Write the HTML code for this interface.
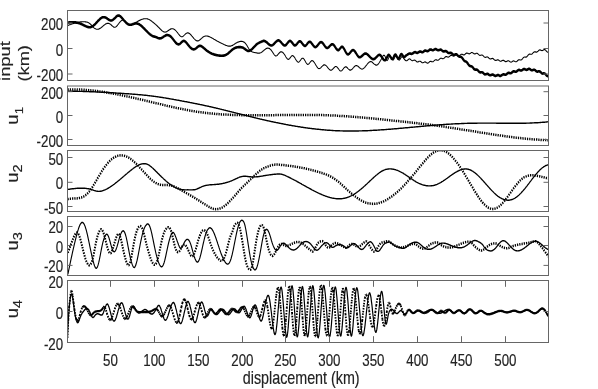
<!DOCTYPE html>
<html><head><meta charset="utf-8"><title>plot</title><style>html,body{margin:0;padding:0;background:#fff}</style></head><body>
<svg width="598" height="389" viewBox="0 0 598 389" style="display:block;font-family:'Liberation Sans',sans-serif">
<rect width="598" height="389" fill="#fff"/>
<clipPath id="cp0"><rect x="67.5" y="10.5" width="481.0" height="70.0"/></clipPath>
<g clip-path="url(#cp0)"><g transform="scale(0.8,1)"><path d="M84.4 22.7L85.0 22.6L85.7 22.5L86.3 22.5L86.9 22.4L87.5 22.3L88.2 22.3L88.8 22.3L89.4 22.2L90.0 22.2L90.7 22.2L91.3 22.2L91.9 22.2L92.5 22.3L93.2 22.3L93.8 22.3L94.4 22.4L95.0 22.5L95.7 22.6L96.3 22.7L96.9 22.8L97.5 22.9L98.2 23.0L98.8 23.2L99.4 23.3L100.0 23.5L100.7 23.7L101.3 23.9L101.9 24.1L102.5 24.4L103.2 24.6L103.8 24.9L104.4 25.1L105.0 25.4L105.7 25.6L106.3 25.9L106.9 26.1L107.5 26.3L108.2 26.5L108.8 26.7L109.4 26.9L110.0 27.0L110.7 27.1L111.3 27.2L111.9 27.2L112.5 27.2L113.2 27.1L113.8 27.0L114.4 26.8L115.0 26.6L115.7 26.3L116.3 26.0L116.9 25.6L117.5 25.1L118.2 24.7L118.8 24.2L119.4 23.7L120.0 23.1L120.7 22.6L121.3 22.0L121.9 21.5L122.5 20.9L123.2 20.4L123.8 19.9L124.4 19.4L125.0 18.9L125.7 18.5L126.3 18.1L126.9 17.8L127.5 17.6L128.2 17.3L128.8 17.2L129.4 17.2L130.0 17.2L130.7 17.3L131.3 17.4L131.9 17.6L132.5 17.8L133.2 18.1L133.8 18.4L134.4 18.8L135.0 19.1L135.7 19.5L136.3 19.8L136.9 20.1L137.5 20.3L138.2 20.5L138.8 20.5L139.4 20.5L140.0 20.3L140.7 20.0L141.3 19.7L141.9 19.3L142.5 18.8L143.2 18.4L143.8 17.9L144.4 17.4L145.0 16.9L145.7 16.4L146.3 16.0L146.9 15.7L147.5 15.6L148.2 15.5L148.8 15.6L149.4 15.8L150.0 16.1L150.7 16.5L151.3 17.0L151.9 17.5L152.5 18.1L153.2 18.7L153.8 19.2L154.4 19.8L155.0 20.4L155.7 21.0L156.3 21.6L156.9 22.1L157.5 22.6L158.2 23.1L158.8 23.5L159.4 23.8L160.0 24.2L160.7 24.4L161.3 24.6L161.9 24.7L162.5 24.8L163.2 24.8L163.8 24.7L164.4 24.6L165.0 24.5L165.7 24.3L166.3 24.1L166.9 24.0L167.5 23.8L168.2 23.6L168.8 23.5L169.4 23.4L170.0 23.4L170.7 23.4L171.3 23.5L171.9 23.6L172.5 23.8L173.2 24.0L173.8 24.2L174.4 24.5L175.0 24.9L175.7 25.2L176.3 25.6L176.9 26.0L177.5 26.5L178.2 26.9L178.8 27.4L179.4 27.9L180.0 28.4L180.7 28.9L181.3 29.4L181.9 29.9L182.5 30.4L183.2 31.0L183.8 31.5L184.4 32.0L185.0 32.5L185.7 33.0L186.3 33.4L186.9 33.9L187.5 34.3L188.2 34.7L188.8 35.1L189.4 35.4L190.0 35.7L190.7 36.0L191.3 36.2L191.9 36.4L192.5 36.5L193.2 36.6L193.8 36.7L194.4 36.9L195.0 37.1L195.7 37.3L196.3 37.6L196.9 37.8L197.5 38.0L198.2 38.2L198.8 38.3L199.4 38.4L200.0 38.4L200.7 38.3L201.3 38.2L201.9 38.0L202.5 37.7L203.2 37.4L203.8 37.1L204.4 36.7L205.0 36.4L205.7 36.1L206.3 35.8L206.9 35.5L207.5 35.3L208.2 35.1L208.8 35.0L209.4 35.0L210.0 35.1L210.7 35.2L211.3 35.4L211.9 35.7L212.5 36.0L213.2 36.4L213.8 36.8L214.4 37.3L215.0 37.9L215.7 38.5L216.3 39.2L216.9 39.8L217.5 40.5L218.2 41.2L218.8 41.8L219.4 42.4L220.0 43.0L220.7 43.4L221.3 43.8L221.9 44.1L222.5 44.3L223.2 44.4L223.8 44.3L224.4 44.1L225.0 43.8L225.7 43.3L226.3 42.8L226.9 42.3L227.5 41.8L228.2 41.4L228.8 41.1L229.4 40.9L230.0 40.9L230.7 41.1L231.3 41.4L231.9 41.8L232.5 42.3L233.2 42.9L233.8 43.5L234.4 44.1L235.0 44.8L235.7 45.4L236.3 46.0L236.9 46.6L237.5 47.2L238.2 47.7L238.8 48.1L239.4 48.5L240.0 48.9L240.7 49.1L241.3 49.3L241.9 49.4L242.5 49.3L243.2 49.2L243.8 49.0L244.4 48.6L245.0 48.3L245.7 47.9L246.3 47.4L246.9 47.0L247.5 46.6L248.2 46.3L248.8 46.0L249.4 45.9L250.0 45.9L250.7 45.9L251.3 46.1L251.9 46.3L252.5 46.6L253.2 47.0L253.8 47.4L254.4 47.8L255.0 48.2L255.7 48.7L256.3 49.1L256.9 49.6L257.5 50.0L258.2 50.4L258.8 50.8L259.4 51.1L260.0 51.5L260.7 51.8L261.3 52.1L261.9 52.4L262.5 52.7L263.2 53.0L263.8 53.2L264.4 53.5L265.0 53.7L265.7 53.9L266.3 54.1L266.9 54.3L267.5 54.5L268.2 54.6L268.8 54.8L269.4 54.9L270.0 55.0L270.7 55.1L271.3 55.2L271.9 55.3L272.5 55.4L273.2 55.5L273.8 55.5L274.4 55.6L275.0 55.6L275.7 55.7L276.3 55.7L276.9 55.7L277.5 55.7L278.2 55.7L278.8 55.6L279.4 55.6L280.0 55.5L280.7 55.4L281.3 55.2L281.9 55.0L282.5 54.8L283.2 54.5L283.8 54.2L284.4 53.9L285.0 53.5L285.7 53.1L286.3 52.6L286.9 52.2L287.5 51.7L288.2 51.2L288.8 50.8L289.4 50.3L290.0 49.9L290.7 49.5L291.3 49.1L291.9 48.8L292.5 48.5L293.2 48.2L293.8 48.0L294.4 47.8L295.0 47.6L295.7 47.5L296.3 47.3L296.9 47.2L297.5 47.2L298.2 47.1L298.8 47.1L299.4 47.1L300.0 47.1L300.7 47.1L301.3 47.2L301.9 47.2L302.5 47.4L303.2 47.6L303.8 47.8L304.4 48.0L305.0 48.4L305.7 48.7L306.3 49.1L306.9 49.5L307.5 49.8L308.2 50.2L308.8 50.5L309.4 50.7L310.0 50.9L310.7 51.0L311.3 50.9L311.9 50.8L312.5 50.6L313.2 50.3L313.8 49.9L314.4 49.5L315.0 49.1L315.7 48.6L316.3 48.1L316.9 47.5L317.5 47.0L318.2 46.4L318.8 45.9L319.4 45.4L320.0 44.9L320.7 44.4L321.3 44.0L321.9 43.7L322.5 43.4L323.2 43.1L323.8 42.8L324.4 42.6L325.0 42.3L325.7 42.1L326.3 41.9L326.9 41.6L327.5 41.4L328.2 41.2L328.8 41.0L329.4 40.9L330.0 40.9L330.7 41.0L331.3 41.2L331.9 41.5L332.5 41.8L333.2 42.2L333.8 42.6L334.4 43.1L335.0 43.6L335.7 44.0L336.3 44.4L336.9 44.8L337.5 45.1L338.2 45.3L338.8 45.5L339.4 45.5L340.0 45.4L340.7 45.1L341.3 44.8L341.9 44.3L342.5 43.9L343.2 43.3L343.8 42.8L344.4 42.2L345.0 41.7L345.7 41.3L346.3 40.9L346.9 40.6L347.5 40.4L348.2 40.4L348.8 40.5L349.4 40.8L350.0 41.2L350.7 41.7L351.3 42.2L351.9 42.8L352.5 43.5L353.2 44.0L353.8 44.6L354.4 45.0L355.0 45.3L355.7 45.5L356.3 45.5L356.9 45.3L357.5 44.9L358.2 44.3L358.8 43.7L359.4 43.0L360.0 42.4L360.7 41.8L361.3 41.3L361.9 41.0L362.5 40.9L363.2 41.0L363.8 41.4L364.4 41.9L365.0 42.6L365.7 43.2L366.3 43.9L366.9 44.5L367.5 45.0L368.2 45.4L368.8 45.4L369.4 45.3L370.0 44.9L370.7 44.4L371.3 43.8L371.9 43.1L372.5 42.5L373.2 42.0L373.8 41.5L374.4 41.3L375.0 41.3L375.7 41.5L376.3 41.9L376.9 42.5L377.5 43.2L378.2 43.9L378.8 44.5L379.4 45.1L380.0 45.6L380.7 45.9L381.3 45.9L381.9 45.7L382.5 45.3L383.2 44.7L383.8 44.1L384.4 43.4L385.0 42.8L385.7 42.3L386.3 41.9L386.9 41.7L387.5 41.8L388.2 42.1L388.8 42.6L389.4 43.2L390.0 43.8L390.7 44.5L391.3 45.2L391.9 45.8L392.5 46.4L393.2 46.8L393.8 47.1L394.4 47.1L395.0 46.9L395.7 46.6L396.3 46.1L396.9 45.5L397.5 44.8L398.2 44.2L398.8 43.5L399.4 43.0L400.0 42.5L400.7 42.2L401.3 42.1L401.9 42.2L402.5 42.5L403.2 42.9L403.8 43.5L404.4 44.2L405.0 44.9L405.7 45.6L406.3 46.3L406.9 46.9L407.5 47.4L408.2 47.8L408.8 48.0L409.4 47.9L410.0 47.7L410.7 47.3L411.3 46.9L411.9 46.3L412.5 45.8L413.2 45.3L413.8 44.8L414.4 44.5L415.0 44.2L415.7 44.2L416.3 44.4L416.9 44.8L417.5 45.3L418.2 46.0L418.8 46.8L419.4 47.5L420.0 48.3L420.7 49.0L421.3 49.6L421.9 50.0L422.5 50.1L423.2 50.1L423.8 49.7L424.4 49.2L425.0 48.6L425.7 47.9L426.3 47.3L426.9 46.9L427.5 46.8L428.2 46.9L428.8 47.3L429.4 48.0L430.0 48.8L430.7 49.7L431.3 50.7L431.9 51.6L432.5 52.5L433.2 53.3L433.8 53.9L434.4 54.3L435.0 54.4L435.7 54.2L436.3 53.9L436.9 53.4L437.5 52.8L438.2 52.2L438.8 51.5L439.4 51.0L440.0 50.5L440.7 50.2L441.3 50.0L441.9 50.2L442.5 50.5L443.2 51.0L443.8 51.6L444.4 52.4L445.0 53.2L445.7 54.0L446.3 54.8L446.9 55.5L447.5 56.2L448.2 56.7L448.8 57.1L449.4 57.2L450.0 57.2L450.7 57.0L451.3 56.7L451.9 56.3L452.5 55.9L453.2 55.4L453.8 54.9L454.4 54.5L455.0 54.1L455.7 53.8L456.3 53.6L456.9 53.5L457.5 53.6L458.2 53.8L458.8 54.1L459.4 54.4L460.0 54.9L460.7 55.4L461.3 55.9L461.9 56.4L462.5 57.0L463.2 57.5L463.8 57.9L464.4 58.4L465.0 58.7L465.7 59.0L466.3 59.1L466.9 59.2L467.5 59.1L468.2 58.8L468.8 58.5L469.4 58.0L470.0 57.5L470.7 56.9L471.3 56.4L471.9 55.9L472.5 55.4L473.2 55.1L473.8 54.9L474.4 54.9L475.0 55.0L475.7 55.4L476.3 56.0L476.9 56.7L477.5 57.4L478.2 58.2L478.8 58.9L479.4 59.6L480.0 60.1L480.7 60.3L481.3 60.3L481.9 60.0L482.5 59.3L483.2 58.3L483.8 57.2L484.4 56.2L485.0 55.4L485.7 54.9L486.3 54.9L486.9 55.4L487.5 56.1L488.2 57.0L488.8 57.8L489.4 58.6L490.0 59.0L490.7 58.9L491.3 58.4L491.9 57.4L492.5 56.3L493.2 55.2L493.8 54.6L494.4 54.6L495.0 55.1L495.7 56.0L496.3 57.0L496.9 57.9L497.5 58.6L498.2 58.7L498.8 58.2L499.4 57.3L500.0 56.0L500.7 54.9L501.3 54.2L501.9 54.0L502.5 54.5L503.2 55.2L503.8 56.1L504.4 56.9L505.0 57.3L505.7 57.1L506.3 56.6L506.9 56.0L507.5 55.5L508.2 55.2L508.8 54.9L509.4 54.6L510.0 54.2L510.7 53.9L511.3 53.6L511.9 53.5L512.5 53.5L513.2 53.6L513.8 53.7L514.4 53.9L515.0 53.8L515.7 53.6L516.3 53.2L516.9 52.8L517.5 52.4L518.2 52.2L518.8 52.1L519.4 52.3L520.0 52.5L520.7 52.8L521.3 52.9L521.9 52.9L522.5 52.6L523.2 52.3L523.8 51.9L524.4 51.6L525.0 51.5L525.7 51.6L526.3 51.8L526.9 52.0L527.5 52.2L528.2 52.2L528.8 52.0L529.4 51.7L530.0 51.2L530.7 50.8L531.3 50.6L531.9 50.6L532.5 50.7L533.2 50.9L533.8 51.1L534.4 51.1L535.0 51.0L535.7 50.7L536.3 50.3L536.9 49.8L537.5 49.6L538.2 49.5L538.8 49.5L539.4 49.8L540.0 50.0L540.7 50.2L541.3 50.2L541.9 50.0L542.5 49.7L543.2 49.4L543.8 49.1L544.4 49.0L545.0 49.1L545.7 49.4L546.3 49.8L546.9 50.1L547.5 50.3L548.2 50.3L548.8 50.1L549.4 49.9L550.0 49.7L550.7 49.6L551.3 49.7L551.9 50.1L552.5 50.5L553.2 51.0L553.8 51.3L554.4 51.4L555.0 51.4L555.7 51.2L556.3 51.1L556.9 51.0L557.5 51.1L558.2 51.4L558.8 51.8L559.4 52.3L560.0 52.7L560.7 53.0L561.3 53.0L561.9 53.0L562.5 52.9L563.2 52.8L563.8 52.9L564.4 53.2L565.0 53.6L565.7 54.1L566.3 54.5L566.9 54.8L567.5 54.9L568.2 54.7L568.8 54.5L569.4 54.3L570.0 54.3L570.7 54.4L571.3 54.7L571.9 55.2L572.5 55.8L573.2 56.2L573.8 56.5L574.4 56.7L575.0 56.7L575.7 56.7L576.3 56.9L576.9 57.2L577.5 57.7L578.2 58.4L578.8 59.2L579.4 59.9L580.0 60.5L580.7 61.0L581.3 61.2L581.9 61.4L582.5 61.6L583.2 61.9L583.8 62.4L584.4 63.1L585.0 63.9L585.7 64.7L586.3 65.3L586.9 65.8L587.5 66.0L588.2 66.1L588.8 66.2L589.4 66.3L590.0 66.6L590.7 67.1L591.3 67.7L591.9 68.4L592.5 69.0L593.2 69.4L593.8 69.6L594.4 69.6L595.0 69.6L595.7 69.6L596.3 69.7L596.9 70.1L597.5 70.6L598.2 71.2L598.8 71.7L599.4 72.1L600.0 72.4L600.7 72.4L601.3 72.3L601.9 72.2L602.5 72.2L603.2 72.4L603.8 72.8L604.4 73.3L605.0 73.8L605.7 74.2L606.3 74.4L606.9 74.3L607.5 74.2L608.2 74.0L608.8 73.8L609.4 73.8L610.0 74.0L610.7 74.4L611.3 74.8L611.9 75.1L612.5 75.3L613.2 75.3L613.8 75.1L614.4 74.9L615.0 74.6L615.7 74.5L616.3 74.6L616.9 74.9L617.5 75.3L618.2 75.6L618.8 75.9L619.4 76.0L620.0 75.8L620.7 75.6L621.3 75.3L621.9 75.1L622.5 75.0L623.2 75.1L623.8 75.4L624.4 75.7L625.0 75.9L625.7 75.9L626.3 75.7L626.9 75.4L627.5 74.9L628.2 74.6L628.8 74.3L629.4 74.3L630.0 74.4L630.7 74.6L631.3 74.8L631.9 74.8L632.5 74.6L633.2 74.3L633.8 73.8L634.4 73.3L635.0 73.0L635.7 72.8L636.3 72.9L636.9 73.0L637.5 73.2L638.2 73.2L638.8 73.1L639.4 72.8L640.0 72.4L640.7 71.9L641.3 71.5L641.9 71.3L642.5 71.2L643.2 71.4L643.8 71.6L644.4 71.7L645.0 71.7L645.7 71.5L646.3 71.1L646.9 70.7L647.5 70.2L648.2 70.0L648.8 69.9L649.4 70.0L650.0 70.2L650.7 70.4L651.3 70.5L651.9 70.4L652.5 70.2L653.2 69.8L653.8 69.4L654.4 69.1L655.0 69.0L655.7 69.1L656.3 69.3L656.9 69.6L657.5 69.8L658.2 69.9L658.8 69.8L659.4 69.5L660.0 69.2L660.7 68.9L661.3 68.8L661.9 68.9L662.5 69.2L663.2 69.6L663.8 70.0L664.4 70.2L665.0 70.3L665.7 70.2L666.3 70.0L666.9 69.8L667.5 69.7L668.2 69.8L668.8 70.1L669.4 70.6L670.0 71.0L670.7 71.4L671.3 71.6L671.9 71.6L672.5 71.5L673.2 71.3L673.8 71.3L674.4 71.4L675.0 71.6L675.7 72.1L676.3 72.6L676.9 73.1L677.5 73.4L678.2 73.6L678.8 73.5L679.4 73.4L680.0 73.4L680.7 73.5L681.3 73.7L681.9 74.2L682.5 74.8L683.2 75.4L683.8 75.8L684.4 76.1L685.0 76.3L685.3 76.3" fill="none" stroke="#000" stroke-width="2.6" stroke-linejoin="round" stroke-linecap="butt"/><path d="M84.4 25.6L85.0 25.4L85.7 25.2L86.3 25.0L86.9 24.8L87.5 24.7L88.2 24.5L88.8 24.3L89.4 24.1L90.0 24.0L90.7 23.8L91.3 23.6L91.9 23.5L92.5 23.3L93.2 23.2L93.8 23.1L94.4 22.9L95.0 22.8L95.7 22.7L96.3 22.5L96.9 22.4L97.5 22.3L98.2 22.2L98.8 22.1L99.4 22.1L100.0 22.0L100.7 21.9L101.3 21.9L101.9 21.8L102.5 21.8L103.2 21.7L103.8 21.7L104.4 21.7L105.0 21.7L105.7 21.7L106.3 21.8L106.9 21.8L107.5 21.9L108.2 22.0L108.8 22.1L109.4 22.3L110.0 22.5L110.7 22.8L111.3 23.1L111.9 23.4L112.5 23.8L113.2 24.3L113.8 24.8L114.4 25.3L115.0 25.8L115.7 26.4L116.3 26.9L116.9 27.4L117.5 27.9L118.2 28.3L118.8 28.6L119.4 28.8L120.0 29.0L120.7 29.2L121.3 29.2L121.9 29.2L122.5 29.2L123.2 29.1L123.8 28.9L124.4 28.6L125.0 28.4L125.7 28.0L126.3 27.7L126.9 27.3L127.5 26.9L128.2 26.5L128.8 26.1L129.4 25.6L130.0 25.2L130.7 24.8L131.3 24.5L131.9 24.1L132.5 23.8L133.2 23.6L133.8 23.4L134.4 23.4L135.0 23.3L135.7 23.4L136.3 23.5L136.9 23.7L137.5 24.0L138.2 24.3L138.8 24.7L139.4 25.2L140.0 25.7L140.7 26.1L141.3 26.6L141.9 26.9L142.5 27.2L143.2 27.2L143.8 27.2L144.4 27.0L145.0 26.7L145.7 26.2L146.3 25.7L146.9 25.2L147.5 24.5L148.2 23.9L148.8 23.2L149.4 22.6L150.0 22.0L150.7 21.4L151.3 20.9L151.9 20.5L152.5 20.2L153.2 20.1L153.8 20.1L154.4 20.2L155.0 20.5L155.7 20.8L156.3 21.2L156.9 21.7L157.5 22.2L158.2 22.7L158.8 23.1L159.4 23.6L160.0 24.0L160.7 24.3L161.3 24.6L161.9 24.8L162.5 24.9L163.2 24.9L163.8 24.8L164.4 24.7L165.0 24.5L165.7 24.3L166.3 24.0L166.9 23.7L167.5 23.5L168.2 23.2L168.8 22.9L169.4 22.6L170.0 22.3L170.7 22.0L171.3 21.7L171.9 21.4L172.5 21.2L173.2 20.9L173.8 20.6L174.4 20.4L175.0 20.2L175.7 19.9L176.3 19.7L176.9 19.5L177.5 19.3L178.2 19.2L178.8 19.0L179.4 18.9L180.0 18.8L180.7 18.7L181.3 18.7L181.9 18.7L182.5 18.7L183.2 18.7L183.8 18.8L184.4 18.9L185.0 19.1L185.7 19.3L186.3 19.5L186.9 19.7L187.5 20.0L188.2 20.4L188.8 20.7L189.4 21.1L190.0 21.5L190.7 21.9L191.3 22.3L191.9 22.7L192.5 23.1L193.2 23.5L193.8 23.9L194.4 24.4L195.0 24.8L195.7 25.3L196.3 25.7L196.9 26.2L197.5 26.7L198.2 27.2L198.8 27.7L199.4 28.3L200.0 28.8L200.7 29.3L201.3 29.8L201.9 30.3L202.5 30.7L203.2 31.1L203.8 31.4L204.4 31.7L205.0 31.9L205.7 32.0L206.3 32.1L206.9 32.0L207.5 31.9L208.2 31.7L208.8 31.4L209.4 31.1L210.0 30.7L210.7 30.4L211.3 30.0L211.9 29.7L212.5 29.4L213.2 29.1L213.8 28.9L214.4 28.8L215.0 28.7L215.7 28.7L216.3 28.8L216.9 29.0L217.5 29.2L218.2 29.5L218.8 29.9L219.4 30.4L220.0 30.9L220.7 31.4L221.3 32.1L221.9 32.7L222.5 33.4L223.2 34.1L223.8 34.7L224.4 35.3L225.0 35.8L225.7 36.3L226.3 36.6L226.9 36.7L227.5 36.7L228.2 36.6L228.8 36.3L229.4 35.9L230.0 35.4L230.7 34.9L231.3 34.4L231.9 33.9L232.5 33.5L233.2 33.2L233.8 33.0L234.4 32.9L235.0 32.9L235.7 33.1L236.3 33.3L236.9 33.6L237.5 34.0L238.2 34.5L238.8 35.0L239.4 35.6L240.0 36.2L240.7 36.8L241.3 37.4L241.9 38.0L242.5 38.6L243.2 39.1L243.8 39.6L244.4 40.1L245.0 40.4L245.7 40.7L246.3 40.9L246.9 40.9L247.5 40.9L248.2 40.7L248.8 40.4L249.4 40.1L250.0 39.7L250.7 39.3L251.3 38.8L251.9 38.4L252.5 37.9L253.2 37.5L253.8 37.1L254.4 36.7L255.0 36.5L255.7 36.3L256.3 36.1L256.9 36.0L257.5 36.0L258.2 36.0L258.8 36.0L259.4 36.1L260.0 36.3L260.7 36.4L261.3 36.6L261.9 36.8L262.5 37.0L263.2 37.3L263.8 37.5L264.4 37.8L265.0 38.1L265.7 38.3L266.3 38.6L266.9 38.9L267.5 39.2L268.2 39.5L268.8 39.8L269.4 40.1L270.0 40.4L270.7 40.7L271.3 41.0L271.9 41.3L272.5 41.5L273.2 41.8L273.8 42.1L274.4 42.3L275.0 42.6L275.7 42.8L276.3 43.1L276.9 43.3L277.5 43.5L278.2 43.8L278.8 44.0L279.4 44.2L280.0 44.5L280.7 44.7L281.3 44.9L281.9 45.2L282.5 45.4L283.2 45.5L283.8 45.7L284.4 45.9L285.0 46.0L285.7 46.1L286.3 46.1L286.9 46.1L287.5 46.1L288.2 46.1L288.8 46.0L289.4 45.8L290.0 45.6L290.7 45.4L291.3 45.1L291.9 44.8L292.5 44.5L293.2 44.1L293.8 43.8L294.4 43.5L295.0 43.1L295.7 42.8L296.3 42.6L296.9 42.3L297.5 42.1L298.2 41.9L298.8 41.7L299.4 41.6L300.0 41.5L300.7 41.4L301.3 41.4L301.9 41.4L302.5 41.4L303.2 41.5L303.8 41.7L304.4 41.9L305.0 42.1L305.7 42.5L306.3 42.9L306.9 43.5L307.5 44.1L308.2 44.8L308.8 45.6L309.4 46.5L310.0 47.4L310.7 48.2L311.3 49.0L311.9 49.7L312.5 50.3L313.2 50.8L313.8 51.2L314.4 51.5L315.0 51.8L315.7 52.0L316.3 52.2L316.9 52.3L317.5 52.4L318.2 52.5L318.8 52.6L319.4 52.7L320.0 52.8L320.7 52.9L321.3 53.0L321.9 53.1L322.5 53.1L323.2 53.2L323.8 53.1L324.4 53.1L325.0 53.0L325.7 52.8L326.3 52.6L326.9 52.3L327.5 51.9L328.2 51.5L328.8 51.1L329.4 50.7L330.0 50.2L330.7 49.8L331.3 49.4L331.9 49.0L332.5 48.7L333.2 48.4L333.8 48.2L334.4 48.1L335.0 48.1L335.7 48.2L336.3 48.4L336.9 48.6L337.5 49.0L338.2 49.4L338.8 50.0L339.4 50.6L340.0 51.3L340.7 52.1L341.3 52.9L341.9 53.7L342.5 54.4L343.2 55.1L343.8 55.6L344.4 55.9L345.0 56.0L345.7 55.8L346.3 55.5L346.9 55.0L347.5 54.4L348.2 53.8L348.8 53.2L349.4 52.7L350.0 52.2L350.7 51.9L351.3 51.8L351.9 51.8L352.5 52.0L353.2 52.3L353.8 52.7L354.4 53.2L355.0 53.9L355.7 54.6L356.3 55.4L356.9 56.3L357.5 57.1L358.2 57.9L358.8 58.5L359.4 59.0L360.0 59.3L360.7 59.3L361.3 59.1L361.9 58.6L362.5 58.0L363.2 57.3L363.8 56.7L364.4 56.1L365.0 55.7L365.7 55.6L366.3 55.8L366.9 56.2L367.5 56.7L368.2 57.4L368.8 58.2L369.4 59.1L370.0 59.9L370.7 60.7L371.3 61.3L371.9 61.8L372.5 62.1L373.2 62.2L373.8 61.9L374.4 61.4L375.0 60.8L375.7 60.1L376.3 59.4L376.9 58.8L377.5 58.4L378.2 58.2L378.8 58.2L379.4 58.6L380.0 59.2L380.7 60.0L381.3 60.8L381.9 61.7L382.5 62.6L383.2 63.3L383.8 63.9L384.4 64.3L385.0 64.3L385.7 64.1L386.3 63.7L386.9 63.1L387.5 62.4L388.2 61.8L388.8 61.2L389.4 60.8L390.0 60.6L390.7 60.7L391.3 61.0L391.9 61.5L392.5 62.1L393.2 62.8L393.8 63.7L394.4 64.5L395.0 65.4L395.7 66.2L396.3 67.0L396.9 67.6L397.5 68.2L398.2 68.5L398.8 68.6L399.4 68.5L400.0 68.3L400.7 67.9L401.3 67.5L401.9 66.9L402.5 66.4L403.2 65.9L403.8 65.5L404.4 65.1L405.0 64.9L405.7 64.8L406.3 65.0L406.9 65.2L407.5 65.6L408.2 66.1L408.8 66.7L409.4 67.3L410.0 68.0L410.7 68.6L411.3 69.1L411.9 69.6L412.5 69.9L413.2 70.2L413.8 70.2L414.4 70.1L415.0 69.7L415.7 69.3L416.3 68.8L416.9 68.2L417.5 67.7L418.2 67.2L418.8 66.8L419.4 66.5L420.0 66.5L420.7 66.7L421.3 67.1L421.9 67.6L422.5 68.3L423.2 68.9L423.8 69.6L424.4 70.2L425.0 70.7L425.7 71.0L426.3 71.0L426.9 70.8L427.5 70.4L428.2 69.8L428.8 69.2L429.4 68.5L430.0 67.9L430.7 67.4L431.3 67.0L431.9 66.8L432.5 66.9L433.2 67.1L433.8 67.5L434.4 68.0L435.0 68.6L435.7 69.1L436.3 69.6L436.9 69.9L437.5 70.1L438.2 70.1L438.8 69.9L439.4 69.6L440.0 69.2L440.7 68.7L441.3 68.1L441.9 67.6L442.5 67.0L443.2 66.5L443.8 66.1L444.4 65.8L445.0 65.6L445.7 65.6L446.3 65.7L446.9 66.0L447.5 66.3L448.2 66.7L448.8 67.2L449.4 67.7L450.0 68.1L450.7 68.5L451.3 68.8L451.9 69.0L452.5 69.1L453.2 69.0L453.8 68.8L454.4 68.5L455.0 68.1L455.7 67.6L456.3 67.0L456.9 66.4L457.5 65.7L458.2 65.1L458.8 64.4L459.4 63.8L460.0 63.2L460.7 62.7L461.3 62.2L461.9 61.9L462.5 61.7L463.2 61.6L463.8 61.6L464.4 61.8L465.0 62.1L465.7 62.5L466.3 63.0L466.9 63.4L467.5 63.9L468.2 64.3L468.8 64.6L469.4 64.9L470.0 65.1L470.7 65.1L471.3 65.0L471.9 64.7L472.5 64.2L473.2 63.7L473.8 63.0L474.4 62.3L475.0 61.4L475.7 60.5L476.3 59.6L476.9 58.7L477.5 57.7L478.2 56.8L478.8 55.9L479.4 55.4L480.0 55.2L480.7 55.5L481.3 56.3L481.9 57.6L482.5 58.9L483.2 60.0L483.8 60.6L484.4 60.3L485.0 59.4L485.7 58.2L486.3 57.0L486.9 56.2L487.5 56.0L488.2 56.4L488.8 57.2L489.4 58.2L490.0 59.1L490.7 59.8L491.3 60.1L491.9 59.7L492.5 58.9L493.2 57.8L493.8 56.8L494.4 56.1L495.0 56.0L495.7 56.4L496.3 57.2L496.9 58.1L497.5 59.0L498.2 59.7L498.8 60.1L499.4 59.9L500.0 59.3L500.7 58.5L501.3 57.6L501.9 56.9L502.5 56.5L503.2 56.7L503.8 57.2L504.4 57.9L505.0 58.8L505.7 59.5L506.3 60.1L506.9 60.4L507.5 60.6L508.2 60.7L508.8 60.6L509.4 60.3L510.0 59.8L510.7 59.3L511.3 59.0L511.9 58.9L512.5 59.0L513.2 59.4L513.8 59.9L514.4 60.3L515.0 60.6L515.7 60.7L516.3 60.5L516.9 60.3L517.5 60.2L518.2 60.1L518.8 60.3L519.4 60.6L520.0 61.1L520.7 61.5L521.3 61.9L521.9 62.0L522.5 61.9L523.2 61.6L523.8 61.3L524.4 61.2L525.0 61.2L525.7 61.4L526.3 61.8L526.9 62.2L527.5 62.6L528.2 62.8L528.8 62.7L529.4 62.5L530.0 62.3L530.7 62.0L531.3 61.9L531.9 62.1L532.5 62.3L533.2 62.7L533.8 63.0L534.4 63.1L535.0 63.1L535.7 62.7L536.3 62.3L536.9 61.8L537.5 61.5L538.2 61.3L538.8 61.4L539.4 61.6L540.0 61.7L540.7 61.8L541.3 61.7L541.9 61.4L542.5 60.9L543.2 60.4L543.8 60.0L544.4 59.7L545.0 59.7L545.7 59.9L546.3 60.1L546.9 60.2L547.5 60.2L548.2 60.0L548.8 59.6L549.4 59.1L550.0 58.6L550.7 58.3L551.3 58.2L551.9 58.2L552.5 58.4L553.2 58.6L553.8 58.7L554.4 58.5L555.0 58.2L555.7 57.7L556.3 57.2L556.9 56.8L557.5 56.6L558.2 56.6L558.8 56.8L559.4 57.0L560.0 57.1L560.7 57.1L561.3 56.8L561.9 56.4L562.5 56.0L563.2 55.5L563.8 55.3L564.4 55.3L565.0 55.5L565.7 55.7L566.3 56.0L566.9 56.1L567.5 56.0L568.2 55.8L568.8 55.4L569.4 55.0L570.0 54.8L570.7 54.8L571.3 54.9L571.9 55.2L572.5 55.6L573.2 55.8L573.8 55.8L574.4 55.6L575.0 55.2L575.7 54.8L576.3 54.4L576.9 54.2L577.5 54.2L578.2 54.4L578.8 54.7L579.4 54.9L580.0 54.9L580.7 54.7L581.3 54.3L581.9 53.8L582.5 53.4L583.2 53.1L583.8 53.0L584.4 53.2L585.0 53.4L585.7 53.7L586.3 53.8L586.9 53.8L587.5 53.5L588.2 53.2L588.8 52.8L589.4 52.5L590.0 52.5L590.7 52.7L591.3 53.0L591.9 53.4L592.5 53.7L593.2 53.9L593.8 53.9L594.4 53.7L595.0 53.4L595.7 53.2L596.3 53.2L596.9 53.5L597.5 53.9L598.2 54.4L598.8 54.9L599.4 55.2L600.0 55.4L600.7 55.3L601.3 55.2L601.9 55.0L602.5 55.0L603.2 55.2L603.8 55.6L604.4 56.1L605.0 56.7L605.7 57.1L606.3 57.3L606.9 57.4L607.5 57.2L608.2 57.0L608.8 56.9L609.4 57.0L610.0 57.2L610.7 57.7L611.3 58.2L611.9 58.6L612.5 58.9L613.2 59.0L613.8 58.9L614.4 58.6L615.0 58.5L615.7 58.4L616.3 58.6L616.9 59.0L617.5 59.5L618.2 59.9L618.8 60.3L619.4 60.4L620.0 60.4L620.7 60.2L621.3 59.9L621.9 59.8L622.5 59.8L623.2 60.0L623.8 60.4L624.4 60.8L625.0 61.1L625.7 61.3L626.3 61.2L626.9 60.9L627.5 60.6L628.2 60.4L628.8 60.2L629.4 60.4L630.0 60.6L630.7 61.0L631.3 61.4L631.9 61.6L632.5 61.6L633.2 61.4L633.8 61.2L634.4 60.9L635.0 60.7L635.7 60.7L636.3 61.0L636.9 61.4L637.5 61.7L638.2 62.0L638.8 62.1L639.4 62.0L640.0 61.7L640.7 61.3L641.3 61.0L641.9 60.9L642.5 61.0L643.2 61.2L643.8 61.5L644.4 61.7L645.0 61.7L645.7 61.6L646.3 61.2L646.9 60.7L647.5 60.2L648.2 59.9L648.8 59.7L649.4 59.7L650.0 59.9L650.7 60.0L651.3 60.0L651.9 59.7L652.5 59.3L653.2 58.7L653.8 58.0L654.4 57.5L655.0 57.2L655.7 57.0L656.3 57.0L656.9 57.1L657.5 57.1L658.2 56.9L658.8 56.5L659.4 55.9L660.0 55.2L660.7 54.7L661.3 54.3L661.9 54.1L662.5 54.1L663.2 54.2L663.8 54.3L664.4 54.2L665.0 54.0L665.7 53.5L666.3 52.9L666.9 52.4L667.5 52.0L668.2 51.8L668.8 51.8L669.4 51.9L670.0 52.1L670.7 52.1L671.3 52.0L671.9 51.6L672.5 51.2L673.2 50.6L673.8 50.2L674.4 49.9L675.0 49.9L675.7 50.1L676.3 50.3L676.9 50.5L677.5 50.6L678.2 50.5L678.8 50.2L679.4 49.9L680.0 49.6L680.7 49.6L681.3 49.7L681.9 50.1L682.5 50.7L683.2 51.3L683.8 51.8L684.4 52.1L685.0 52.3L685.3 52.4" fill="none" stroke="#000" stroke-width="1.15" stroke-linejoin="round" stroke-linecap="butt"/></g></g>
<rect x="67.5" y="10.5" width="481.0" height="70.0" fill="none" stroke="#666" stroke-width="1"/>
<path d="M67.5 23.0h5M548.5 23.0h-5" stroke="#666" stroke-width="1" fill="none"/>
<text transform="translate(63.20,29.80) scale(0.775,1)" font-size="17.2" text-anchor="end" fill="#222" stroke="#222" stroke-width="0.18">200</text>
<path d="M67.5 48.5h5M548.5 48.5h-5" stroke="#666" stroke-width="1" fill="none"/>
<text transform="translate(63.20,55.70) scale(0.775,1)" font-size="17.2" text-anchor="end" fill="#222" stroke="#222" stroke-width="0.18">0</text>
<path d="M67.5 74.0h5M548.5 74.0h-5" stroke="#666" stroke-width="1" fill="none"/>
<text transform="translate(63.20,80.80) scale(0.775,1)" font-size="17.2" text-anchor="end" fill="#222" stroke="#222" stroke-width="0.18">-200</text>
<clipPath id="cp1"><rect x="67.5" y="86.0" width="481.0" height="59.5"/></clipPath>
<g clip-path="url(#cp1)"><g transform="scale(0.8,1)"><path d="M84.4 91.3L85.0 91.3L85.7 91.3L86.3 91.3L86.9 91.3L87.5 91.3L88.2 91.3L88.8 91.3L89.4 91.3L90.0 91.3L90.7 91.3L91.3 91.3L91.9 91.3L92.5 91.3L93.2 91.3L93.8 91.3L94.4 91.3L95.0 91.3L95.7 91.3L96.3 91.3L96.9 91.3L97.5 91.4L98.2 91.4L98.8 91.4L99.4 91.4L100.0 91.4L100.7 91.4L101.3 91.4L101.9 91.4L102.5 91.4L103.2 91.4L103.8 91.5L104.4 91.5L105.0 91.5L105.7 91.5L106.3 91.5L106.9 91.5L107.5 91.5L108.2 91.6L108.8 91.6L109.4 91.6L110.0 91.6L110.7 91.6L111.3 91.6L111.9 91.7L112.5 91.7L113.2 91.7L113.8 91.7L114.4 91.7L115.0 91.8L115.7 91.8L116.3 91.8L116.9 91.8L117.5 91.8L118.2 91.9L118.8 91.9L119.4 91.9L120.0 91.9L120.7 92.0L121.3 92.0L121.9 92.0L122.5 92.0L123.2 92.0L123.8 92.1L124.4 92.1L125.0 92.1L125.7 92.1L126.3 92.2L126.9 92.2L127.5 92.2L128.2 92.2L128.8 92.3L129.4 92.3L130.0 92.3L130.7 92.4L131.3 92.4L131.9 92.4L132.5 92.4L133.2 92.5L133.8 92.5L134.4 92.5L135.0 92.5L135.7 92.6L136.3 92.6L136.9 92.6L137.5 92.7L138.2 92.7L138.8 92.7L139.4 92.8L140.0 92.8L140.7 92.8L141.3 92.8L141.9 92.9L142.5 92.9L143.2 92.9L143.8 93.0L144.4 93.0L145.0 93.0L145.7 93.1L146.3 93.1L146.9 93.1L147.5 93.1L148.2 93.2L148.8 93.2L149.4 93.2L150.0 93.3L150.7 93.3L151.3 93.3L151.9 93.4L152.5 93.4L153.2 93.4L153.8 93.5L154.4 93.5L155.0 93.5L155.7 93.6L156.3 93.6L156.9 93.6L157.5 93.7L158.2 93.7L158.8 93.7L159.4 93.8L160.0 93.8L160.7 93.8L161.3 93.9L161.9 93.9L162.5 93.9L163.2 94.0L163.8 94.0L164.4 94.0L165.0 94.1L165.7 94.1L166.3 94.2L166.9 94.2L167.5 94.2L168.2 94.3L168.8 94.3L169.4 94.4L170.0 94.4L170.7 94.4L171.3 94.5L171.9 94.5L172.5 94.6L173.2 94.6L173.8 94.7L174.4 94.7L175.0 94.7L175.7 94.8L176.3 94.8L176.9 94.9L177.5 94.9L178.2 95.0L178.8 95.0L179.4 95.1L180.0 95.1L180.7 95.2L181.3 95.2L181.9 95.3L182.5 95.3L183.2 95.4L183.8 95.4L184.4 95.5L185.0 95.6L185.7 95.6L186.3 95.7L186.9 95.7L187.5 95.8L188.2 95.9L188.8 95.9L189.4 96.0L190.0 96.0L190.7 96.1L191.3 96.2L191.9 96.2L192.5 96.3L193.2 96.4L193.8 96.4L194.4 96.5L195.0 96.6L195.7 96.6L196.3 96.7L196.9 96.8L197.5 96.9L198.2 96.9L198.8 97.0L199.4 97.1L200.0 97.2L200.7 97.2L201.3 97.3L201.9 97.4L202.5 97.5L203.2 97.5L203.8 97.6L204.4 97.7L205.0 97.8L205.7 97.9L206.3 97.9L206.9 98.0L207.5 98.1L208.2 98.2L208.8 98.3L209.4 98.4L210.0 98.5L210.7 98.5L211.3 98.6L211.9 98.7L212.5 98.8L213.2 98.9L213.8 99.0L214.4 99.1L215.0 99.1L215.7 99.2L216.3 99.3L216.9 99.4L217.5 99.5L218.2 99.6L218.8 99.7L219.4 99.8L220.0 99.9L220.7 100.0L221.3 100.1L221.9 100.1L222.5 100.2L223.2 100.3L223.8 100.4L224.4 100.5L225.0 100.6L225.7 100.7L226.3 100.8L226.9 100.9L227.5 101.0L228.2 101.1L228.8 101.2L229.4 101.3L230.0 101.4L230.7 101.5L231.3 101.6L231.9 101.6L232.5 101.7L233.2 101.8L233.8 101.9L234.4 102.0L235.0 102.1L235.7 102.2L236.3 102.3L236.9 102.4L237.5 102.5L238.2 102.6L238.8 102.7L239.4 102.8L240.0 102.9L240.7 103.0L241.3 103.1L241.9 103.2L242.5 103.3L243.2 103.4L243.8 103.5L244.4 103.6L245.0 103.7L245.7 103.8L246.3 103.9L246.9 104.0L247.5 104.1L248.2 104.2L248.8 104.3L249.4 104.4L250.0 104.5L250.7 104.6L251.3 104.7L251.9 104.8L252.5 104.9L253.2 105.0L253.8 105.1L254.4 105.2L255.0 105.4L255.7 105.5L256.3 105.6L256.9 105.7L257.5 105.8L258.2 105.9L258.8 106.0L259.4 106.1L260.0 106.2L260.7 106.3L261.3 106.4L261.9 106.6L262.5 106.7L263.2 106.8L263.8 106.9L264.4 107.0L265.0 107.1L265.7 107.2L266.3 107.4L266.9 107.5L267.5 107.6L268.2 107.7L268.8 107.8L269.4 107.9L270.0 108.1L270.7 108.2L271.3 108.3L271.9 108.4L272.5 108.5L273.2 108.6L273.8 108.8L274.4 108.9L275.0 109.0L275.7 109.1L276.3 109.3L276.9 109.4L277.5 109.5L278.2 109.6L278.8 109.7L279.4 109.9L280.0 110.0L280.7 110.1L281.3 110.2L281.9 110.4L282.5 110.5L283.2 110.6L283.8 110.7L284.4 110.9L285.0 111.0L285.7 111.1L286.3 111.2L286.9 111.4L287.5 111.5L288.2 111.6L288.8 111.7L289.4 111.9L290.0 112.0L290.7 112.1L291.3 112.2L291.9 112.4L292.5 112.5L293.2 112.6L293.8 112.8L294.4 112.9L295.0 113.0L295.7 113.1L296.3 113.3L296.9 113.4L297.5 113.5L298.2 113.6L298.8 113.8L299.4 113.9L300.0 114.0L300.7 114.2L301.3 114.3L301.9 114.4L302.5 114.5L303.2 114.7L303.8 114.8L304.4 114.9L305.0 115.0L305.7 115.2L306.3 115.3L306.9 115.4L307.5 115.5L308.2 115.7L308.8 115.8L309.4 115.9L310.0 116.0L310.7 116.2L311.3 116.3L311.9 116.4L312.5 116.5L313.2 116.7L313.8 116.8L314.4 116.9L315.0 117.0L315.7 117.2L316.3 117.3L316.9 117.4L317.5 117.5L318.2 117.7L318.8 117.8L319.4 117.9L320.0 118.0L320.7 118.1L321.3 118.3L321.9 118.4L322.5 118.5L323.2 118.6L323.8 118.7L324.4 118.9L325.0 119.0L325.7 119.1L326.3 119.2L326.9 119.3L327.5 119.4L328.2 119.6L328.8 119.7L329.4 119.8L330.0 119.9L330.7 120.0L331.3 120.1L331.9 120.2L332.5 120.4L333.2 120.5L333.8 120.6L334.4 120.7L335.0 120.8L335.7 120.9L336.3 121.0L336.9 121.1L337.5 121.2L338.2 121.4L338.8 121.5L339.4 121.6L340.0 121.7L340.7 121.8L341.3 121.9L341.9 122.0L342.5 122.1L343.2 122.2L343.8 122.3L344.4 122.4L345.0 122.5L345.7 122.6L346.3 122.7L346.9 122.8L347.5 122.9L348.2 123.0L348.8 123.1L349.4 123.2L350.0 123.3L350.7 123.4L351.3 123.5L351.9 123.6L352.5 123.7L353.2 123.8L353.8 123.9L354.4 124.0L355.0 124.1L355.7 124.2L356.3 124.3L356.9 124.4L357.5 124.5L358.2 124.6L358.8 124.7L359.4 124.8L360.0 124.9L360.7 125.0L361.3 125.1L361.9 125.2L362.5 125.2L363.2 125.3L363.8 125.4L364.4 125.5L365.0 125.6L365.7 125.7L366.3 125.8L366.9 125.9L367.5 125.9L368.2 126.0L368.8 126.1L369.4 126.2L370.0 126.3L370.7 126.4L371.3 126.4L371.9 126.5L372.5 126.6L373.2 126.7L373.8 126.8L374.4 126.8L375.0 126.9L375.7 127.0L376.3 127.1L376.9 127.2L377.5 127.2L378.2 127.3L378.8 127.4L379.4 127.5L380.0 127.5L380.7 127.6L381.3 127.7L381.9 127.7L382.5 127.8L383.2 127.9L383.8 128.0L384.4 128.0L385.0 128.1L385.7 128.2L386.3 128.2L386.9 128.3L387.5 128.4L388.2 128.4L388.8 128.5L389.4 128.5L390.0 128.6L390.7 128.7L391.3 128.7L391.9 128.8L392.5 128.8L393.2 128.9L393.8 129.0L394.4 129.0L395.0 129.1L395.7 129.1L396.3 129.2L396.9 129.2L397.5 129.3L398.2 129.3L398.8 129.4L399.4 129.4L400.0 129.5L400.7 129.5L401.3 129.6L401.9 129.6L402.5 129.7L403.2 129.7L403.8 129.8L404.4 129.8L405.0 129.9L405.7 129.9L406.3 130.0L406.9 130.0L407.5 130.0L408.2 130.1L408.8 130.1L409.4 130.2L410.0 130.2L410.7 130.2L411.3 130.3L411.9 130.3L412.5 130.3L413.2 130.4L413.8 130.4L414.4 130.4L415.0 130.5L415.7 130.5L416.3 130.5L416.9 130.6L417.5 130.6L418.2 130.6L418.8 130.6L419.4 130.7L420.0 130.7L420.7 130.7L421.3 130.7L421.9 130.8L422.5 130.8L423.2 130.8L423.8 130.8L424.4 130.8L425.0 130.9L425.7 130.9L426.3 130.9L426.9 130.9L427.5 130.9L428.2 130.9L428.8 131.0L429.4 131.0L430.0 131.0L430.7 131.0L431.3 131.0L431.9 131.0L432.5 131.0L433.2 131.0L433.8 131.0L434.4 131.0L435.0 131.0L435.7 131.0L436.3 131.0L436.9 131.0L437.5 131.0L438.2 131.0L438.8 131.0L439.4 131.0L440.0 131.0L440.7 131.0L441.3 131.0L441.9 131.0L442.5 131.0L443.2 131.0L443.8 131.0L444.4 131.0L445.0 131.0L445.7 131.0L446.3 131.0L446.9 131.0L447.5 131.0L448.2 131.0L448.8 130.9L449.4 130.9L450.0 130.9L450.7 130.9L451.3 130.9L451.9 130.9L452.5 130.9L453.2 130.8L453.8 130.8L454.4 130.8L455.0 130.8L455.7 130.8L456.3 130.8L456.9 130.7L457.5 130.7L458.2 130.7L458.8 130.7L459.4 130.7L460.0 130.6L460.7 130.6L461.3 130.6L461.9 130.6L462.5 130.5L463.2 130.5L463.8 130.5L464.4 130.5L465.0 130.4L465.7 130.4L466.3 130.4L466.9 130.3L467.5 130.3L468.2 130.3L468.8 130.3L469.4 130.2L470.0 130.2L470.7 130.2L471.3 130.1L471.9 130.1L472.5 130.1L473.2 130.0L473.8 130.0L474.4 130.0L475.0 129.9L475.7 129.9L476.3 129.9L476.9 129.8L477.5 129.8L478.2 129.8L478.8 129.7L479.4 129.7L480.0 129.7L480.7 129.6L481.3 129.6L481.9 129.6L482.5 129.5L483.2 129.5L483.8 129.4L484.4 129.4L485.0 129.4L485.7 129.3L486.3 129.3L486.9 129.2L487.5 129.2L488.2 129.2L488.8 129.1L489.4 129.1L490.0 129.0L490.7 129.0L491.3 129.0L491.9 128.9L492.5 128.9L493.2 128.8L493.8 128.8L494.4 128.7L495.0 128.7L495.7 128.7L496.3 128.6L496.9 128.6L497.5 128.5L498.2 128.5L498.8 128.4L499.4 128.4L500.0 128.3L500.7 128.3L501.3 128.3L501.9 128.2L502.5 128.2L503.2 128.1L503.8 128.1L504.4 128.0L505.0 128.0L505.7 127.9L506.3 127.9L506.9 127.8L507.5 127.8L508.2 127.8L508.8 127.7L509.4 127.7L510.0 127.6L510.7 127.6L511.3 127.5L511.9 127.5L512.5 127.4L513.2 127.4L513.8 127.3L514.4 127.3L515.0 127.2L515.7 127.2L516.3 127.1L516.9 127.1L517.5 127.1L518.2 127.0L518.8 127.0L519.4 126.9L520.0 126.9L520.7 126.8L521.3 126.8L521.9 126.7L522.5 126.7L523.2 126.6L523.8 126.6L524.4 126.5L525.0 126.5L525.7 126.5L526.3 126.4L526.9 126.4L527.5 126.3L528.2 126.3L528.8 126.2L529.4 126.2L530.0 126.1L530.7 126.1L531.3 126.0L531.9 126.0L532.5 126.0L533.2 125.9L533.8 125.9L534.4 125.8L535.0 125.8L535.7 125.7L536.3 125.7L536.9 125.7L537.5 125.6L538.2 125.6L538.8 125.5L539.4 125.5L540.0 125.4L540.7 125.4L541.3 125.4L541.9 125.3L542.5 125.3L543.2 125.2L543.8 125.2L544.4 125.1L545.0 125.1L545.7 125.1L546.3 125.0L546.9 125.0L547.5 125.0L548.2 124.9L548.8 124.9L549.4 124.8L550.0 124.8L550.7 124.8L551.3 124.7L551.9 124.7L552.5 124.6L553.2 124.6L553.8 124.6L554.4 124.5L555.0 124.5L555.7 124.5L556.3 124.4L556.9 124.4L557.5 124.4L558.2 124.3L558.8 124.3L559.4 124.3L560.0 124.2L560.7 124.2L561.3 124.2L561.9 124.1L562.5 124.1L563.2 124.1L563.8 124.1L564.4 124.0L565.0 124.0L565.7 124.0L566.3 123.9L566.9 123.9L567.5 123.9L568.2 123.9L568.8 123.8L569.4 123.8L570.0 123.8L570.7 123.8L571.3 123.7L571.9 123.7L572.5 123.7L573.2 123.7L573.8 123.7L574.4 123.6L575.0 123.6L575.7 123.6L576.3 123.6L576.9 123.5L577.5 123.5L578.2 123.5L578.8 123.5L579.4 123.5L580.0 123.5L580.7 123.4L581.3 123.4L581.9 123.4L582.5 123.4L583.2 123.4L583.8 123.4L584.4 123.3L585.0 123.3L585.7 123.3L586.3 123.3L586.9 123.3L587.5 123.3L588.2 123.3L588.8 123.3L589.4 123.2L590.0 123.2L590.7 123.2L591.3 123.2L591.9 123.2L592.5 123.2L593.2 123.2L593.8 123.2L594.4 123.2L595.0 123.2L595.7 123.2L596.3 123.2L596.9 123.1L597.5 123.1L598.2 123.1L598.8 123.1L599.4 123.1L600.0 123.1L600.7 123.1L601.3 123.1L601.9 123.1L602.5 123.1L603.2 123.1L603.8 123.1L604.4 123.1L605.0 123.1L605.7 123.1L606.3 123.1L606.9 123.1L607.5 123.1L608.2 123.1L608.8 123.1L609.4 123.1L610.0 123.1L610.7 123.1L611.3 123.1L611.9 123.1L612.5 123.1L613.2 123.1L613.8 123.1L614.4 123.1L615.0 123.1L615.7 123.1L616.3 123.1L616.9 123.1L617.5 123.1L618.2 123.1L618.8 123.1L619.4 123.1L620.0 123.1L620.7 123.2L621.3 123.2L621.9 123.2L622.5 123.2L623.2 123.2L623.8 123.2L624.4 123.2L625.0 123.2L625.7 123.2L626.3 123.2L626.9 123.2L627.5 123.2L628.2 123.2L628.8 123.2L629.4 123.2L630.0 123.2L630.7 123.2L631.3 123.2L631.9 123.2L632.5 123.2L633.2 123.2L633.8 123.3L634.4 123.3L635.0 123.3L635.7 123.3L636.3 123.3L636.9 123.3L637.5 123.3L638.2 123.3L638.8 123.3L639.4 123.3L640.0 123.3L640.7 123.3L641.3 123.3L641.9 123.3L642.5 123.3L643.2 123.3L643.8 123.3L644.4 123.3L645.0 123.3L645.7 123.3L646.3 123.3L646.9 123.3L647.5 123.3L648.2 123.3L648.8 123.3L649.4 123.3L650.0 123.3L650.7 123.3L651.3 123.2L651.9 123.2L652.5 123.2L653.2 123.2L653.8 123.2L654.4 123.2L655.0 123.2L655.7 123.2L656.3 123.2L656.9 123.2L657.5 123.2L658.2 123.1L658.8 123.1L659.4 123.1L660.0 123.1L660.7 123.1L661.3 123.1L661.9 123.1L662.5 123.0L663.2 123.0L663.8 123.0L664.4 123.0L665.0 123.0L665.7 122.9L666.3 122.9L666.9 122.9L667.5 122.9L668.2 122.8L668.8 122.8L669.4 122.8L670.0 122.8L670.7 122.7L671.3 122.7L671.9 122.7L672.5 122.7L673.2 122.6L673.8 122.6L674.4 122.6L675.0 122.5L675.7 122.5L676.3 122.4L676.9 122.4L677.5 122.4L678.2 122.3L678.8 122.3L679.4 122.2L680.0 122.2L680.7 122.2L681.3 122.1L681.9 122.1L682.5 122.0L683.2 122.0L683.8 121.9L684.4 121.9L685.0 121.8L685.3 121.8" fill="none" stroke="#000" stroke-width="1.4" stroke-linejoin="round" stroke-linecap="butt"/><path d="M84.4 89.4L85.0 89.4L85.7 89.4L86.3 89.4L86.9 89.4L87.5 89.4L88.2 89.4L88.8 89.4L89.4 89.4L90.0 89.4L90.7 89.4L91.3 89.4L91.9 89.4L92.5 89.4L93.2 89.4L93.8 89.4L94.4 89.4L95.0 89.4L95.7 89.4L96.3 89.5L96.9 89.5L97.5 89.5L98.2 89.5L98.8 89.5L99.4 89.5L100.0 89.6L100.7 89.6L101.3 89.6L101.9 89.6L102.5 89.7L103.2 89.7L103.8 89.7L104.4 89.8L105.0 89.8L105.7 89.8L106.3 89.9L106.9 89.9L107.5 89.9L108.2 90.0L108.8 90.0L109.4 90.1L110.0 90.1L110.7 90.2L111.3 90.2L111.9 90.2L112.5 90.3L113.2 90.3L113.8 90.4L114.4 90.4L115.0 90.5L115.7 90.5L116.3 90.6L116.9 90.7L117.5 90.7L118.2 90.8L118.8 90.8L119.4 90.9L120.0 91.0L120.7 91.0L121.3 91.1L121.9 91.1L122.5 91.2L123.2 91.3L123.8 91.3L124.4 91.4L125.0 91.5L125.7 91.5L126.3 91.6L126.9 91.7L127.5 91.8L128.2 91.8L128.8 91.9L129.4 92.0L130.0 92.1L130.7 92.1L131.3 92.2L131.9 92.3L132.5 92.4L133.2 92.5L133.8 92.5L134.4 92.6L135.0 92.7L135.7 92.8L136.3 92.9L136.9 93.0L137.5 93.0L138.2 93.1L138.8 93.2L139.4 93.3L140.0 93.4L140.7 93.5L141.3 93.6L141.9 93.7L142.5 93.8L143.2 93.9L143.8 94.0L144.4 94.0L145.0 94.1L145.7 94.2L146.3 94.3L146.9 94.4L147.5 94.5L148.2 94.6L148.8 94.7L149.4 94.8L150.0 94.9L150.7 95.0L151.3 95.1L151.9 95.2L152.5 95.3L153.2 95.4L153.8 95.5L154.4 95.6L155.0 95.8L155.7 95.9L156.3 96.0L156.9 96.1L157.5 96.2L158.2 96.3L158.8 96.4L159.4 96.5L160.0 96.6L160.7 96.7L161.3 96.8L161.9 96.9L162.5 97.1L163.2 97.2L163.8 97.3L164.4 97.4L165.0 97.5L165.7 97.6L166.3 97.7L166.9 97.8L167.5 97.9L168.2 98.1L168.8 98.2L169.4 98.3L170.0 98.4L170.7 98.5L171.3 98.6L171.9 98.8L172.5 98.9L173.2 99.0L173.8 99.1L174.4 99.2L175.0 99.3L175.7 99.5L176.3 99.6L176.9 99.7L177.5 99.8L178.2 99.9L178.8 100.0L179.4 100.2L180.0 100.3L180.7 100.4L181.3 100.5L181.9 100.6L182.5 100.8L183.2 100.9L183.8 101.0L184.4 101.1L185.0 101.2L185.7 101.4L186.3 101.5L186.9 101.6L187.5 101.7L188.2 101.8L188.8 102.0L189.4 102.1L190.0 102.2L190.7 102.3L191.3 102.4L191.9 102.6L192.5 102.7L193.2 102.8L193.8 102.9L194.4 103.0L195.0 103.2L195.7 103.3L196.3 103.4L196.9 103.5L197.5 103.6L198.2 103.7L198.8 103.9L199.4 104.0L200.0 104.1L200.7 104.2L201.3 104.3L201.9 104.5L202.5 104.6L203.2 104.7L203.8 104.8L204.4 104.9L205.0 105.1L205.7 105.2L206.3 105.3L206.9 105.4L207.5 105.5L208.2 105.6L208.8 105.8L209.4 105.9L210.0 106.0L210.7 106.1L211.3 106.2L211.9 106.3L212.5 106.4L213.2 106.6L213.8 106.7L214.4 106.8L215.0 106.9L215.7 107.0L216.3 107.1L216.9 107.2L217.5 107.3L218.2 107.4L218.8 107.6L219.4 107.7L220.0 107.8L220.7 107.9L221.3 108.0L221.9 108.1L222.5 108.2L223.2 108.3L223.8 108.4L224.4 108.5L225.0 108.6L225.7 108.7L226.3 108.8L226.9 108.9L227.5 109.0L228.2 109.1L228.8 109.2L229.4 109.3L230.0 109.4L230.7 109.5L231.3 109.6L231.9 109.7L232.5 109.8L233.2 109.9L233.8 110.0L234.4 110.1L235.0 110.2L235.7 110.3L236.3 110.4L236.9 110.5L237.5 110.6L238.2 110.7L238.8 110.7L239.4 110.8L240.0 110.9L240.7 111.0L241.3 111.1L241.9 111.2L242.5 111.3L243.2 111.3L243.8 111.4L244.4 111.5L245.0 111.6L245.7 111.7L246.3 111.7L246.9 111.8L247.5 111.9L248.2 112.0L248.8 112.0L249.4 112.1L250.0 112.2L250.7 112.2L251.3 112.3L251.9 112.4L252.5 112.5L253.2 112.5L253.8 112.6L254.4 112.6L255.0 112.7L255.7 112.8L256.3 112.8L256.9 112.9L257.5 113.0L258.2 113.0L258.8 113.1L259.4 113.1L260.0 113.2L260.7 113.2L261.3 113.3L261.9 113.3L262.5 113.4L263.2 113.4L263.8 113.5L264.4 113.5L265.0 113.6L265.7 113.6L266.3 113.7L266.9 113.7L267.5 113.8L268.2 113.8L268.8 113.9L269.4 113.9L270.0 113.9L270.7 114.0L271.3 114.0L271.9 114.1L272.5 114.1L273.2 114.1L273.8 114.2L274.4 114.2L275.0 114.3L275.7 114.3L276.3 114.3L276.9 114.4L277.5 114.4L278.2 114.4L278.8 114.4L279.4 114.5L280.0 114.5L280.7 114.5L281.3 114.6L281.9 114.6L282.5 114.6L283.2 114.6L283.8 114.7L284.4 114.7L285.0 114.7L285.7 114.7L286.3 114.8L286.9 114.8L287.5 114.8L288.2 114.8L288.8 114.9L289.4 114.9L290.0 114.9L290.7 114.9L291.3 114.9L291.9 114.9L292.5 115.0L293.2 115.0L293.8 115.0L294.4 115.0L295.0 115.0L295.7 115.0L296.3 115.1L296.9 115.1L297.5 115.1L298.2 115.1L298.8 115.1L299.4 115.1L300.0 115.1L300.7 115.1L301.3 115.2L301.9 115.2L302.5 115.2L303.2 115.2L303.8 115.2L304.4 115.2L305.0 115.2L305.7 115.2L306.3 115.2L306.9 115.2L307.5 115.2L308.2 115.2L308.8 115.2L309.4 115.2L310.0 115.3L310.7 115.3L311.3 115.3L311.9 115.3L312.5 115.3L313.2 115.3L313.8 115.3L314.4 115.3L315.0 115.3L315.7 115.3L316.3 115.3L316.9 115.3L317.5 115.3L318.2 115.3L318.8 115.3L319.4 115.3L320.0 115.3L320.7 115.3L321.3 115.3L321.9 115.3L322.5 115.3L323.2 115.3L323.8 115.3L324.4 115.3L325.0 115.3L325.7 115.3L326.3 115.3L326.9 115.3L327.5 115.3L328.2 115.3L328.8 115.3L329.4 115.3L330.0 115.3L330.7 115.3L331.3 115.2L331.9 115.2L332.5 115.2L333.2 115.2L333.8 115.2L334.4 115.2L335.0 115.2L335.7 115.2L336.3 115.2L336.9 115.2L337.5 115.2L338.2 115.2L338.8 115.2L339.4 115.2L340.0 115.2L340.7 115.2L341.3 115.2L341.9 115.2L342.5 115.2L343.2 115.2L343.8 115.1L344.4 115.1L345.0 115.1L345.7 115.1L346.3 115.1L346.9 115.1L347.5 115.1L348.2 115.1L348.8 115.1L349.4 115.1L350.0 115.1L350.7 115.1L351.3 115.1L351.9 115.1L352.5 115.1L353.2 115.0L353.8 115.0L354.4 115.0L355.0 115.0L355.7 115.0L356.3 115.0L356.9 115.0L357.5 115.0L358.2 115.0L358.8 115.0L359.4 115.0L360.0 115.0L360.7 115.0L361.3 115.0L361.9 115.0L362.5 115.0L363.2 115.0L363.8 115.0L364.4 114.9L365.0 114.9L365.7 114.9L366.3 114.9L366.9 114.9L367.5 114.9L368.2 114.9L368.8 114.9L369.4 114.9L370.0 114.9L370.7 114.9L371.3 114.9L371.9 114.9L372.5 114.9L373.2 114.9L373.8 114.9L374.4 114.9L375.0 114.9L375.7 114.9L376.3 114.9L376.9 114.9L377.5 114.9L378.2 114.9L378.8 114.9L379.4 114.9L380.0 114.9L380.7 114.9L381.3 114.9L381.9 114.9L382.5 114.9L383.2 114.9L383.8 114.9L384.4 114.9L385.0 114.9L385.7 114.9L386.3 114.9L386.9 114.9L387.5 114.9L388.2 114.9L388.8 114.9L389.4 114.9L390.0 114.9L390.7 114.9L391.3 114.9L391.9 114.9L392.5 114.9L393.2 115.0L393.8 115.0L394.4 115.0L395.0 115.0L395.7 115.0L396.3 115.0L396.9 115.0L397.5 115.0L398.2 115.0L398.8 115.0L399.4 115.0L400.0 115.1L400.7 115.1L401.3 115.1L401.9 115.1L402.5 115.1L403.2 115.1L403.8 115.1L404.4 115.1L405.0 115.2L405.7 115.2L406.3 115.2L406.9 115.2L407.5 115.2L408.2 115.2L408.8 115.3L409.4 115.3L410.0 115.3L410.7 115.3L411.3 115.3L411.9 115.4L412.5 115.4L413.2 115.4L413.8 115.4L414.4 115.4L415.0 115.5L415.7 115.5L416.3 115.5L416.9 115.5L417.5 115.6L418.2 115.6L418.8 115.6L419.4 115.6L420.0 115.7L420.7 115.7L421.3 115.7L421.9 115.7L422.5 115.8L423.2 115.8L423.8 115.8L424.4 115.9L425.0 115.9L425.7 115.9L426.3 115.9L426.9 116.0L427.5 116.0L428.2 116.0L428.8 116.1L429.4 116.1L430.0 116.1L430.7 116.2L431.3 116.2L431.9 116.2L432.5 116.3L433.2 116.3L433.8 116.3L434.4 116.4L435.0 116.4L435.7 116.4L436.3 116.5L436.9 116.5L437.5 116.5L438.2 116.6L438.8 116.6L439.4 116.7L440.0 116.7L440.7 116.7L441.3 116.8L441.9 116.8L442.5 116.8L443.2 116.9L443.8 116.9L444.4 117.0L445.0 117.0L445.7 117.0L446.3 117.1L446.9 117.1L447.5 117.2L448.2 117.2L448.8 117.3L449.4 117.3L450.0 117.3L450.7 117.4L451.3 117.4L451.9 117.5L452.5 117.5L453.2 117.6L453.8 117.6L454.4 117.6L455.0 117.7L455.7 117.7L456.3 117.8L456.9 117.8L457.5 117.9L458.2 117.9L458.8 118.0L459.4 118.0L460.0 118.0L460.7 118.1L461.3 118.1L461.9 118.2L462.5 118.2L463.2 118.3L463.8 118.3L464.4 118.4L465.0 118.4L465.7 118.5L466.3 118.5L466.9 118.6L467.5 118.6L468.2 118.7L468.8 118.7L469.4 118.8L470.0 118.8L470.7 118.9L471.3 118.9L471.9 119.0L472.5 119.0L473.2 119.1L473.8 119.1L474.4 119.2L475.0 119.2L475.7 119.3L476.3 119.3L476.9 119.4L477.5 119.4L478.2 119.5L478.8 119.5L479.4 119.6L480.0 119.6L480.7 119.7L481.3 119.7L481.9 119.8L482.5 119.8L483.2 119.9L483.8 119.9L484.4 120.0L485.0 120.0L485.7 120.1L486.3 120.1L486.9 120.2L487.5 120.2L488.2 120.3L488.8 120.3L489.4 120.4L490.0 120.5L490.7 120.5L491.3 120.6L491.9 120.6L492.5 120.7L493.2 120.7L493.8 120.8L494.4 120.8L495.0 120.9L495.7 120.9L496.3 121.0L496.9 121.0L497.5 121.1L498.2 121.1L498.8 121.2L499.4 121.3L500.0 121.3L500.7 121.4L501.3 121.4L501.9 121.5L502.5 121.5L503.2 121.6L503.8 121.6L504.4 121.7L505.0 121.7L505.7 121.8L506.3 121.8L506.9 121.9L507.5 122.0L508.2 122.0L508.8 122.1L509.4 122.1L510.0 122.2L510.7 122.2L511.3 122.3L511.9 122.3L512.5 122.4L513.2 122.5L513.8 122.5L514.4 122.6L515.0 122.6L515.7 122.7L516.3 122.7L516.9 122.8L517.5 122.9L518.2 122.9L518.8 123.0L519.4 123.0L520.0 123.1L520.7 123.1L521.3 123.2L521.9 123.3L522.5 123.3L523.2 123.4L523.8 123.4L524.4 123.5L525.0 123.5L525.7 123.6L526.3 123.7L526.9 123.7L527.5 123.8L528.2 123.8L528.8 123.9L529.4 124.0L530.0 124.0L530.7 124.1L531.3 124.2L531.9 124.2L532.5 124.3L533.2 124.3L533.8 124.4L534.4 124.5L535.0 124.5L535.7 124.6L536.3 124.7L536.9 124.7L537.5 124.8L538.2 124.8L538.8 124.9L539.4 125.0L540.0 125.0L540.7 125.1L541.3 125.2L541.9 125.2L542.5 125.3L543.2 125.4L543.8 125.4L544.4 125.5L545.0 125.6L545.7 125.6L546.3 125.7L546.9 125.8L547.5 125.8L548.2 125.9L548.8 126.0L549.4 126.1L550.0 126.1L550.7 126.2L551.3 126.3L551.9 126.3L552.5 126.4L553.2 126.5L553.8 126.6L554.4 126.6L555.0 126.7L555.7 126.8L556.3 126.9L556.9 126.9L557.5 127.0L558.2 127.1L558.8 127.1L559.4 127.2L560.0 127.3L560.7 127.4L561.3 127.4L561.9 127.5L562.5 127.6L563.2 127.7L563.8 127.8L564.4 127.8L565.0 127.9L565.7 128.0L566.3 128.1L566.9 128.1L567.5 128.2L568.2 128.3L568.8 128.4L569.4 128.4L570.0 128.5L570.7 128.6L571.3 128.7L571.9 128.8L572.5 128.8L573.2 128.9L573.8 129.0L574.4 129.1L575.0 129.2L575.7 129.2L576.3 129.3L576.9 129.4L577.5 129.5L578.2 129.6L578.8 129.6L579.4 129.7L580.0 129.8L580.7 129.9L581.3 130.0L581.9 130.0L582.5 130.1L583.2 130.2L583.8 130.3L584.4 130.4L585.0 130.4L585.7 130.5L586.3 130.6L586.9 130.7L587.5 130.8L588.2 130.8L588.8 130.9L589.4 131.0L590.0 131.1L590.7 131.2L591.3 131.2L591.9 131.3L592.5 131.4L593.2 131.5L593.8 131.6L594.4 131.6L595.0 131.7L595.7 131.8L596.3 131.9L596.9 132.0L597.5 132.1L598.2 132.1L598.8 132.2L599.4 132.3L600.0 132.4L600.7 132.5L601.3 132.5L601.9 132.6L602.5 132.7L603.2 132.8L603.8 132.9L604.4 132.9L605.0 133.0L605.7 133.1L606.3 133.2L606.9 133.3L607.5 133.3L608.2 133.4L608.8 133.5L609.4 133.6L610.0 133.6L610.7 133.7L611.3 133.8L611.9 133.9L612.5 134.0L613.2 134.0L613.8 134.1L614.4 134.2L615.0 134.3L615.7 134.3L616.3 134.4L616.9 134.5L617.5 134.6L618.2 134.7L618.8 134.7L619.4 134.8L620.0 134.9L620.7 135.0L621.3 135.0L621.9 135.1L622.5 135.2L623.2 135.2L623.8 135.3L624.4 135.4L625.0 135.5L625.7 135.5L626.3 135.6L626.9 135.7L627.5 135.8L628.2 135.8L628.8 135.9L629.4 136.0L630.0 136.0L630.7 136.1L631.3 136.2L631.9 136.2L632.5 136.3L633.2 136.4L633.8 136.5L634.4 136.5L635.0 136.6L635.7 136.7L636.3 136.7L636.9 136.8L637.5 136.9L638.2 136.9L638.8 137.0L639.4 137.0L640.0 137.1L640.7 137.2L641.3 137.2L641.9 137.3L642.5 137.4L643.2 137.4L643.8 137.5L644.4 137.5L645.0 137.6L645.7 137.7L646.3 137.7L646.9 137.8L647.5 137.8L648.2 137.9L648.8 138.0L649.4 138.0L650.0 138.1L650.7 138.1L651.3 138.2L651.9 138.2L652.5 138.3L653.2 138.3L653.8 138.4L654.4 138.5L655.0 138.5L655.7 138.6L656.3 138.6L656.9 138.7L657.5 138.7L658.2 138.8L658.8 138.8L659.4 138.9L660.0 138.9L660.7 138.9L661.3 139.0L661.9 139.0L662.5 139.1L663.2 139.1L663.8 139.2L664.4 139.2L665.0 139.3L665.7 139.3L666.3 139.3L666.9 139.4L667.5 139.4L668.2 139.5L668.8 139.5L669.4 139.5L670.0 139.6L670.7 139.6L671.3 139.6L671.9 139.7L672.5 139.7L673.2 139.7L673.8 139.8L674.4 139.8L675.0 139.8L675.7 139.9L676.3 139.9L676.9 139.9L677.5 140.0L678.2 140.0L678.8 140.0L679.4 140.0L680.0 140.1L680.7 140.1L681.3 140.1L681.9 140.1L682.5 140.1L683.2 140.2L683.8 140.2L684.4 140.2L685.0 140.2L685.3 140.2" fill="none" stroke="#000" stroke-width="2.5" stroke-linejoin="round" stroke-linecap="butt" stroke-dasharray="1.55 1.3"/></g></g>
<rect x="67.5" y="86.0" width="481.0" height="59.5" fill="none" stroke="#666" stroke-width="1"/>
<path d="M67.5 91.7h5M548.5 91.7h-5" stroke="#666" stroke-width="1" fill="none"/>
<text transform="translate(63.20,99.30) scale(0.775,1)" font-size="17.2" text-anchor="end" fill="#222" stroke="#222" stroke-width="0.18">200</text>
<path d="M67.5 115.5h5M548.5 115.5h-5" stroke="#666" stroke-width="1" fill="none"/>
<text transform="translate(63.20,122.60) scale(0.775,1)" font-size="17.2" text-anchor="end" fill="#222" stroke="#222" stroke-width="0.18">0</text>
<path d="M67.5 139.5h5M548.5 139.5h-5" stroke="#666" stroke-width="1" fill="none"/>
<text transform="translate(63.20,146.70) scale(0.775,1)" font-size="17.2" text-anchor="end" fill="#222" stroke="#222" stroke-width="0.18">-200</text>
<clipPath id="cp2"><rect x="67.5" y="150.5" width="481.0" height="61.0"/></clipPath>
<g clip-path="url(#cp2)"><g transform="scale(0.8,1)"><path d="M84.4 189.5L85.0 189.4L85.7 189.3L86.3 189.2L86.9 189.2L87.5 189.1L88.2 189.0L88.8 189.0L89.4 188.9L90.0 188.8L90.7 188.8L91.3 188.7L91.9 188.7L92.5 188.6L93.2 188.6L93.8 188.5L94.4 188.5L95.0 188.4L95.7 188.4L96.3 188.3L96.9 188.3L97.5 188.3L98.2 188.2L98.8 188.2L99.4 188.2L100.0 188.2L100.7 188.2L101.3 188.2L101.9 188.2L102.5 188.2L103.2 188.2L103.8 188.2L104.4 188.2L105.0 188.3L105.7 188.3L106.3 188.3L106.9 188.4L107.5 188.4L108.2 188.5L108.8 188.6L109.4 188.6L110.0 188.7L110.7 188.8L111.3 188.9L111.9 189.0L112.5 189.2L113.2 189.3L113.8 189.4L114.4 189.6L115.0 189.7L115.7 189.9L116.3 190.1L116.9 190.2L117.5 190.4L118.2 190.6L118.8 190.7L119.4 190.9L120.0 191.0L120.7 191.1L121.3 191.2L121.9 191.3L122.5 191.4L123.2 191.4L123.8 191.4L124.4 191.4L125.0 191.3L125.7 191.3L126.3 191.2L126.9 191.1L127.5 190.9L128.2 190.8L128.8 190.6L129.4 190.4L130.0 190.2L130.7 190.0L131.3 189.8L131.9 189.6L132.5 189.3L133.2 189.1L133.8 188.8L134.4 188.5L135.0 188.3L135.7 188.0L136.3 187.7L136.9 187.4L137.5 187.1L138.2 186.7L138.8 186.4L139.4 186.1L140.0 185.7L140.7 185.4L141.3 185.0L141.9 184.6L142.5 184.3L143.2 183.9L143.8 183.5L144.4 183.1L145.0 182.7L145.7 182.3L146.3 181.9L146.9 181.5L147.5 181.1L148.2 180.7L148.8 180.3L149.4 179.9L150.0 179.5L150.7 179.0L151.3 178.6L151.9 178.2L152.5 177.8L153.2 177.3L153.8 176.9L154.4 176.5L155.0 176.0L155.7 175.6L156.3 175.2L156.9 174.7L157.5 174.3L158.2 173.9L158.8 173.5L159.4 173.0L160.0 172.6L160.7 172.2L161.3 171.8L161.9 171.4L162.5 171.0L163.2 170.6L163.8 170.2L164.4 169.8L165.0 169.4L165.7 169.0L166.3 168.6L166.9 168.2L167.5 167.9L168.2 167.5L168.8 167.2L169.4 166.8L170.0 166.5L170.7 166.2L171.3 165.9L171.9 165.6L172.5 165.3L173.2 165.1L173.8 164.9L174.4 164.6L175.0 164.4L175.7 164.3L176.3 164.1L176.9 164.0L177.5 163.9L178.2 163.8L178.8 163.7L179.4 163.7L180.0 163.7L180.7 163.7L181.3 163.7L181.9 163.8L182.5 163.9L183.2 164.0L183.8 164.2L184.4 164.4L185.0 164.6L185.7 164.9L186.3 165.2L186.9 165.5L187.5 165.9L188.2 166.3L188.8 166.7L189.4 167.1L190.0 167.5L190.7 168.0L191.3 168.4L191.9 168.9L192.5 169.4L193.2 169.9L193.8 170.4L194.4 170.9L195.0 171.4L195.7 171.9L196.3 172.4L196.9 172.9L197.5 173.4L198.2 173.9L198.8 174.4L199.4 174.9L200.0 175.4L200.7 175.9L201.3 176.4L201.9 176.9L202.5 177.3L203.2 177.8L203.8 178.3L204.4 178.8L205.0 179.2L205.7 179.7L206.3 180.1L206.9 180.6L207.5 181.0L208.2 181.5L208.8 181.9L209.4 182.3L210.0 182.7L210.7 183.1L211.3 183.5L211.9 183.9L212.5 184.2L213.2 184.6L213.8 185.0L214.4 185.3L215.0 185.6L215.7 185.9L216.3 186.2L216.9 186.5L217.5 186.8L218.2 187.1L218.8 187.4L219.4 187.6L220.0 187.9L220.7 188.1L221.3 188.3L221.9 188.5L222.5 188.7L223.2 188.9L223.8 189.0L224.4 189.2L225.0 189.3L225.7 189.4L226.3 189.5L226.9 189.6L227.5 189.7L228.2 189.7L228.8 189.8L229.4 189.8L230.0 189.8L230.7 189.9L231.3 189.9L231.9 189.9L232.5 189.9L233.2 189.9L233.8 189.9L234.4 189.8L235.0 189.8L235.7 189.9L236.3 189.9L236.9 189.9L237.5 189.9L238.2 189.9L238.8 189.9L239.4 189.9L240.0 189.9L240.7 189.9L241.3 189.8L241.9 189.8L242.5 189.7L243.2 189.7L243.8 189.6L244.4 189.5L245.0 189.3L245.7 189.1L246.3 189.0L246.9 188.7L247.5 188.5L248.2 188.3L248.8 188.0L249.4 187.8L250.0 187.5L250.7 187.3L251.3 187.1L251.9 186.8L252.5 186.6L253.2 186.4L253.8 186.2L254.4 186.1L255.0 185.9L255.7 185.8L256.3 185.6L256.9 185.5L257.5 185.4L258.2 185.3L258.8 185.2L259.4 185.1L260.0 185.1L260.7 185.0L261.3 184.9L261.9 184.9L262.5 184.8L263.2 184.8L263.8 184.7L264.4 184.7L265.0 184.7L265.7 184.6L266.3 184.6L266.9 184.6L267.5 184.6L268.2 184.5L268.8 184.5L269.4 184.5L270.0 184.4L270.7 184.4L271.3 184.3L271.9 184.3L272.5 184.2L273.2 184.2L273.8 184.1L274.4 184.0L275.0 184.0L275.7 183.9L276.3 183.8L276.9 183.7L277.5 183.6L278.2 183.5L278.8 183.4L279.4 183.3L280.0 183.2L280.7 183.1L281.3 182.9L281.9 182.8L282.5 182.7L283.2 182.5L283.8 182.4L284.4 182.2L285.0 182.1L285.7 181.9L286.3 181.7L286.9 181.6L287.5 181.4L288.2 181.2L288.8 181.0L289.4 180.8L290.0 180.6L290.7 180.4L291.3 180.1L291.9 179.9L292.5 179.7L293.2 179.5L293.8 179.2L294.4 179.0L295.0 178.7L295.7 178.5L296.3 178.3L296.9 178.0L297.5 177.8L298.2 177.6L298.8 177.4L299.4 177.2L300.0 177.0L300.7 176.9L301.3 176.7L301.9 176.6L302.5 176.5L303.2 176.4L303.8 176.4L304.4 176.3L305.0 176.3L305.7 176.3L306.3 176.3L306.9 176.3L307.5 176.3L308.2 176.4L308.8 176.4L309.4 176.5L310.0 176.5L310.7 176.6L311.3 176.7L311.9 176.7L312.5 176.8L313.2 176.8L313.8 176.9L314.4 176.9L315.0 176.9L315.7 177.0L316.3 177.0L316.9 177.0L317.5 177.0L318.2 176.9L318.8 176.9L319.4 176.9L320.0 176.9L320.7 176.8L321.3 176.8L321.9 176.7L322.5 176.7L323.2 176.6L323.8 176.5L324.4 176.5L325.0 176.4L325.7 176.3L326.3 176.2L326.9 176.1L327.5 176.1L328.2 176.0L328.8 175.9L329.4 175.8L330.0 175.7L330.7 175.6L331.3 175.5L331.9 175.5L332.5 175.4L333.2 175.3L333.8 175.2L334.4 175.1L335.0 175.1L335.7 175.0L336.3 174.9L336.9 174.9L337.5 174.8L338.2 174.7L338.8 174.7L339.4 174.6L340.0 174.5L340.7 174.5L341.3 174.4L341.9 174.4L342.5 174.3L343.2 174.3L343.8 174.2L344.4 174.2L345.0 174.1L345.7 174.1L346.3 174.0L346.9 174.0L347.5 174.0L348.2 174.0L348.8 174.0L349.4 174.0L350.0 174.0L350.7 174.1L351.3 174.1L351.9 174.2L352.5 174.3L353.2 174.5L353.8 174.6L354.4 174.8L355.0 175.0L355.7 175.2L356.3 175.4L356.9 175.6L357.5 175.9L358.2 176.1L358.8 176.3L359.4 176.6L360.0 176.8L360.7 177.0L361.3 177.3L361.9 177.5L362.5 177.8L363.2 178.0L363.8 178.3L364.4 178.6L365.0 178.8L365.7 179.1L366.3 179.3L366.9 179.6L367.5 179.9L368.2 180.1L368.8 180.4L369.4 180.7L370.0 180.9L370.7 181.2L371.3 181.5L371.9 181.8L372.5 182.0L373.2 182.3L373.8 182.6L374.4 182.9L375.0 183.2L375.7 183.4L376.3 183.7L376.9 184.0L377.5 184.3L378.2 184.6L378.8 184.8L379.4 185.1L380.0 185.4L380.7 185.7L381.3 186.0L381.9 186.2L382.5 186.5L383.2 186.8L383.8 187.1L384.4 187.4L385.0 187.6L385.7 187.9L386.3 188.2L386.9 188.5L387.5 188.7L388.2 189.0L388.8 189.3L389.4 189.5L390.0 189.8L390.7 190.1L391.3 190.3L391.9 190.6L392.5 190.9L393.2 191.1L393.8 191.4L394.4 191.6L395.0 191.9L395.7 192.1L396.3 192.4L396.9 192.6L397.5 192.9L398.2 193.1L398.8 193.3L399.4 193.6L400.0 193.8L400.7 194.0L401.3 194.2L401.9 194.5L402.5 194.7L403.2 194.9L403.8 195.1L404.4 195.3L405.0 195.5L405.7 195.7L406.3 195.9L406.9 196.1L407.5 196.3L408.2 196.4L408.8 196.6L409.4 196.8L410.0 196.9L410.7 197.1L411.3 197.2L411.9 197.4L412.5 197.5L413.2 197.6L413.8 197.8L414.4 197.9L415.0 198.0L415.7 198.1L416.3 198.2L416.9 198.3L417.5 198.4L418.2 198.4L418.8 198.5L419.4 198.6L420.0 198.6L420.7 198.7L421.3 198.7L421.9 198.7L422.5 198.8L423.2 198.8L423.8 198.8L424.4 198.8L425.0 198.8L425.7 198.7L426.3 198.7L426.9 198.7L427.5 198.6L428.2 198.6L428.8 198.5L429.4 198.4L430.0 198.3L430.7 198.2L431.3 198.1L431.9 198.0L432.5 197.9L433.2 197.7L433.8 197.6L434.4 197.4L435.0 197.2L435.7 197.0L436.3 196.8L436.9 196.6L437.5 196.4L438.2 196.2L438.8 195.9L439.4 195.7L440.0 195.4L440.7 195.1L441.3 194.9L441.9 194.6L442.5 194.3L443.2 193.9L443.8 193.6L444.4 193.3L445.0 192.9L445.7 192.6L446.3 192.2L446.9 191.9L447.5 191.5L448.2 191.1L448.8 190.7L449.4 190.3L450.0 189.9L450.7 189.5L451.3 189.1L451.9 188.7L452.5 188.2L453.2 187.8L453.8 187.4L454.4 186.9L455.0 186.5L455.7 186.0L456.3 185.6L456.9 185.1L457.5 184.7L458.2 184.2L458.8 183.7L459.4 183.3L460.0 182.8L460.7 182.3L461.3 181.9L461.9 181.4L462.5 180.9L463.2 180.4L463.8 180.0L464.4 179.5L465.0 179.0L465.7 178.6L466.3 178.1L466.9 177.6L467.5 177.2L468.2 176.7L468.8 176.3L469.4 175.8L470.0 175.4L470.7 175.0L471.3 174.6L471.9 174.1L472.5 173.8L473.2 173.4L473.8 173.0L474.4 172.6L475.0 172.3L475.7 172.0L476.3 171.6L476.9 171.3L477.5 171.0L478.2 170.8L478.8 170.5L479.4 170.3L480.0 170.1L480.7 169.9L481.3 169.7L481.9 169.5L482.5 169.4L483.2 169.3L483.8 169.2L484.4 169.1L485.0 169.0L485.7 169.0L486.3 168.9L486.9 168.9L487.5 168.9L488.2 168.9L488.8 168.9L489.4 169.0L490.0 169.0L490.7 169.1L491.3 169.2L491.9 169.2L492.5 169.4L493.2 169.5L493.8 169.6L494.4 169.7L495.0 169.9L495.7 170.1L496.3 170.3L496.9 170.4L497.5 170.6L498.2 170.9L498.8 171.1L499.4 171.3L500.0 171.6L500.7 171.8L501.3 172.1L501.9 172.3L502.5 172.6L503.2 172.9L503.8 173.2L504.4 173.5L505.0 173.8L505.7 174.1L506.3 174.4L506.9 174.8L507.5 175.1L508.2 175.4L508.8 175.8L509.4 176.1L510.0 176.5L510.7 176.8L511.3 177.2L511.9 177.5L512.5 177.9L513.2 178.2L513.8 178.6L514.4 178.9L515.0 179.2L515.7 179.6L516.3 179.9L516.9 180.2L517.5 180.6L518.2 180.9L518.8 181.2L519.4 181.5L520.0 181.8L520.7 182.1L521.3 182.4L521.9 182.6L522.5 182.9L523.2 183.1L523.8 183.4L524.4 183.6L525.0 183.8L525.7 184.0L526.3 184.2L526.9 184.4L527.5 184.6L528.2 184.8L528.8 184.9L529.4 185.1L530.0 185.2L530.7 185.3L531.3 185.4L531.9 185.5L532.5 185.6L533.2 185.7L533.8 185.8L534.4 185.8L535.0 185.9L535.7 185.9L536.3 185.9L536.9 185.9L537.5 185.9L538.2 185.9L538.8 185.8L539.4 185.8L540.0 185.7L540.7 185.6L541.3 185.6L541.9 185.5L542.5 185.3L543.2 185.2L543.8 185.1L544.4 184.9L545.0 184.7L545.7 184.6L546.3 184.4L546.9 184.1L547.5 183.9L548.2 183.7L548.8 183.4L549.4 183.2L550.0 182.9L550.7 182.6L551.3 182.3L551.9 182.0L552.5 181.7L553.2 181.4L553.8 181.1L554.4 180.7L555.0 180.4L555.7 180.1L556.3 179.7L556.9 179.4L557.5 179.0L558.2 178.6L558.8 178.3L559.4 177.9L560.0 177.6L560.7 177.2L561.3 176.8L561.9 176.5L562.5 176.1L563.2 175.7L563.8 175.4L564.4 175.0L565.0 174.7L565.7 174.3L566.3 174.0L566.9 173.7L567.5 173.3L568.2 173.0L568.8 172.7L569.4 172.4L570.0 172.1L570.7 171.8L571.3 171.5L571.9 171.3L572.5 171.0L573.2 170.8L573.8 170.5L574.4 170.3L575.0 170.1L575.7 169.9L576.3 169.7L576.9 169.6L577.5 169.4L578.2 169.3L578.8 169.2L579.4 169.1L580.0 169.0L580.7 169.0L581.3 169.0L581.9 168.9L582.5 168.9L583.2 169.0L583.8 169.0L584.4 169.1L585.0 169.2L585.7 169.3L586.3 169.5L586.9 169.6L587.5 169.8L588.2 170.0L588.8 170.3L589.4 170.5L590.0 170.8L590.7 171.1L591.3 171.4L591.9 171.8L592.5 172.1L593.2 172.5L593.8 172.9L594.4 173.3L595.0 173.7L595.7 174.1L596.3 174.6L596.9 175.0L597.5 175.5L598.2 176.0L598.8 176.5L599.4 177.0L600.0 177.5L600.7 178.0L601.3 178.6L601.9 179.1L602.5 179.6L603.2 180.2L603.8 180.7L604.4 181.3L605.0 181.9L605.7 182.4L606.3 183.0L606.9 183.6L607.5 184.1L608.2 184.7L608.8 185.3L609.4 185.8L610.0 186.4L610.7 187.0L611.3 187.5L611.9 188.1L612.5 188.6L613.2 189.2L613.8 189.7L614.4 190.2L615.0 190.8L615.7 191.3L616.3 191.8L616.9 192.3L617.5 192.8L618.2 193.3L618.8 193.7L619.4 194.2L620.0 194.6L620.7 195.1L621.3 195.5L621.9 195.9L622.5 196.3L623.2 196.6L623.8 197.0L624.4 197.3L625.0 197.6L625.7 197.9L626.3 198.2L626.9 198.5L627.5 198.7L628.2 198.9L628.8 199.2L629.4 199.3L630.0 199.5L630.7 199.7L631.3 199.8L631.9 199.9L632.5 200.0L633.2 200.1L633.8 200.1L634.4 200.2L635.0 200.2L635.7 200.2L636.3 200.2L636.9 200.1L637.5 200.0L638.2 199.9L638.8 199.8L639.4 199.7L640.0 199.5L640.7 199.3L641.3 199.1L641.9 198.9L642.5 198.6L643.2 198.4L643.8 198.1L644.4 197.7L645.0 197.4L645.7 197.0L646.3 196.7L646.9 196.3L647.5 195.8L648.2 195.4L648.8 195.0L649.4 194.5L650.0 194.0L650.7 193.5L651.3 193.0L651.9 192.4L652.5 191.9L653.2 191.3L653.8 190.8L654.4 190.2L655.0 189.6L655.7 189.0L656.3 188.4L656.9 187.8L657.5 187.1L658.2 186.5L658.8 185.9L659.4 185.2L660.0 184.6L660.7 183.9L661.3 183.3L661.9 182.6L662.5 181.9L663.2 181.3L663.8 180.6L664.4 179.9L665.0 179.3L665.7 178.6L666.3 178.0L666.9 177.3L667.5 176.7L668.2 176.1L668.8 175.5L669.4 174.8L670.0 174.2L670.7 173.6L671.3 173.1L671.9 172.5L672.5 171.9L673.2 171.4L673.8 170.9L674.4 170.3L675.0 169.8L675.7 169.4L676.3 168.9L676.9 168.5L677.5 168.0L678.2 167.6L678.8 167.3L679.4 166.9L680.0 166.6L680.7 166.3L681.3 166.0L681.9 165.7L682.5 165.5L683.2 165.3L683.8 165.1L684.4 165.0L685.0 164.9L685.3 164.8" fill="none" stroke="#000" stroke-width="1.4" stroke-linejoin="round" stroke-linecap="butt"/><path d="M84.4 199.2L85.0 199.1L85.7 199.0L86.3 198.9L86.9 198.8L87.5 198.8L88.2 198.7L88.8 198.7L89.4 198.7L90.0 198.6L90.7 198.6L91.3 198.6L91.9 198.6L92.5 198.6L93.2 198.5L93.8 198.5L94.4 198.5L95.0 198.5L95.7 198.4L96.3 198.4L96.9 198.3L97.5 198.3L98.2 198.2L98.8 198.1L99.4 198.0L100.0 197.9L100.7 197.8L101.3 197.6L101.9 197.5L102.5 197.3L103.2 197.1L103.8 196.8L104.4 196.6L105.0 196.3L105.7 196.0L106.3 195.6L106.9 195.3L107.5 194.9L108.2 194.5L108.8 194.0L109.4 193.5L110.0 193.0L110.7 192.4L111.3 191.8L111.9 191.2L112.5 190.5L113.2 189.9L113.8 189.1L114.4 188.4L115.0 187.7L115.7 186.9L116.3 186.1L116.9 185.3L117.5 184.5L118.2 183.7L118.8 182.8L119.4 182.0L120.0 181.1L120.7 180.2L121.3 179.4L121.9 178.5L122.5 177.6L123.2 176.8L123.8 175.9L124.4 175.1L125.0 174.2L125.7 173.4L126.3 172.5L126.9 171.7L127.5 170.9L128.2 170.1L128.8 169.4L129.4 168.6L130.0 167.9L130.7 167.2L131.3 166.5L131.9 165.8L132.5 165.2L133.2 164.6L133.8 164.0L134.4 163.4L135.0 162.8L135.7 162.2L136.3 161.7L136.9 161.2L137.5 160.7L138.2 160.2L138.8 159.8L139.4 159.4L140.0 158.9L140.7 158.6L141.3 158.2L141.9 157.9L142.5 157.5L143.2 157.2L143.8 157.0L144.4 156.7L145.0 156.5L145.7 156.2L146.3 156.1L146.9 155.9L147.5 155.7L148.2 155.6L148.8 155.5L149.4 155.4L150.0 155.4L150.7 155.3L151.3 155.3L151.9 155.4L152.5 155.4L153.2 155.4L153.8 155.5L154.4 155.6L155.0 155.7L155.7 155.9L156.3 156.0L156.9 156.2L157.5 156.4L158.2 156.6L158.8 156.8L159.4 157.1L160.0 157.4L160.7 157.6L161.3 157.9L161.9 158.3L162.5 158.6L163.2 158.9L163.8 159.3L164.4 159.7L165.0 160.1L165.7 160.5L166.3 160.9L166.9 161.3L167.5 161.7L168.2 162.2L168.8 162.6L169.4 163.1L170.0 163.6L170.7 164.1L171.3 164.6L171.9 165.1L172.5 165.6L173.2 166.1L173.8 166.6L174.4 167.2L175.0 167.7L175.7 168.2L176.3 168.8L176.9 169.3L177.5 169.9L178.2 170.4L178.8 171.0L179.4 171.6L180.0 172.1L180.7 172.7L181.3 173.2L181.9 173.8L182.5 174.4L183.2 174.9L183.8 175.4L184.4 176.0L185.0 176.5L185.7 177.0L186.3 177.5L186.9 178.0L187.5 178.5L188.2 179.0L188.8 179.4L189.4 179.9L190.0 180.3L190.7 180.7L191.3 181.1L191.9 181.5L192.5 181.8L193.2 182.2L193.8 182.5L194.4 182.8L195.0 183.1L195.7 183.3L196.3 183.6L196.9 183.8L197.5 184.0L198.2 184.2L198.8 184.4L199.4 184.6L200.0 184.7L200.7 184.8L201.3 184.9L201.9 185.0L202.5 185.0L203.2 185.1L203.8 185.1L204.4 185.1L205.0 185.1L205.7 185.1L206.3 185.1L206.9 185.1L207.5 185.1L208.2 185.1L208.8 185.1L209.4 185.1L210.0 185.1L210.7 185.1L211.3 185.2L211.9 185.2L212.5 185.3L213.2 185.3L213.8 185.4L214.4 185.5L215.0 185.7L215.7 185.8L216.3 186.0L216.9 186.2L217.5 186.4L218.2 186.6L218.8 186.9L219.4 187.1L220.0 187.4L220.7 187.6L221.3 187.9L221.9 188.2L222.5 188.4L223.2 188.7L223.8 189.0L224.4 189.3L225.0 189.5L225.7 189.8L226.3 190.1L226.9 190.4L227.5 190.7L228.2 190.9L228.8 191.2L229.4 191.5L230.0 191.8L230.7 192.0L231.3 192.3L231.9 192.6L232.5 192.9L233.2 193.2L233.8 193.4L234.4 193.7L235.0 194.0L235.7 194.3L236.3 194.6L236.9 194.9L237.5 195.2L238.2 195.5L238.8 195.7L239.4 196.0L240.0 196.3L240.7 196.6L241.3 196.9L241.9 197.2L242.5 197.5L243.2 197.8L243.8 198.1L244.4 198.5L245.0 198.8L245.7 199.1L246.3 199.4L246.9 199.7L247.5 200.0L248.2 200.3L248.8 200.6L249.4 201.0L250.0 201.3L250.7 201.6L251.3 201.9L251.9 202.2L252.5 202.5L253.2 202.9L253.8 203.2L254.4 203.5L255.0 203.8L255.7 204.1L256.3 204.4L256.9 204.7L257.5 205.1L258.2 205.4L258.8 205.7L259.4 206.0L260.0 206.3L260.7 206.6L261.3 206.9L261.9 207.2L262.5 207.4L263.2 207.7L263.8 207.9L264.4 208.2L265.0 208.4L265.7 208.6L266.3 208.7L266.9 208.9L267.5 209.0L268.2 209.1L268.8 209.1L269.4 209.2L270.0 209.2L270.7 209.2L271.3 209.2L271.9 209.1L272.5 209.0L273.2 208.9L273.8 208.8L274.4 208.6L275.0 208.5L275.7 208.3L276.3 208.1L276.9 207.8L277.5 207.6L278.2 207.3L278.8 207.0L279.4 206.7L280.0 206.3L280.7 206.0L281.3 205.6L281.9 205.2L282.5 204.8L283.2 204.4L283.8 203.9L284.4 203.5L285.0 203.0L285.7 202.5L286.3 202.0L286.9 201.5L287.5 201.0L288.2 200.5L288.8 200.0L289.4 199.4L290.0 198.9L290.7 198.3L291.3 197.8L291.9 197.2L292.5 196.6L293.2 196.0L293.8 195.5L294.4 194.9L295.0 194.3L295.7 193.7L296.3 193.2L296.9 192.6L297.5 192.0L298.2 191.4L298.8 190.9L299.4 190.3L300.0 189.8L300.7 189.2L301.3 188.7L301.9 188.1L302.5 187.6L303.2 187.1L303.8 186.6L304.4 186.1L305.0 185.6L305.7 185.1L306.3 184.6L306.9 184.1L307.5 183.6L308.2 183.2L308.8 182.7L309.4 182.2L310.0 181.8L310.7 181.3L311.3 180.8L311.9 180.3L312.5 179.9L313.2 179.4L313.8 178.9L314.4 178.4L315.0 177.9L315.7 177.5L316.3 177.0L316.9 176.5L317.5 176.0L318.2 175.5L318.8 175.1L319.4 174.6L320.0 174.1L320.7 173.7L321.3 173.2L321.9 172.8L322.5 172.4L323.2 171.9L323.8 171.5L324.4 171.1L325.0 170.7L325.7 170.4L326.3 170.0L326.9 169.7L327.5 169.3L328.2 169.0L328.8 168.7L329.4 168.4L330.0 168.1L330.7 167.9L331.3 167.6L331.9 167.4L332.5 167.2L333.2 166.9L333.8 166.7L334.4 166.5L335.0 166.4L335.7 166.2L336.3 166.0L336.9 165.8L337.5 165.7L338.2 165.5L338.8 165.4L339.4 165.2L340.0 165.1L340.7 165.0L341.3 164.9L341.9 164.8L342.5 164.7L343.2 164.7L343.8 164.6L344.4 164.6L345.0 164.6L345.7 164.6L346.3 164.6L346.9 164.6L347.5 164.6L348.2 164.7L348.8 164.7L349.4 164.7L350.0 164.8L350.7 164.8L351.3 164.9L351.9 164.9L352.5 164.9L353.2 165.0L353.8 165.0L354.4 165.1L355.0 165.1L355.7 165.2L356.3 165.2L356.9 165.3L357.5 165.4L358.2 165.4L358.8 165.5L359.4 165.5L360.0 165.6L360.7 165.7L361.3 165.7L361.9 165.8L362.5 165.9L363.2 165.9L363.8 166.0L364.4 166.1L365.0 166.1L365.7 166.2L366.3 166.3L366.9 166.3L367.5 166.4L368.2 166.5L368.8 166.6L369.4 166.7L370.0 166.7L370.7 166.8L371.3 166.9L371.9 167.0L372.5 167.1L373.2 167.2L373.8 167.3L374.4 167.4L375.0 167.4L375.7 167.5L376.3 167.6L376.9 167.7L377.5 167.8L378.2 167.9L378.8 168.0L379.4 168.1L380.0 168.2L380.7 168.3L381.3 168.5L381.9 168.6L382.5 168.7L383.2 168.8L383.8 168.9L384.4 169.0L385.0 169.1L385.7 169.2L386.3 169.4L386.9 169.5L387.5 169.6L388.2 169.7L388.8 169.9L389.4 170.0L390.0 170.1L390.7 170.2L391.3 170.4L391.9 170.5L392.5 170.6L393.2 170.8L393.8 170.9L394.4 171.1L395.0 171.2L395.7 171.3L396.3 171.5L396.9 171.6L397.5 171.8L398.2 171.9L398.8 172.1L399.4 172.2L400.0 172.4L400.7 172.5L401.3 172.7L401.9 172.8L402.5 173.0L403.2 173.2L403.8 173.3L404.4 173.5L405.0 173.7L405.7 173.9L406.3 174.1L406.9 174.2L407.5 174.4L408.2 174.6L408.8 174.8L409.4 175.1L410.0 175.3L410.7 175.5L411.3 175.7L411.9 176.0L412.5 176.2L413.2 176.5L413.8 176.7L414.4 177.0L415.0 177.3L415.7 177.6L416.3 177.9L416.9 178.2L417.5 178.5L418.2 178.9L418.8 179.2L419.4 179.6L420.0 179.9L420.7 180.3L421.3 180.7L421.9 181.1L422.5 181.5L423.2 181.9L423.8 182.3L424.4 182.8L425.0 183.2L425.7 183.6L426.3 184.1L426.9 184.5L427.5 184.9L428.2 185.4L428.8 185.8L429.4 186.3L430.0 186.8L430.7 187.2L431.3 187.7L431.9 188.1L432.5 188.6L433.2 189.0L433.8 189.5L434.4 190.0L435.0 190.4L435.7 190.8L436.3 191.3L436.9 191.7L437.5 192.2L438.2 192.6L438.8 193.0L439.4 193.5L440.0 193.9L440.7 194.3L441.3 194.7L441.9 195.1L442.5 195.5L443.2 195.9L443.8 196.3L444.4 196.7L445.0 197.0L445.7 197.4L446.3 197.8L446.9 198.1L447.5 198.5L448.2 198.8L448.8 199.1L449.4 199.5L450.0 199.8L450.7 200.1L451.3 200.4L451.9 200.6L452.5 200.9L453.2 201.2L453.8 201.4L454.4 201.7L455.0 201.9L455.7 202.1L456.3 202.3L456.9 202.5L457.5 202.7L458.2 202.8L458.8 203.0L459.4 203.1L460.0 203.3L460.7 203.4L461.3 203.5L461.9 203.6L462.5 203.6L463.2 203.7L463.8 203.8L464.4 203.8L465.0 203.8L465.7 203.8L466.3 203.9L466.9 203.8L467.5 203.8L468.2 203.8L468.8 203.8L469.4 203.7L470.0 203.6L470.7 203.6L471.3 203.5L471.9 203.4L472.5 203.3L473.2 203.2L473.8 203.0L474.4 202.9L475.0 202.7L475.7 202.6L476.3 202.4L476.9 202.2L477.5 202.0L478.2 201.8L478.8 201.6L479.4 201.4L480.0 201.2L480.7 200.9L481.3 200.7L481.9 200.4L482.5 200.2L483.2 199.9L483.8 199.6L484.4 199.3L485.0 199.0L485.7 198.7L486.3 198.4L486.9 198.0L487.5 197.7L488.2 197.4L488.8 197.0L489.4 196.7L490.0 196.3L490.7 195.9L491.3 195.5L491.9 195.1L492.5 194.7L493.2 194.3L493.8 193.9L494.4 193.5L495.0 193.1L495.7 192.6L496.3 192.2L496.9 191.8L497.5 191.3L498.2 190.8L498.8 190.4L499.4 189.9L500.0 189.4L500.7 188.9L501.3 188.5L501.9 188.0L502.5 187.5L503.2 187.0L503.8 186.4L504.4 185.9L505.0 185.4L505.7 184.9L506.3 184.3L506.9 183.8L507.5 183.3L508.2 182.7L508.8 182.2L509.4 181.6L510.0 181.0L510.7 180.5L511.3 179.9L511.9 179.3L512.5 178.8L513.2 178.2L513.8 177.6L514.4 177.0L515.0 176.4L515.7 175.8L516.3 175.2L516.9 174.6L517.5 174.0L518.2 173.4L518.8 172.8L519.4 172.2L520.0 171.6L520.7 170.9L521.3 170.3L521.9 169.7L522.5 169.1L523.2 168.5L523.8 167.9L524.4 167.2L525.0 166.6L525.7 166.0L526.3 165.4L526.9 164.8L527.5 164.2L528.2 163.6L528.8 163.0L529.4 162.4L530.0 161.8L530.7 161.2L531.3 160.6L531.9 160.1L532.5 159.5L533.2 158.9L533.8 158.4L534.4 157.9L535.0 157.3L535.7 156.8L536.3 156.3L536.9 155.8L537.5 155.4L538.2 154.9L538.8 154.5L539.4 154.1L540.0 153.7L540.7 153.3L541.3 152.9L541.9 152.6L542.5 152.3L543.2 152.0L543.8 151.7L544.4 151.5L545.0 151.2L545.7 151.0L546.3 150.8L546.9 150.7L547.5 150.5L548.2 150.4L548.8 150.3L549.4 150.3L550.0 150.2L550.7 150.2L551.3 150.2L551.9 150.3L552.5 150.4L553.2 150.5L553.8 150.6L554.4 150.7L555.0 150.9L555.7 151.1L556.3 151.3L556.9 151.6L557.5 151.8L558.2 152.1L558.8 152.4L559.4 152.8L560.0 153.1L560.7 153.5L561.3 153.9L561.9 154.3L562.5 154.8L563.2 155.2L563.8 155.7L564.4 156.2L565.0 156.7L565.7 157.2L566.3 157.8L566.9 158.4L567.5 158.9L568.2 159.5L568.8 160.1L569.4 160.8L570.0 161.4L570.7 162.1L571.3 162.7L571.9 163.4L572.5 164.1L573.2 164.8L573.8 165.5L574.4 166.3L575.0 167.0L575.7 167.7L576.3 168.5L576.9 169.3L577.5 170.0L578.2 170.8L578.8 171.6L579.4 172.4L580.0 173.2L580.7 174.0L581.3 174.8L581.9 175.7L582.5 176.5L583.2 177.3L583.8 178.1L584.4 179.0L585.0 179.8L585.7 180.7L586.3 181.5L586.9 182.4L587.5 183.2L588.2 184.1L588.8 184.9L589.4 185.8L590.0 186.6L590.7 187.4L591.3 188.3L591.9 189.1L592.5 190.0L593.2 190.8L593.8 191.6L594.4 192.4L595.0 193.2L595.7 194.0L596.3 194.8L596.9 195.6L597.5 196.3L598.2 197.1L598.8 197.8L599.4 198.5L600.0 199.2L600.7 199.9L601.3 200.6L601.9 201.2L602.5 201.8L603.2 202.5L603.8 203.0L604.4 203.6L605.0 204.1L605.7 204.6L606.3 205.1L606.9 205.6L607.5 206.0L608.2 206.4L608.8 206.8L609.4 207.2L610.0 207.5L610.7 207.8L611.3 208.0L611.9 208.2L612.5 208.4L613.2 208.6L613.8 208.7L614.4 208.8L615.0 208.9L615.7 208.9L616.3 208.9L616.9 208.9L617.5 208.8L618.2 208.7L618.8 208.6L619.4 208.4L620.0 208.2L620.7 208.0L621.3 207.8L621.9 207.5L622.5 207.2L623.2 206.8L623.8 206.5L624.4 206.1L625.0 205.7L625.7 205.2L626.3 204.7L626.9 204.2L627.5 203.7L628.2 203.2L628.8 202.6L629.4 202.1L630.0 201.5L630.7 200.8L631.3 200.2L631.9 199.6L632.5 198.9L633.2 198.3L633.8 197.6L634.4 196.9L635.0 196.2L635.7 195.5L636.3 194.8L636.9 194.1L637.5 193.4L638.2 192.7L638.8 192.0L639.4 191.3L640.0 190.6L640.7 189.9L641.3 189.2L641.9 188.5L642.5 187.8L643.2 187.2L643.8 186.5L644.4 185.8L645.0 185.2L645.7 184.6L646.3 184.0L646.9 183.4L647.5 182.8L648.2 182.2L648.8 181.7L649.4 181.1L650.0 180.6L650.7 180.1L651.3 179.7L651.9 179.2L652.5 178.8L653.2 178.4L653.8 178.1L654.4 177.7L655.0 177.4L655.7 177.1L656.3 176.9L656.9 176.6L657.5 176.4L658.2 176.2L658.8 176.0L659.4 175.9L660.0 175.8L660.7 175.6L661.3 175.5L661.9 175.4L662.5 175.4L663.2 175.3L663.8 175.3L664.4 175.3L665.0 175.3L665.7 175.3L666.3 175.3L666.9 175.3L667.5 175.3L668.2 175.4L668.8 175.4L669.4 175.5L670.0 175.6L670.7 175.7L671.3 175.8L671.9 175.9L672.5 176.0L673.2 176.1L673.8 176.2L674.4 176.3L675.0 176.4L675.7 176.6L676.3 176.7L676.9 176.8L677.5 176.9L678.2 177.1L678.8 177.2L679.4 177.3L680.0 177.4L680.7 177.5L681.3 177.7L681.9 177.8L682.5 177.9L683.2 178.0L683.8 178.1L684.4 178.2L685.0 178.2L685.3 178.3" fill="none" stroke="#000" stroke-width="2.5" stroke-linejoin="round" stroke-linecap="butt" stroke-dasharray="1.55 1.3"/></g></g>
<rect x="67.5" y="150.5" width="481.0" height="61.0" fill="none" stroke="#666" stroke-width="1"/>
<path d="M67.5 157.5h5M548.5 157.5h-5" stroke="#666" stroke-width="1" fill="none"/>
<text transform="translate(63.20,164.90) scale(0.775,1)" font-size="17.2" text-anchor="end" fill="#222" stroke="#222" stroke-width="0.18">50</text>
<path d="M67.5 182.3h5M548.5 182.3h-5" stroke="#666" stroke-width="1" fill="none"/>
<text transform="translate(63.20,189.40) scale(0.775,1)" font-size="17.2" text-anchor="end" fill="#222" stroke="#222" stroke-width="0.18">0</text>
<path d="M67.5 206.5h5M548.5 206.5h-5" stroke="#666" stroke-width="1" fill="none"/>
<text transform="translate(63.20,213.50) scale(0.775,1)" font-size="17.2" text-anchor="end" fill="#222" stroke="#222" stroke-width="0.18">-50</text>
<clipPath id="cp3"><rect x="67.5" y="216.5" width="481.0" height="59.0"/></clipPath>
<g clip-path="url(#cp3)"><g transform="scale(0.8,1)"><path d="M84.8 274.4L85.3 272.5L85.8 270.5L86.3 268.6L86.8 266.7L87.3 264.8L87.8 262.9L88.3 261.0L88.8 259.1L89.3 257.3L89.8 255.5L90.3 253.6L90.8 251.8L91.3 250.1L91.8 248.3L92.3 246.6L92.8 244.8L93.3 243.1L93.8 241.5L94.3 239.8L94.8 238.2L95.3 236.6L95.8 235.0L96.3 233.6L96.8 232.1L97.3 230.7L97.8 229.5L98.3 228.2L98.8 227.1L99.3 226.1L99.8 225.2L100.3 224.4L100.8 223.7L101.3 223.2L101.8 222.7L102.3 222.5L102.8 222.4L103.3 222.5L103.8 222.7L104.3 223.1L104.8 223.7L105.3 224.4L105.8 225.3L106.3 226.3L106.8 227.4L107.3 228.7L107.8 230.1L108.3 231.6L108.8 233.2L109.3 234.9L109.8 236.7L110.3 238.6L110.8 240.5L111.3 242.4L111.8 244.3L112.3 246.3L112.8 248.2L113.3 250.1L113.8 252.0L114.3 253.9L114.8 255.7L115.3 257.4L115.8 259.1L116.3 260.7L116.8 262.2L117.3 263.6L117.8 264.9L118.3 266.0L118.8 267.0L119.3 267.7L119.8 268.1L120.3 268.3L120.8 268.1L121.3 267.6L121.8 266.8L122.3 265.7L122.8 264.4L123.3 262.9L123.8 261.2L124.3 259.4L124.8 257.4L125.3 255.3L125.8 253.2L126.3 251.1L126.8 249.0L127.3 247.0L127.8 245.1L128.3 243.4L128.8 241.8L129.3 240.4L129.8 239.1L130.3 238.0L130.8 237.0L131.3 236.1L131.8 235.4L132.3 234.8L132.8 234.4L133.3 234.2L133.8 234.3L134.3 234.6L134.8 235.2L135.3 236.0L135.8 236.9L136.3 238.1L136.8 239.4L137.3 240.8L137.8 242.3L138.3 243.8L138.8 245.3L139.3 246.6L139.8 247.9L140.3 249.0L140.8 250.0L141.3 250.7L141.8 251.3L142.3 251.6L142.8 251.7L143.3 251.6L143.8 251.2L144.3 250.6L144.8 249.9L145.3 248.9L145.8 247.8L146.3 246.6L146.8 245.2L147.3 243.8L147.8 242.4L148.3 240.9L148.8 239.4L149.3 238.0L149.8 236.7L150.3 235.4L150.8 234.3L151.3 233.3L151.8 232.5L152.3 231.8L152.8 231.3L153.3 231.0L153.8 230.8L154.3 230.9L154.8 231.2L155.3 231.7L155.8 232.4L156.3 233.4L156.8 234.5L157.3 235.9L157.8 237.4L158.3 239.2L158.8 241.1L159.3 243.2L159.8 245.3L160.3 247.4L160.8 249.5L161.3 251.6L161.8 253.6L162.3 255.5L162.8 257.3L163.3 259.0L163.8 260.6L164.3 262.0L164.8 263.3L165.3 264.5L165.8 265.5L166.3 266.4L166.8 267.0L167.3 267.4L167.8 267.5L168.3 267.3L168.8 266.7L169.3 265.9L169.8 264.9L170.3 263.6L170.8 262.1L171.3 260.5L171.8 258.7L172.3 256.8L172.8 254.8L173.3 252.7L173.8 250.6L174.3 248.4L174.8 246.3L175.3 244.2L175.8 242.2L176.3 240.3L176.8 238.4L177.3 236.6L177.8 234.9L178.3 233.3L178.8 231.9L179.3 230.6L179.8 229.4L180.3 228.4L180.8 227.5L181.3 226.7L181.8 226.0L182.3 225.4L182.8 224.9L183.3 224.4L183.8 224.1L184.3 223.9L184.8 223.9L185.3 224.1L185.8 224.4L186.3 225.0L186.8 225.7L187.3 226.6L187.8 227.7L188.3 229.0L188.8 230.5L189.3 232.1L189.8 233.8L190.3 235.7L190.8 237.6L191.3 239.5L191.8 241.5L192.3 243.5L192.8 245.5L193.3 247.4L193.8 249.3L194.3 251.1L194.8 252.9L195.3 254.6L195.8 256.1L196.3 257.6L196.8 259.0L197.3 260.3L197.8 261.5L198.3 262.6L198.8 263.5L199.3 264.4L199.8 265.1L200.3 265.7L200.8 266.2L201.3 266.6L201.8 266.8L202.3 266.7L202.8 266.5L203.3 266.0L203.8 265.4L204.3 264.5L204.8 263.4L205.3 262.2L205.8 260.8L206.3 259.2L206.8 257.5L207.3 255.7L207.8 253.8L208.3 251.9L208.8 250.0L209.3 248.1L209.8 246.3L210.3 244.5L210.8 242.8L211.3 241.2L211.8 239.7L212.3 238.4L212.8 237.1L213.3 235.9L213.8 234.9L214.3 234.0L214.8 233.3L215.3 232.8L215.8 232.5L216.3 232.4L216.8 232.6L217.3 233.0L217.8 233.6L218.3 234.3L218.8 235.2L219.3 236.2L219.8 237.2L220.3 238.3L220.8 239.4L221.3 240.6L221.8 241.7L222.3 242.8L222.8 243.9L223.3 245.0L223.8 245.9L224.3 246.8L224.8 247.5L225.3 247.9L225.8 248.2L226.3 248.1L226.8 247.9L227.3 247.4L227.8 246.7L228.3 246.0L228.8 245.2L229.3 244.3L229.8 243.5L230.3 242.7L230.8 241.9L231.3 241.3L231.8 240.7L232.3 240.2L232.8 239.8L233.3 239.5L233.8 239.4L234.3 239.4L234.8 239.5L235.3 239.7L235.8 240.1L236.3 240.6L236.8 241.2L237.3 242.0L237.8 243.0L238.3 244.0L238.8 245.2L239.3 246.6L239.8 248.0L240.3 249.4L240.8 250.9L241.3 252.4L241.8 253.8L242.3 255.2L242.8 256.5L243.3 257.6L243.8 258.7L244.3 259.7L244.8 260.5L245.3 261.2L245.8 261.7L246.3 262.0L246.8 262.1L247.3 262.0L247.8 261.6L248.3 261.0L248.8 260.2L249.3 259.2L249.8 258.0L250.3 256.6L250.8 255.1L251.3 253.5L251.8 251.8L252.3 250.0L252.8 248.2L253.3 246.4L253.8 244.5L254.3 242.8L254.8 241.1L255.3 239.4L255.8 237.8L256.3 236.3L256.8 235.0L257.3 233.7L257.8 232.6L258.3 231.6L258.8 230.7L259.3 230.0L259.8 229.4L260.3 228.9L260.8 228.4L261.3 228.1L261.8 227.9L262.3 227.8L262.8 227.8L263.3 228.0L263.8 228.3L264.3 228.6L264.8 229.1L265.3 229.7L265.8 230.3L266.3 231.0L266.8 231.9L267.3 232.7L267.8 233.7L268.3 234.6L268.8 235.7L269.3 236.8L269.8 237.9L270.3 239.0L270.8 240.2L271.3 241.4L271.8 242.6L272.3 243.9L272.8 245.1L273.3 246.3L273.8 247.6L274.3 248.8L274.8 250.0L275.3 251.1L275.8 252.3L276.3 253.4L276.8 254.4L277.3 255.4L277.8 256.4L278.3 257.3L278.8 258.2L279.3 259.0L279.8 259.8L280.3 260.5L280.8 261.2L281.3 261.9L281.8 262.4L282.3 263.0L282.8 263.4L283.3 263.7L283.8 264.0L284.3 264.1L284.8 264.1L285.3 263.9L285.8 263.6L286.3 263.2L286.8 262.6L287.3 261.9L287.8 261.0L288.3 259.9L288.8 258.7L289.3 257.3L289.8 255.8L290.3 254.2L290.8 252.4L291.3 250.6L291.8 248.7L292.3 246.7L292.8 244.7L293.3 242.6L293.8 240.6L294.3 238.6L294.8 236.6L295.3 234.6L295.8 232.8L296.3 231.0L296.8 229.4L297.3 227.8L297.8 226.4L298.3 225.1L298.8 224.0L299.3 223.0L299.8 222.2L300.3 221.5L300.8 221.0L301.3 220.7L301.8 220.4L302.3 220.3L302.8 220.4L303.3 220.5L303.8 220.9L304.3 221.4L304.8 222.1L305.3 223.0L305.8 224.3L306.3 225.8L306.8 227.6L307.3 229.6L307.8 231.9L308.3 234.3L308.8 236.8L309.3 239.4L309.8 242.0L310.3 244.6L310.8 247.2L311.3 249.8L311.8 252.3L312.3 254.6L312.8 256.9L313.3 258.9L313.8 260.8L314.3 262.5L314.8 264.0L315.3 265.3L315.8 266.4L316.3 267.4L316.8 268.3L317.3 268.9L317.8 269.5L318.3 269.8L318.8 269.9L319.3 269.8L319.8 269.4L320.3 268.8L320.8 267.9L321.3 266.8L321.8 265.6L322.3 264.1L322.8 262.4L323.3 260.6L323.8 258.7L324.3 256.7L324.8 254.6L325.3 252.4L325.8 250.1L326.3 247.9L326.8 245.6L327.3 243.3L327.8 241.2L328.3 239.1L328.8 237.2L329.3 235.4L329.8 233.9L330.3 232.5L330.8 231.5L331.3 230.6L331.8 230.0L332.3 229.6L332.8 229.4L333.3 229.3L333.8 229.5L334.3 229.8L334.8 230.3L335.3 231.0L335.8 231.8L336.3 232.7L336.8 233.8L337.3 235.0L337.8 236.3L338.3 237.6L338.8 239.0L339.3 240.4L339.8 241.7L340.3 243.0L340.8 244.2L341.3 245.3L341.8 246.3L342.3 247.2L342.8 248.0L343.3 248.7L343.8 249.2L344.3 249.7L344.8 250.0L345.3 250.2L345.8 250.3L346.3 250.2L346.8 250.0L347.3 249.7L347.8 249.3L348.3 248.8L348.8 248.1L349.3 247.5L349.8 246.8L350.3 246.1L350.8 245.5L351.3 244.9L351.8 244.4L352.3 244.0L352.8 243.7L353.3 243.4L353.8 243.3L354.3 243.2L354.8 243.2L355.3 243.3L355.8 243.5L356.3 243.8L356.8 244.1L357.3 244.5L357.8 244.9L358.3 245.4L358.8 245.8L359.3 246.3L359.8 246.7L360.3 247.1L360.8 247.5L361.3 247.8L361.8 248.2L362.3 248.5L362.8 248.8L363.3 249.1L363.8 249.3L364.3 249.5L364.8 249.7L365.3 249.8L365.8 249.9L366.3 250.0L366.8 250.0L367.3 250.0L367.8 249.9L368.3 249.8L368.8 249.6L369.3 249.4L369.8 249.2L370.3 248.9L370.8 248.6L371.3 248.3L371.8 247.9L372.3 247.5L372.8 247.1L373.3 246.7L373.8 246.2L374.3 245.8L374.8 245.4L375.3 244.9L375.8 244.5L376.3 244.1L376.8 243.7L377.3 243.3L377.8 243.0L378.3 242.7L378.8 242.4L379.3 242.2L379.8 242.0L380.3 241.8L380.8 241.7L381.3 241.6L381.8 241.6L382.3 241.5L382.8 241.5L383.3 241.6L383.8 241.7L384.3 241.8L384.8 241.9L385.3 242.1L385.8 242.3L386.3 242.6L386.8 242.9L387.3 243.2L387.8 243.6L388.3 244.0L388.8 244.4L389.3 244.9L389.8 245.4L390.3 245.9L390.8 246.4L391.3 246.9L391.8 247.4L392.3 247.9L392.8 248.3L393.3 248.8L393.8 249.2L394.3 249.5L394.8 249.8L395.3 250.1L395.8 250.2L396.3 250.2L396.8 250.1L397.3 249.9L397.8 249.7L398.3 249.3L398.8 248.9L399.3 248.5L399.8 248.0L400.3 247.5L400.8 247.0L401.3 246.5L401.8 246.0L402.3 245.6L402.8 245.2L403.3 244.8L403.8 244.5L404.3 244.1L404.8 243.8L405.3 243.6L405.8 243.3L406.3 243.1L406.8 242.9L407.3 242.8L407.8 242.8L408.3 242.8L408.8 242.9L409.3 243.0L409.8 243.3L410.3 243.6L410.8 244.1L411.3 244.5L411.8 245.0L412.3 245.5L412.8 245.9L413.3 246.4L413.8 246.7L414.3 247.0L414.8 247.2L415.3 247.4L415.8 247.4L416.3 247.4L416.8 247.2L417.3 247.0L417.8 246.8L418.3 246.5L418.8 246.2L419.3 246.0L419.8 245.7L420.3 245.5L420.8 245.3L421.3 245.1L421.8 245.0L422.3 244.8L422.8 244.8L423.3 244.7L423.8 244.7L424.3 244.6L424.8 244.7L425.3 244.7L425.8 244.8L426.3 244.8L426.8 245.0L427.3 245.1L427.8 245.3L428.3 245.5L428.8 245.7L429.3 246.0L429.8 246.2L430.3 246.5L430.8 246.8L431.3 247.1L431.8 247.4L432.3 247.6L432.8 247.7L433.3 247.9L433.8 247.9L434.3 247.8L434.8 247.7L435.3 247.5L435.8 247.2L436.3 246.9L436.8 246.6L437.3 246.2L437.8 245.8L438.3 245.5L438.8 245.1L439.3 244.7L439.8 244.4L440.3 244.1L440.8 243.9L441.3 243.7L441.8 243.6L442.3 243.5L442.8 243.6L443.3 243.7L443.8 243.9L444.3 244.2L444.8 244.5L445.3 244.9L445.8 245.3L446.3 245.7L446.8 246.1L447.3 246.6L447.8 247.0L448.3 247.5L448.8 247.9L449.3 248.3L449.8 248.6L450.3 248.9L450.8 249.2L451.3 249.3L451.8 249.4L452.3 249.5L452.8 249.4L453.3 249.2L453.8 249.0L454.3 248.7L454.8 248.2L455.3 247.8L455.8 247.3L456.3 246.7L456.8 246.2L457.3 245.7L457.8 245.1L458.3 244.6L458.8 244.2L459.3 243.7L459.8 243.3L460.3 242.9L460.8 242.6L461.3 242.3L461.8 242.0L462.3 241.9L462.8 241.8L463.3 241.8L463.8 242.0L464.3 242.3L464.8 242.7L465.3 243.2L465.8 243.8L466.3 244.4L466.8 245.2L467.3 245.9L467.8 246.7L468.3 247.5L468.8 248.2L469.3 249.0L469.8 249.6L470.3 250.2L470.8 250.7L471.3 251.0L471.8 251.3L472.3 251.4L472.8 251.4L473.3 251.2L473.8 250.9L474.3 250.5L474.8 250.1L475.3 249.5L475.8 248.9L476.3 248.3L476.8 247.7L477.3 247.1L477.8 246.5L478.3 245.9L478.8 245.3L479.3 244.8L479.8 244.4L480.3 244.0L480.8 243.7L481.3 243.4L481.8 243.2L482.3 243.0L482.8 242.8L483.3 242.7L483.8 242.6L484.3 242.4L484.8 242.3L485.3 242.1L485.8 242.0L486.3 242.0L486.8 242.0L487.3 242.1L487.8 242.3L488.3 242.5L488.8 242.8L489.3 243.2L489.8 243.5L490.3 243.9L490.8 244.3L491.3 244.6L491.8 244.9L492.3 245.2L492.8 245.5L493.3 245.7L493.8 246.0L494.3 246.2L494.8 246.4L495.3 246.5L495.8 246.7L496.3 246.8L496.8 246.9L497.3 247.1L497.8 247.2L498.3 247.3L498.8 247.4L499.3 247.5L499.8 247.6L500.3 247.7L500.8 247.8L501.3 247.9L501.8 248.0L502.3 248.1L502.8 248.2L503.3 248.3L503.8 248.3L504.3 248.3L504.8 248.2L505.3 248.2L505.8 248.0L506.3 247.9L506.8 247.6L507.3 247.4L507.8 247.1L508.3 246.8L508.8 246.5L509.3 246.2L509.8 245.9L510.3 245.5L510.8 245.2L511.3 244.9L511.8 244.6L512.3 244.3L512.8 244.0L513.3 243.8L513.8 243.5L514.3 243.3L514.8 243.1L515.3 242.9L515.8 242.8L516.3 242.6L516.8 242.5L517.3 242.4L517.8 242.3L518.3 242.2L518.8 242.2L519.3 242.1L519.8 242.2L520.3 242.2L520.8 242.3L521.3 242.4L521.8 242.5L522.3 242.7L522.8 242.9L523.3 243.2L523.8 243.4L524.3 243.7L524.8 244.0L525.3 244.3L525.8 244.7L526.3 245.0L526.8 245.4L527.3 245.7L527.8 246.1L528.3 246.4L528.8 246.8L529.3 247.1L529.8 247.4L530.3 247.7L530.8 248.0L531.3 248.2L531.8 248.5L532.3 248.7L532.8 248.9L533.3 249.0L533.8 249.1L534.3 249.2L534.8 249.3L535.3 249.3L535.8 249.3L536.3 249.3L536.8 249.3L537.3 249.2L537.8 249.2L538.3 249.1L538.8 249.0L539.3 248.8L539.8 248.7L540.3 248.5L540.8 248.3L541.3 248.1L541.8 247.9L542.3 247.7L542.8 247.4L543.3 247.2L543.8 246.9L544.3 246.6L544.8 246.3L545.3 246.1L545.8 245.8L546.3 245.5L546.8 245.2L547.3 245.0L547.8 244.7L548.3 244.5L548.8 244.2L549.3 244.0L549.8 243.8L550.3 243.7L550.8 243.5L551.3 243.4L551.8 243.3L552.3 243.2L552.8 243.1L553.3 243.1L553.8 243.1L554.3 243.1L554.8 243.1L555.3 243.2L555.8 243.2L556.3 243.3L556.8 243.4L557.3 243.5L557.8 243.6L558.3 243.8L558.8 243.9L559.3 244.0L559.8 244.2L560.3 244.3L560.8 244.5L561.3 244.7L561.8 244.8L562.3 245.0L562.8 245.2L563.3 245.3L563.8 245.5L564.3 245.6L564.8 245.8L565.3 246.0L565.8 246.1L566.3 246.3L566.8 246.4L567.3 246.6L567.8 246.7L568.3 246.8L568.8 247.0L569.3 247.1L569.8 247.2L570.3 247.3L570.8 247.4L571.3 247.5L571.8 247.6L572.3 247.7L572.8 247.7L573.3 247.8L573.8 247.8L574.3 247.8L574.8 247.8L575.3 247.8L575.8 247.8L576.3 247.8L576.8 247.7L577.3 247.6L577.8 247.5L578.3 247.4L578.8 247.3L579.3 247.1L579.8 247.0L580.3 246.8L580.8 246.6L581.3 246.4L581.8 246.1L582.3 245.9L582.8 245.6L583.3 245.4L583.8 245.1L584.3 244.8L584.8 244.5L585.3 244.2L585.8 243.9L586.3 243.6L586.8 243.3L587.3 243.0L587.8 242.7L588.3 242.4L588.8 242.1L589.3 241.8L589.8 241.6L590.3 241.3L590.8 241.1L591.3 240.9L591.8 240.8L592.3 240.6L592.8 240.5L593.3 240.5L593.8 240.5L594.3 240.5L594.8 240.6L595.3 240.7L595.8 240.8L596.3 241.0L596.8 241.2L597.3 241.4L597.8 241.6L598.3 241.8L598.8 242.0L599.3 242.2L599.8 242.5L600.3 242.7L600.8 243.0L601.3 243.2L601.8 243.6L602.3 243.9L602.8 244.3L603.3 244.8L603.8 245.3L604.3 245.9L604.8 246.5L605.3 247.2L605.8 247.7L606.3 248.2L606.8 248.7L607.3 249.0L607.8 249.4L608.3 249.6L608.8 249.9L609.3 250.1L609.8 250.3L610.3 250.4L610.8 250.6L611.3 250.7L611.8 250.8L612.3 250.9L612.8 250.9L613.3 251.0L613.8 251.0L614.3 250.9L614.8 250.8L615.3 250.7L615.8 250.5L616.3 250.2L616.8 250.0L617.3 249.7L617.8 249.4L618.3 249.0L618.8 248.6L619.3 248.2L619.8 247.7L620.3 247.2L620.8 246.7L621.3 246.2L621.8 245.7L622.3 245.2L622.8 244.7L623.3 244.2L623.8 243.7L624.3 243.2L624.8 242.8L625.3 242.4L625.8 242.0L626.3 241.6L626.8 241.4L627.3 241.1L627.8 240.9L628.3 240.8L628.8 240.7L629.3 240.7L629.8 240.8L630.3 240.9L630.8 241.0L631.3 241.2L631.8 241.5L632.3 241.7L632.8 242.1L633.3 242.4L633.8 242.8L634.3 243.2L634.8 243.6L635.3 244.0L635.8 244.5L636.3 244.9L636.8 245.4L637.3 245.8L637.8 246.2L638.3 246.7L638.8 247.1L639.3 247.5L639.8 247.9L640.3 248.3L640.8 248.6L641.3 249.0L641.8 249.3L642.3 249.6L642.8 249.9L643.3 250.1L643.8 250.3L644.3 250.5L644.8 250.6L645.3 250.7L645.8 250.8L646.3 250.9L646.8 250.9L647.3 250.9L647.8 250.9L648.3 250.8L648.8 250.7L649.3 250.6L649.8 250.5L650.3 250.4L650.8 250.2L651.3 250.0L651.8 249.8L652.3 249.6L652.8 249.4L653.3 249.2L653.8 248.9L654.3 248.6L654.8 248.4L655.3 248.1L655.8 247.8L656.3 247.5L656.8 247.2L657.3 246.9L657.8 246.6L658.3 246.2L658.8 245.9L659.3 245.6L659.8 245.3L660.3 245.0L660.8 244.6L661.3 244.3L661.8 244.0L662.3 243.7L662.8 243.4L663.3 243.2L663.8 242.9L664.3 242.6L664.8 242.4L665.3 242.2L665.8 242.0L666.3 241.8L666.8 241.6L667.3 241.5L667.8 241.4L668.3 241.3L668.8 241.3L669.3 241.2L669.8 241.3L670.3 241.3L670.8 241.4L671.3 241.5L671.8 241.7L672.3 241.8L672.8 242.0L673.3 242.3L673.8 242.5L674.3 242.8L674.8 243.1L675.3 243.4L675.8 243.7L676.3 244.0L676.8 244.3L677.3 244.7L677.8 245.0L678.3 245.4L678.8 245.7L679.3 246.1L679.8 246.4L680.3 246.8L680.8 247.1L681.3 247.5L681.8 247.8L682.3 248.1L682.8 248.4L683.3 248.7L683.8 248.9L684.3 249.1L684.8 249.4L685.3 249.5L685.8 249.7L685.9 249.7" fill="none" stroke="#000" stroke-width="1.4" stroke-linejoin="round" stroke-linecap="butt"/><path d="M84.8 252.8L85.3 251.8L85.8 250.8L86.3 249.7L86.8 248.6L87.3 247.5L87.8 246.3L88.3 245.2L88.8 244.1L89.3 243.0L89.8 241.9L90.3 240.8L90.8 239.8L91.3 238.8L91.8 237.8L92.3 236.9L92.8 236.0L93.3 235.2L93.8 234.5L94.3 233.8L94.8 233.3L95.3 232.9L95.8 232.7L96.3 232.6L96.8 232.8L97.3 233.1L97.8 233.7L98.3 234.4L98.8 235.3L99.3 236.3L99.8 237.5L100.3 238.8L100.8 240.2L101.3 241.7L101.8 243.3L102.3 244.9L102.8 246.5L103.3 248.2L103.8 249.8L104.3 251.5L104.8 253.0L105.3 254.6L105.8 256.0L106.3 257.4L106.8 258.7L107.3 259.9L107.8 261.0L108.3 262.0L108.8 262.9L109.3 263.6L109.8 264.3L110.3 264.7L110.8 265.1L111.3 265.2L111.8 265.3L112.3 265.1L112.8 264.8L113.3 264.3L113.8 263.6L114.3 262.8L114.8 261.7L115.3 260.5L115.8 259.0L116.3 257.4L116.8 255.6L117.3 253.6L117.8 251.5L118.3 249.4L118.8 247.3L119.3 245.2L119.8 243.2L120.3 241.4L120.8 239.6L121.3 238.0L121.8 236.5L122.3 235.2L122.8 234.0L123.3 232.9L123.8 231.9L124.3 231.1L124.8 230.4L125.3 229.9L125.8 229.5L126.3 229.3L126.8 229.4L127.3 229.7L127.8 230.1L128.3 230.8L128.8 231.7L129.3 232.7L129.8 233.9L130.3 235.2L130.8 236.7L131.3 238.3L131.8 239.9L132.3 241.5L132.8 243.1L133.3 244.7L133.8 246.2L134.3 247.6L134.8 249.0L135.3 250.1L135.8 251.2L136.3 252.0L136.8 252.7L137.3 253.1L137.8 253.3L138.3 253.3L138.8 252.9L139.3 252.2L139.8 251.3L140.3 250.2L140.8 249.0L141.3 247.8L141.8 246.5L142.3 245.2L142.8 243.8L143.3 242.5L143.8 241.2L144.3 239.9L144.8 238.6L145.3 237.5L145.8 236.4L146.3 235.4L146.8 234.7L147.3 234.1L147.8 233.8L148.3 233.9L148.8 234.2L149.3 234.8L149.8 235.7L150.3 236.8L150.8 238.2L151.3 239.7L151.8 241.4L152.3 243.2L152.8 245.1L153.3 247.0L153.8 248.9L154.3 250.8L154.8 252.6L155.3 254.3L155.8 255.9L156.3 257.4L156.8 258.8L157.3 260.1L157.8 261.4L158.3 262.5L158.8 263.4L159.3 264.3L159.8 264.8L160.3 265.2L160.8 265.2L161.3 264.8L161.8 264.1L162.3 263.1L162.8 261.9L163.3 260.3L163.8 258.6L164.3 256.7L164.8 254.6L165.3 252.4L165.8 250.1L166.3 247.8L166.8 245.5L167.3 243.3L167.8 241.1L168.3 239.1L168.8 237.3L169.3 235.6L169.8 234.0L170.3 232.6L170.8 231.4L171.3 230.3L171.8 229.3L172.3 228.4L172.8 227.7L173.3 227.1L173.8 226.6L174.3 226.3L174.8 226.1L175.3 226.1L175.8 226.2L176.3 226.5L176.8 227.0L177.3 227.6L177.8 228.4L178.3 229.4L178.8 230.5L179.3 231.8L179.8 233.3L180.3 234.9L180.8 236.5L181.3 238.2L181.8 240.0L182.3 241.7L182.8 243.4L183.3 245.0L183.8 246.5L184.3 248.0L184.8 249.4L185.3 250.8L185.8 252.2L186.3 253.5L186.8 254.8L187.3 256.1L187.8 257.3L188.3 258.4L188.8 259.5L189.3 260.5L189.8 261.4L190.3 262.3L190.8 263.0L191.3 263.6L191.8 264.1L192.3 264.5L192.8 264.7L193.3 264.8L193.8 264.7L194.3 264.4L194.8 263.9L195.3 263.2L195.8 262.4L196.3 261.4L196.8 260.1L197.3 258.7L197.8 257.1L198.3 255.4L198.8 253.6L199.3 251.7L199.8 249.8L200.3 247.8L200.8 245.9L201.3 244.0L201.8 242.1L202.3 240.4L202.8 238.7L203.3 237.2L203.8 235.7L204.3 234.4L204.8 233.2L205.3 232.2L205.8 231.2L206.3 230.5L206.8 229.8L207.3 229.2L207.8 228.7L208.3 228.3L208.8 227.9L209.3 227.6L209.8 227.4L210.3 227.3L210.8 227.3L211.3 227.5L211.8 227.8L212.3 228.3L212.8 228.9L213.3 229.7L213.8 230.7L214.3 232.0L214.8 233.4L215.3 235.0L215.8 236.8L216.3 238.6L216.8 240.4L217.3 242.2L217.8 243.9L218.3 245.5L218.8 246.9L219.3 248.2L219.8 249.3L220.3 250.2L220.8 251.0L221.3 251.5L221.8 251.9L222.3 252.2L222.8 252.2L223.3 252.1L223.8 251.8L224.3 251.3L224.8 250.6L225.3 249.9L225.8 249.2L226.3 248.4L226.8 247.7L227.3 247.0L227.8 246.4L228.3 245.9L228.8 245.5L229.3 245.1L229.8 244.9L230.3 244.8L230.8 244.8L231.3 245.0L231.8 245.3L232.3 245.7L232.8 246.2L233.3 246.9L233.8 247.6L234.3 248.4L234.8 249.2L235.3 250.1L235.8 251.0L236.3 251.9L236.8 252.8L237.3 253.6L237.8 254.4L238.3 255.1L238.8 255.7L239.3 256.1L239.8 256.3L240.3 256.4L240.8 256.2L241.3 255.8L241.8 255.3L242.3 254.6L242.8 253.7L243.3 252.7L243.8 251.5L244.3 250.3L244.8 249.0L245.3 247.6L245.8 246.1L246.3 244.7L246.8 243.2L247.3 241.8L247.8 240.4L248.3 239.1L248.8 237.9L249.3 236.7L249.8 235.6L250.3 234.6L250.8 233.7L251.3 232.9L251.8 232.1L252.3 231.5L252.8 231.0L253.3 230.6L253.8 230.4L254.3 230.2L254.8 230.1L255.3 230.2L255.8 230.4L256.3 230.7L256.8 231.1L257.3 231.6L257.8 232.2L258.3 232.9L258.8 233.7L259.3 234.6L259.8 235.7L260.3 236.7L260.8 237.9L261.3 239.0L261.8 240.2L262.3 241.4L262.8 242.7L263.3 243.8L263.8 245.0L264.3 246.1L264.8 247.2L265.3 248.2L265.8 249.2L266.3 250.2L266.8 251.1L267.3 252.0L267.8 252.8L268.3 253.5L268.8 254.3L269.3 254.9L269.8 255.6L270.3 256.2L270.8 256.7L271.3 257.3L271.8 257.8L272.3 258.2L272.8 258.7L273.3 259.1L273.8 259.5L274.3 259.9L274.8 260.2L275.3 260.5L275.8 260.7L276.3 260.8L276.8 260.9L277.3 260.8L277.8 260.6L278.3 260.3L278.8 259.8L279.3 259.3L279.8 258.6L280.3 257.8L280.8 256.8L281.3 255.7L281.8 254.5L282.3 253.2L282.8 251.8L283.3 250.4L283.8 248.8L284.3 247.3L284.8 245.7L285.3 244.0L285.8 242.4L286.3 240.9L286.8 239.4L287.3 238.0L287.8 236.8L288.3 235.6L288.8 234.7L289.3 233.9L289.8 233.1L290.3 232.1L290.8 230.9L291.3 229.5L291.8 228.2L292.3 226.9L292.8 225.9L293.3 225.2L293.8 224.7L294.3 224.2L294.8 223.7L295.3 223.2L295.8 222.9L296.3 222.7L296.8 222.7L297.3 223.0L297.8 223.6L298.3 224.4L298.8 225.5L299.3 226.7L299.8 228.2L300.3 229.9L300.8 231.8L301.3 233.8L301.8 236.0L302.3 238.3L302.8 240.6L303.3 243.1L303.8 245.5L304.3 248.0L304.8 250.5L305.3 252.9L305.8 255.2L306.3 257.5L306.8 259.5L307.3 261.4L307.8 263.1L308.3 264.5L308.8 265.7L309.3 266.7L309.8 267.5L310.3 268.2L310.8 268.8L311.3 269.3L311.8 269.7L312.3 269.9L312.8 269.8L313.3 269.6L313.8 269.0L314.3 268.1L314.8 267.0L315.3 265.5L315.8 263.7L316.3 261.7L316.8 259.3L317.3 256.8L317.8 254.1L318.3 251.3L318.8 248.6L319.3 245.9L319.8 243.4L320.3 241.0L320.8 238.8L321.3 236.7L321.8 234.8L322.3 233.1L322.8 231.5L323.3 230.1L323.8 228.8L324.3 227.7L324.8 226.8L325.3 226.1L325.8 225.6L326.3 225.2L326.8 225.0L327.3 225.1L327.8 225.3L328.3 225.7L328.8 226.4L329.3 227.2L329.8 228.3L330.3 229.7L330.8 231.2L331.3 233.0L331.8 234.9L332.3 236.9L332.8 238.9L333.3 240.9L333.8 242.9L334.3 244.7L334.8 246.4L335.3 248.0L335.8 249.4L336.3 250.7L336.8 251.9L337.3 252.9L337.8 253.8L338.3 254.5L338.8 255.1L339.3 255.5L339.8 255.8L340.3 255.9L340.8 255.9L341.3 255.7L341.8 255.3L342.3 254.9L342.8 254.3L343.3 253.7L343.8 253.0L344.3 252.2L344.8 251.4L345.3 250.5L345.8 249.6L346.3 248.8L346.8 247.9L347.3 247.2L347.8 246.4L348.3 245.8L348.8 245.3L349.3 244.8L349.8 244.5L350.3 244.3L350.8 244.1L351.3 244.0L351.8 244.0L352.3 244.1L352.8 244.2L353.3 244.3L353.8 244.6L354.3 244.8L354.8 245.0L355.3 245.3L355.8 245.5L356.3 245.7L356.8 245.8L357.3 245.9L357.8 246.0L358.3 246.0L358.8 245.9L359.3 245.9L359.8 245.7L360.3 245.6L360.8 245.4L361.3 245.3L361.8 245.1L362.3 244.9L362.8 244.7L363.3 244.5L363.8 244.3L364.3 244.1L364.8 243.9L365.3 243.7L365.8 243.5L366.3 243.3L366.8 243.2L367.3 243.0L367.8 242.8L368.3 242.7L368.8 242.5L369.3 242.4L369.8 242.3L370.3 242.2L370.8 242.1L371.3 242.1L371.8 242.0L372.3 242.0L372.8 242.0L373.3 242.1L373.8 242.1L374.3 242.2L374.8 242.3L375.3 242.4L375.8 242.6L376.3 242.7L376.8 242.9L377.3 243.1L377.8 243.4L378.3 243.6L378.8 243.9L379.3 244.2L379.8 244.5L380.3 244.9L380.8 245.2L381.3 245.6L381.8 245.9L382.3 246.3L382.8 246.6L383.3 247.0L383.8 247.3L384.3 247.7L384.8 248.0L385.3 248.3L385.8 248.6L386.3 248.9L386.8 249.3L387.3 249.6L387.8 249.9L388.3 250.2L388.8 250.5L389.3 250.8L389.8 251.1L390.3 251.4L390.8 251.5L391.3 251.4L391.8 251.2L392.3 250.8L392.8 250.2L393.3 249.4L393.8 248.6L394.3 247.7L394.8 246.8L395.3 246.0L395.8 245.1L396.3 244.4L396.8 243.7L397.3 243.2L397.8 242.8L398.3 242.4L398.8 242.1L399.3 241.9L399.8 241.7L400.3 241.5L400.8 241.3L401.3 241.2L401.8 241.1L402.3 241.1L402.8 241.1L403.3 241.3L403.8 241.7L404.3 242.1L404.8 242.6L405.3 243.1L405.8 243.7L406.3 244.3L406.8 244.9L407.3 245.5L407.8 246.1L408.3 246.6L408.8 247.0L409.3 247.3L409.8 247.6L410.3 247.7L410.8 247.7L411.3 247.6L411.8 247.4L412.3 247.1L412.8 246.7L413.3 246.3L413.8 245.8L414.3 245.4L414.8 245.0L415.3 244.6L415.8 244.3L416.3 244.0L416.8 243.7L417.3 243.5L417.8 243.4L418.3 243.2L418.8 243.1L419.3 243.1L419.8 243.1L420.3 243.1L420.8 243.2L421.3 243.3L421.8 243.4L422.3 243.6L422.8 243.7L423.3 243.9L423.8 244.1L424.3 244.3L424.8 244.5L425.3 244.8L425.8 245.0L426.3 245.2L426.8 245.5L427.3 245.7L427.8 246.0L428.3 246.2L428.8 246.5L429.3 246.7L429.8 247.0L430.3 247.2L430.8 247.5L431.3 247.6L431.8 247.8L432.3 247.8L432.8 247.8L433.3 247.6L433.8 247.4L434.3 247.1L434.8 246.7L435.3 246.3L435.8 245.9L436.3 245.5L436.8 245.1L437.3 244.8L437.8 244.5L438.3 244.3L438.8 244.1L439.3 244.0L439.8 244.0L440.3 244.0L440.8 244.0L441.3 244.2L441.8 244.4L442.3 244.6L442.8 244.9L443.3 245.2L443.8 245.4L444.3 245.7L444.8 246.0L445.3 246.2L445.8 246.4L446.3 246.6L446.8 246.7L447.3 246.7L447.8 246.7L448.3 246.7L448.8 246.5L449.3 246.3L449.8 246.1L450.3 245.8L450.8 245.5L451.3 245.1L451.8 244.8L452.3 244.4L452.8 244.1L453.3 243.7L453.8 243.4L454.3 243.1L454.8 242.7L455.3 242.4L455.8 242.1L456.3 241.8L456.8 241.6L457.3 241.5L457.8 241.5L458.3 241.6L458.8 242.0L459.3 242.4L459.8 242.9L460.3 243.6L460.8 244.3L461.3 245.0L461.8 245.7L462.3 246.4L462.8 247.1L463.3 247.7L463.8 248.3L464.3 248.9L464.8 249.5L465.3 250.0L465.8 250.5L466.3 251.0L466.8 251.3L467.3 251.6L467.8 251.7L468.3 251.7L468.8 251.5L469.3 251.1L469.8 250.6L470.3 250.0L470.8 249.3L471.3 248.6L471.8 247.9L472.3 247.2L472.8 246.5L473.3 245.8L473.8 245.2L474.3 244.6L474.8 244.1L475.3 243.7L475.8 243.3L476.3 243.0L476.8 242.8L477.3 242.6L477.8 242.5L478.3 242.4L478.8 242.3L479.3 242.2L479.8 242.1L480.3 242.0L480.8 241.9L481.3 241.8L481.8 241.6L482.3 241.5L482.8 241.4L483.3 241.3L483.8 241.2L484.3 241.2L484.8 241.2L485.3 241.3L485.8 241.4L486.3 241.6L486.8 241.8L487.3 242.0L487.8 242.3L488.3 242.6L488.8 242.9L489.3 243.2L489.8 243.5L490.3 243.8L490.8 244.1L491.3 244.3L491.8 244.6L492.3 244.8L492.8 245.0L493.3 245.3L493.8 245.5L494.3 245.7L494.8 245.9L495.3 246.1L495.8 246.3L496.3 246.5L496.8 246.7L497.3 246.9L497.8 247.0L498.3 247.1L498.8 247.3L499.3 247.4L499.8 247.5L500.3 247.5L500.8 247.5L501.3 247.6L501.8 247.5L502.3 247.5L502.8 247.5L503.3 247.4L503.8 247.3L504.3 247.2L504.8 247.1L505.3 247.0L505.8 246.9L506.3 246.8L506.8 246.6L507.3 246.5L507.8 246.3L508.3 246.1L508.8 246.0L509.3 245.8L509.8 245.6L510.3 245.4L510.8 245.2L511.3 245.1L511.8 244.9L512.3 244.7L512.8 244.6L513.3 244.4L513.8 244.3L514.3 244.1L514.8 244.0L515.3 243.9L515.8 243.9L516.3 243.8L516.8 243.8L517.3 243.8L517.8 243.8L518.3 243.9L518.8 244.1L519.3 244.2L519.8 244.4L520.3 244.7L520.8 244.9L521.3 245.2L521.8 245.6L522.3 245.9L522.8 246.2L523.3 246.5L523.8 246.8L524.3 247.1L524.8 247.4L525.3 247.7L525.8 247.9L526.3 248.1L526.8 248.3L527.3 248.5L527.8 248.6L528.3 248.6L528.8 248.7L529.3 248.7L529.8 248.6L530.3 248.5L530.8 248.4L531.3 248.3L531.8 248.1L532.3 247.9L532.8 247.6L533.3 247.3L533.8 247.0L534.3 246.7L534.8 246.4L535.3 246.0L535.8 245.7L536.3 245.4L536.8 245.0L537.3 244.7L537.8 244.4L538.3 244.2L538.8 243.9L539.3 243.7L539.8 243.6L540.3 243.4L540.8 243.3L541.3 243.1L541.8 243.0L542.3 242.9L542.8 242.8L543.3 242.7L543.8 242.6L544.3 242.5L544.8 242.4L545.3 242.4L545.8 242.4L546.3 242.4L546.8 242.5L547.3 242.7L547.8 242.9L548.3 243.1L548.8 243.4L549.3 243.7L549.8 244.0L550.3 244.4L550.8 244.7L551.3 245.0L551.8 245.3L552.3 245.5L552.8 245.8L553.3 246.0L553.8 246.2L554.3 246.4L554.8 246.5L555.3 246.7L555.8 246.8L556.3 246.9L556.8 247.0L557.3 247.1L557.8 247.2L558.3 247.2L558.8 247.3L559.3 247.3L559.8 247.4L560.3 247.4L560.8 247.4L561.3 247.4L561.8 247.4L562.3 247.4L562.8 247.4L563.3 247.4L563.8 247.3L564.3 247.3L564.8 247.2L565.3 247.2L565.8 247.1L566.3 247.0L566.8 246.9L567.3 246.8L567.8 246.7L568.3 246.5L568.8 246.4L569.3 246.2L569.8 246.1L570.3 245.9L570.8 245.7L571.3 245.5L571.8 245.3L572.3 245.2L572.8 245.0L573.3 244.8L573.8 244.6L574.3 244.4L574.8 244.2L575.3 244.1L575.8 243.9L576.3 243.7L576.8 243.6L577.3 243.4L577.8 243.3L578.3 243.1L578.8 243.0L579.3 242.8L579.8 242.7L580.3 242.6L580.8 242.4L581.3 242.3L581.8 242.2L582.3 242.1L582.8 242.0L583.3 241.9L583.8 241.9L584.3 241.8L584.8 241.7L585.3 241.7L585.8 241.7L586.3 241.7L586.8 241.7L587.3 241.8L587.8 241.9L588.3 242.1L588.8 242.3L589.3 242.6L589.8 243.0L590.3 243.4L590.8 243.9L591.3 244.3L591.8 244.8L592.3 245.3L592.8 245.7L593.3 246.2L593.8 246.6L594.3 247.0L594.8 247.4L595.3 247.7L595.8 248.1L596.3 248.4L596.8 248.7L597.3 249.0L597.8 249.3L598.3 249.5L598.8 249.8L599.3 250.0L599.8 250.2L600.3 250.4L600.8 250.5L601.3 250.6L601.8 250.6L602.3 250.6L602.8 250.5L603.3 250.3L603.8 250.1L604.3 249.8L604.8 249.5L605.3 249.2L605.8 248.9L606.3 248.5L606.8 248.2L607.3 247.8L607.8 247.4L608.3 247.1L608.8 246.8L609.3 246.4L609.8 246.1L610.3 245.8L610.8 245.5L611.3 245.2L611.8 245.0L612.3 244.8L612.8 244.6L613.3 244.4L613.8 244.2L614.3 244.0L614.8 243.9L615.3 243.8L615.8 243.7L616.3 243.6L616.8 243.5L617.3 243.4L617.8 243.4L618.3 243.4L618.8 243.4L619.3 243.4L619.8 243.5L620.3 243.6L620.8 243.7L621.3 243.9L621.8 244.1L622.3 244.4L622.8 244.6L623.3 244.9L623.8 245.2L624.3 245.4L624.8 245.7L625.3 246.0L625.8 246.2L626.3 246.5L626.8 246.7L627.3 246.9L627.8 247.1L628.3 247.2L628.8 247.4L629.3 247.6L629.8 247.7L630.3 247.8L630.8 247.9L631.3 248.0L631.8 248.1L632.3 248.2L632.8 248.2L633.3 248.3L633.8 248.3L634.3 248.2L634.8 248.2L635.3 248.1L635.8 248.0L636.3 247.8L636.8 247.7L637.3 247.5L637.8 247.3L638.3 247.1L638.8 246.9L639.3 246.7L639.8 246.6L640.3 246.4L640.8 246.2L641.3 246.1L641.8 245.9L642.3 245.8L642.8 245.7L643.3 245.5L643.8 245.4L644.3 245.3L644.8 245.2L645.3 245.1L645.8 245.0L646.3 244.9L646.8 244.8L647.3 244.7L647.8 244.6L648.3 244.6L648.8 244.5L649.3 244.4L649.8 244.3L650.3 244.3L650.8 244.2L651.3 244.1L651.8 244.0L652.3 244.0L652.8 243.9L653.3 243.8L653.8 243.8L654.3 243.7L654.8 243.6L655.3 243.6L655.8 243.5L656.3 243.5L656.8 243.4L657.3 243.3L657.8 243.2L658.3 243.2L658.8 243.1L659.3 243.0L659.8 243.0L660.3 242.9L660.8 242.8L661.3 242.7L661.8 242.6L662.3 242.5L662.8 242.4L663.3 242.3L663.8 242.2L664.3 242.1L664.8 242.0L665.3 241.9L665.8 241.7L666.3 241.6L666.8 241.5L667.3 241.4L667.8 241.3L668.3 241.2L668.8 241.2L669.3 241.2L669.8 241.3L670.3 241.5L670.8 241.7L671.3 242.0L671.8 242.3L672.3 242.7L672.8 243.1L673.3 243.5L673.8 244.0L674.3 244.4L674.8 244.9L675.3 245.3L675.8 245.8L676.3 246.3L676.8 246.8L677.3 247.3L677.8 247.8L678.3 248.3L678.8 248.9L679.3 249.4L679.8 250.0L680.3 250.6L680.8 251.1L681.3 251.7L681.8 252.3L682.3 252.8L682.8 253.4L683.3 253.9L683.8 254.5L684.3 255.0L684.8 255.6L685.3 256.1L685.8 256.6L685.9 256.7" fill="none" stroke="#000" stroke-width="2.5" stroke-linejoin="round" stroke-linecap="butt" stroke-dasharray="1.55 1.3"/></g></g>
<rect x="67.5" y="216.5" width="481.0" height="59.0" fill="none" stroke="#666" stroke-width="1"/>
<path d="M67.5 226.5h5M548.5 226.5h-5" stroke="#666" stroke-width="1" fill="none"/>
<text transform="translate(63.20,233.20) scale(0.775,1)" font-size="17.2" text-anchor="end" fill="#222" stroke="#222" stroke-width="0.18">20</text>
<path d="M67.5 245.5h5M548.5 245.5h-5" stroke="#666" stroke-width="1" fill="none"/>
<text transform="translate(63.20,252.80) scale(0.775,1)" font-size="17.2" text-anchor="end" fill="#222" stroke="#222" stroke-width="0.18">0</text>
<path d="M67.5 265.4h5M548.5 265.4h-5" stroke="#666" stroke-width="1" fill="none"/>
<text transform="translate(63.20,272.00) scale(0.775,1)" font-size="17.2" text-anchor="end" fill="#222" stroke="#222" stroke-width="0.18">-20</text>
<clipPath id="cp4"><rect x="67.5" y="280.5" width="481.0" height="62.0"/></clipPath>
<g clip-path="url(#cp4)"><g transform="scale(0.8,1)"><path d="M84.3 337.9L84.6 331.1L85.0 325.1L85.4 319.7L85.8 315.0L86.1 310.9L86.5 307.4L86.9 304.3L87.3 301.7L87.6 299.4L88.0 297.4L88.4 295.8L88.8 294.7L89.1 294.1L89.5 294.1L89.9 294.6L90.3 295.5L90.6 296.9L91.0 298.6L91.4 300.6L91.8 302.8L92.1 305.1L92.5 307.4L92.9 309.7L93.3 311.8L93.6 313.8L94.0 315.5L94.4 317.0L94.8 318.4L95.1 319.5L95.5 320.6L95.9 321.4L96.3 322.1L96.6 322.5L97.0 322.7L97.4 322.6L97.8 322.3L98.1 321.8L98.5 321.1L98.9 320.4L99.3 319.5L99.6 318.6L100.0 317.8L100.4 316.9L100.8 316.2L101.1 315.5L101.5 314.8L101.9 314.2L102.3 313.7L102.6 313.2L103.0 312.8L103.4 312.3L103.8 311.9L104.1 311.6L104.5 311.2L104.9 310.8L105.3 310.4L105.6 310.1L106.0 309.7L106.4 309.4L106.8 309.1L107.1 308.8L107.5 308.6L107.9 308.5L108.3 308.4L108.6 308.4L109.0 308.4L109.4 308.6L109.8 308.8L110.1 309.1L110.5 309.4L110.9 309.8L111.3 310.3L111.6 310.9L112.0 311.5L112.4 312.1L112.8 312.9L113.1 313.6L113.5 314.3L113.9 315.0L114.3 315.7L114.6 316.3L115.0 316.8L115.4 317.2L115.8 317.4L116.1 317.5L116.5 317.4L116.9 317.2L117.3 316.9L117.6 316.6L118.0 316.2L118.4 315.8L118.8 315.4L119.1 315.0L119.5 314.7L119.9 314.5L120.3 314.2L120.6 314.1L121.0 313.9L121.4 313.8L121.8 313.8L122.1 313.8L122.5 313.8L122.9 313.9L123.3 314.0L123.6 314.1L124.0 314.2L124.4 314.4L124.8 314.5L125.1 314.7L125.5 314.8L125.9 314.9L126.3 315.0L126.6 315.1L127.0 315.1L127.4 315.0L127.8 314.8L128.1 314.4L128.5 314.0L128.9 313.3L129.3 312.6L129.6 311.8L130.0 310.9L130.4 310.0L130.8 309.1L131.1 308.2L131.5 307.3L131.9 306.5L132.3 305.8L132.6 305.1L133.0 304.6L133.4 304.3L133.8 304.1L134.1 304.0L134.5 304.2L134.9 304.6L135.3 305.1L135.6 305.8L136.0 306.6L136.4 307.5L136.8 308.5L137.1 309.6L137.5 310.7L137.9 311.8L138.3 313.0L138.6 314.1L139.0 315.2L139.4 316.2L139.8 317.2L140.1 318.1L140.5 318.9L140.9 319.6L141.3 320.2L141.6 320.6L142.0 320.9L142.4 321.1L142.8 321.1L143.1 320.9L143.5 320.6L143.9 320.1L144.3 319.5L144.6 318.8L145.0 318.0L145.4 317.1L145.8 316.2L146.1 315.1L146.5 314.1L146.9 313.0L147.3 311.9L147.6 310.8L148.0 309.8L148.4 308.7L148.8 307.7L149.1 306.8L149.5 305.9L149.9 305.1L150.3 304.4L150.6 303.8L151.0 303.3L151.4 303.0L151.8 302.8L152.1 302.8L152.5 303.0L152.9 303.4L153.3 303.9L153.6 304.6L154.0 305.5L154.4 306.4L154.8 307.5L155.1 308.6L155.5 309.7L155.9 310.9L156.3 312.0L156.6 313.2L157.0 314.3L157.4 315.4L157.8 316.3L158.1 317.2L158.5 317.9L158.9 318.5L159.3 318.9L159.6 319.1L160.0 319.1L160.4 318.9L160.8 318.4L161.1 317.8L161.5 317.0L161.9 316.1L162.3 315.1L162.6 314.0L163.0 312.9L163.4 311.8L163.8 310.7L164.1 309.7L164.5 308.7L164.9 307.9L165.3 307.2L165.6 306.6L166.0 306.3L166.4 306.1L166.8 306.1L167.1 306.3L167.5 306.6L167.9 306.9L168.3 307.4L168.6 307.9L169.0 308.5L169.4 309.1L169.8 309.7L170.1 310.3L170.5 310.8L170.9 311.3L171.3 311.7L171.6 312.0L172.0 312.3L172.4 312.5L172.8 312.7L173.1 312.8L173.5 312.9L173.9 312.9L174.3 312.9L174.6 312.8L175.0 312.7L175.4 312.6L175.8 312.4L176.1 312.2L176.5 312.0L176.9 311.7L177.3 311.5L177.6 311.2L178.0 311.0L178.4 310.7L178.8 310.5L179.1 310.3L179.5 310.1L179.9 309.9L180.3 309.7L180.6 309.6L181.0 309.6L181.4 309.6L181.8 309.6L182.1 309.7L182.5 309.8L182.9 310.0L183.3 310.2L183.6 310.5L184.0 310.7L184.4 311.0L184.8 311.3L185.1 311.6L185.5 311.9L185.9 312.2L186.3 312.5L186.6 312.8L187.0 313.0L187.4 313.3L187.8 313.5L188.1 313.6L188.5 313.8L188.9 313.9L189.3 314.0L189.6 314.0L190.0 314.0L190.4 314.0L190.8 313.9L191.1 313.7L191.5 313.5L191.9 313.2L192.3 312.9L192.6 312.5L193.0 312.1L193.4 311.6L193.8 311.1L194.1 310.6L194.5 310.1L194.9 309.5L195.3 308.9L195.6 308.3L196.0 307.7L196.4 307.2L196.8 306.7L197.1 306.2L197.5 305.9L197.9 305.6L198.3 305.5L198.6 305.5L199.0 305.6L199.4 305.9L199.8 306.4L200.1 307.0L200.5 307.7L200.9 308.4L201.3 309.3L201.6 310.3L202.0 311.2L202.4 312.2L202.8 313.3L203.1 314.3L203.5 315.2L203.9 316.2L204.3 317.1L204.6 317.9L205.0 318.6L205.4 319.2L205.8 319.7L206.1 320.0L206.5 320.2L206.9 320.2L207.3 320.1L207.6 319.8L208.0 319.4L208.4 318.9L208.8 318.3L209.1 317.6L209.5 316.8L209.9 316.0L210.3 315.1L210.6 314.1L211.0 313.1L211.4 312.1L211.8 311.1L212.1 310.1L212.5 309.1L212.9 308.2L213.3 307.2L213.6 306.4L214.0 305.6L214.4 304.8L214.8 304.2L215.1 303.6L215.5 303.1L215.9 302.8L216.3 302.6L216.6 302.5L217.0 302.6L217.4 302.9L217.8 303.3L218.1 303.9L218.5 304.7L218.9 305.6L219.3 306.6L219.6 307.7L220.0 308.9L220.4 310.1L220.8 311.4L221.1 312.7L221.5 314.0L221.9 315.3L222.3 316.6L222.6 317.8L223.0 319.0L223.4 320.1L223.8 321.0L224.1 321.9L224.5 322.6L224.9 323.1L225.3 323.4L225.6 323.6L226.0 323.5L226.4 323.3L226.8 322.8L227.1 322.2L227.5 321.5L227.9 320.6L228.3 319.5L228.6 318.4L229.0 317.2L229.4 316.0L229.8 314.6L230.1 313.3L230.5 312.0L230.9 310.6L231.3 309.3L231.6 308.1L232.0 306.8L232.4 305.7L232.8 304.7L233.1 303.8L233.5 303.0L233.9 302.4L234.3 301.9L234.6 301.6L235.0 301.5L235.4 301.7L235.8 302.0L236.1 302.6L236.5 303.3L236.9 304.1L237.3 305.1L237.6 306.2L238.0 307.4L238.4 308.7L238.8 310.0L239.1 311.3L239.5 312.7L239.9 314.0L240.3 315.3L240.6 316.6L241.0 317.8L241.4 318.9L241.8 319.9L242.1 320.8L242.5 321.5L242.9 322.1L243.3 322.5L243.6 322.6L244.0 322.6L244.4 322.3L244.8 321.8L245.1 321.1L245.5 320.2L245.9 319.2L246.3 318.1L246.6 316.9L247.0 315.6L247.4 314.2L247.8 312.8L248.1 311.4L248.5 310.1L248.9 308.7L249.3 307.5L249.6 306.3L250.0 305.2L250.4 304.2L250.8 303.4L251.1 302.8L251.5 302.3L251.9 302.1L252.3 302.1L252.6 302.3L253.0 302.8L253.4 303.4L253.8 304.1L254.1 305.0L254.5 306.0L254.9 307.1L255.3 308.2L255.6 309.4L256.0 310.5L256.4 311.6L256.8 312.6L257.1 313.6L257.5 314.4L257.9 315.1L258.3 315.6L258.6 316.0L259.0 316.1L259.4 316.0L259.8 315.7L260.1 315.2L260.5 314.6L260.9 313.9L261.3 313.2L261.6 312.4L262.0 311.6L262.4 310.9L262.8 310.3L263.1 309.7L263.5 309.3L263.9 309.1L264.3 309.1L264.6 309.2L265.0 309.4L265.4 309.8L265.8 310.2L266.1 310.6L266.5 311.1L266.9 311.6L267.3 312.2L267.6 312.7L268.0 313.1L268.4 313.6L268.8 313.9L269.1 314.2L269.5 314.4L269.9 314.5L270.3 314.6L270.6 314.6L271.0 314.5L271.4 314.3L271.8 314.2L272.1 313.9L272.5 313.6L272.9 313.3L273.3 313.0L273.6 312.6L274.0 312.2L274.4 311.8L274.8 311.4L275.1 311.1L275.5 310.7L275.9 310.4L276.3 310.1L276.6 309.8L277.0 309.6L277.4 309.4L277.8 309.3L278.1 309.2L278.5 309.3L278.9 309.4L279.3 309.6L279.6 309.8L280.0 310.1L280.4 310.4L280.8 310.8L281.1 311.2L281.5 311.6L281.9 312.0L282.3 312.4L282.6 312.8L283.0 313.2L283.4 313.6L283.8 313.9L284.1 314.2L284.5 314.4L284.9 314.6L285.3 314.7L285.6 314.7L286.0 314.6L286.4 314.5L286.8 314.2L287.1 314.0L287.5 313.6L287.9 313.2L288.3 312.8L288.6 312.4L289.0 312.0L289.4 311.5L289.8 311.1L290.1 310.6L290.5 310.2L290.9 309.8L291.3 309.5L291.6 309.3L292.0 309.0L292.4 308.9L292.8 308.9L293.1 308.9L293.5 309.0L293.9 309.2L294.3 309.5L294.6 309.8L295.0 310.1L295.4 310.5L295.8 310.9L296.1 311.3L296.5 311.6L296.9 312.0L297.3 312.2L297.6 312.5L298.0 312.7L298.4 312.8L298.8 312.8L299.1 312.7L299.5 312.5L299.9 312.2L300.3 311.8L300.6 311.3L301.0 310.8L301.4 310.3L301.8 309.7L302.1 309.1L302.5 308.6L302.9 308.0L303.3 307.6L303.6 307.1L304.0 306.8L304.4 306.5L304.8 306.3L305.1 306.3L305.5 306.4L305.9 306.7L306.3 307.1L306.6 307.6L307.0 308.3L307.4 309.0L307.8 309.8L308.1 310.7L308.5 311.6L308.9 312.5L309.3 313.4L309.6 314.3L310.0 315.1L310.4 315.8L310.8 316.5L311.1 317.0L311.5 317.4L311.9 317.7L312.3 317.7L312.6 317.6L313.0 317.3L313.4 316.7L313.8 316.0L314.1 315.2L314.5 314.2L314.9 313.2L315.3 312.1L315.6 311.1L316.0 310.0L316.4 308.9L316.8 307.9L317.1 307.0L317.5 306.3L317.9 305.6L318.3 305.2L318.6 305.0L319.0 305.0L319.4 305.2L319.8 305.6L320.1 306.2L320.5 307.0L320.9 307.9L321.3 308.9L321.6 310.0L322.0 311.1L322.4 312.3L322.8 313.5L323.1 314.7L323.5 315.9L323.9 317.0L324.3 318.0L324.6 318.9L325.0 319.7L325.4 320.3L325.8 320.7L326.1 321.0L326.5 321.0L326.9 320.8L327.3 320.3L327.6 319.6L328.0 318.7L328.4 317.6L328.8 316.3L329.1 315.0L329.5 313.5L329.9 311.9L330.3 310.3L330.6 308.7L331.0 307.0L331.4 305.4L331.8 303.8L332.1 302.3L332.5 300.8L332.9 299.5L333.3 298.3L333.6 297.3L334.0 296.5L334.4 295.9L334.8 295.5L335.1 295.4L335.5 295.5L335.9 296.0L336.3 296.8L336.6 298.0L337.0 299.5L337.4 301.3L337.8 303.3L338.1 305.6L338.5 307.9L338.9 310.5L339.3 313.0L339.6 315.6L340.0 318.2L340.4 320.8L340.8 323.2L341.1 325.6L341.5 327.7L341.9 329.6L342.3 331.3L342.6 332.6L343.0 333.6L343.4 334.3L343.8 334.5L344.1 334.2L344.5 333.4L344.9 332.1L345.3 330.2L345.6 327.8L346.0 325.1L346.4 322.1L346.8 318.8L347.1 315.4L347.5 311.8L347.9 308.2L348.3 304.7L348.6 301.3L349.0 298.1L349.4 295.2L349.8 292.6L350.1 290.4L350.5 288.7L350.9 287.6L351.3 287.1L351.6 287.3L352.0 288.3L352.4 290.0L352.8 292.3L353.1 295.0L353.5 298.3L353.9 301.8L354.3 305.6L354.6 309.5L355.0 313.5L355.4 317.5L355.8 321.3L356.1 325.0L356.5 328.3L356.9 331.2L357.3 333.6L357.6 335.5L358.0 336.7L358.4 337.1L358.8 336.6L359.1 335.3L359.5 333.2L359.9 330.5L360.3 327.2L360.6 323.4L361.0 319.4L361.4 315.1L361.8 310.8L362.1 306.4L362.5 302.2L362.9 298.3L363.3 294.7L363.6 291.5L364.0 288.9L364.4 287.1L364.8 286.0L365.1 285.8L365.5 286.6L365.9 288.3L366.3 290.6L366.6 293.6L367.0 297.1L367.4 301.0L367.8 305.2L368.1 309.5L368.5 313.9L368.9 318.2L369.3 322.3L369.6 326.1L370.0 329.5L370.4 332.4L370.8 334.7L371.1 336.2L371.5 336.8L371.9 336.5L372.3 335.3L372.6 333.2L373.0 330.5L373.4 327.2L373.8 323.4L374.1 319.4L374.5 315.1L374.9 310.7L375.3 306.3L375.6 302.1L376.0 298.2L376.4 294.6L376.8 291.6L377.1 289.2L377.5 287.5L377.9 286.6L378.3 286.8L378.6 287.8L379.0 289.7L379.4 292.3L379.8 295.4L380.1 299.0L380.5 303.0L380.9 307.2L381.3 311.5L381.6 315.9L382.0 320.1L382.4 324.1L382.8 327.7L383.1 330.9L383.5 333.5L383.9 335.5L384.3 336.6L384.6 336.8L385.0 336.1L385.4 334.4L385.8 332.1L386.1 329.0L386.5 325.5L386.9 321.6L387.3 317.3L387.6 313.0L388.0 308.5L388.4 304.2L388.8 300.0L389.1 296.2L389.5 292.8L389.9 289.9L390.3 287.7L390.6 286.3L391.0 285.8L391.4 286.2L391.8 287.6L392.1 289.7L392.5 292.4L392.9 295.7L393.3 299.5L393.6 303.5L394.0 307.8L394.4 312.2L394.8 316.5L395.1 320.8L395.5 324.8L395.9 328.4L396.3 331.6L396.6 334.3L397.0 336.2L397.4 337.4L397.8 337.7L398.1 337.1L398.5 335.7L398.9 333.6L399.3 331.0L399.6 327.8L400.0 324.2L400.4 320.3L400.8 316.3L401.1 312.1L401.5 307.9L401.9 303.7L402.3 299.8L402.6 296.2L403.0 292.9L403.4 290.1L403.8 287.8L404.1 286.3L404.5 285.5L404.9 285.5L405.3 286.3L405.6 287.8L406.0 290.0L406.4 292.6L406.8 295.7L407.1 299.1L407.5 302.8L407.9 306.7L408.3 310.7L408.6 314.7L409.0 318.6L409.4 322.4L409.8 325.9L410.1 329.0L410.5 331.8L410.9 334.0L411.3 335.7L411.6 336.6L412.0 336.8L412.4 336.2L412.8 335.0L413.1 333.0L413.5 330.6L413.9 327.6L414.3 324.4L414.6 320.8L415.0 317.0L415.4 313.1L415.8 309.2L416.1 305.4L416.5 301.7L416.9 298.2L417.3 295.0L417.6 292.3L418.0 290.0L418.4 288.3L418.8 287.3L419.1 287.0L419.5 287.5L419.9 288.8L420.3 290.8L420.6 293.5L421.0 296.6L421.4 300.1L421.8 303.9L422.1 307.9L422.5 312.0L422.9 316.1L423.3 320.0L423.6 323.8L424.0 327.2L424.4 330.2L424.8 332.7L425.1 334.6L425.5 335.7L425.9 336.0L426.3 335.5L426.6 334.1L427.0 332.0L427.4 329.4L427.8 326.2L428.1 322.6L428.5 318.8L428.9 314.7L429.3 310.6L429.6 306.6L430.0 302.6L430.4 298.9L430.8 295.5L431.1 292.6L431.5 290.2L431.9 288.5L432.3 287.5L432.6 287.4L433.0 288.2L433.4 289.7L433.8 291.9L434.1 294.7L434.5 297.9L434.9 301.4L435.3 305.3L435.6 309.3L436.0 313.3L436.4 317.3L436.8 321.2L437.1 324.9L437.5 328.1L437.9 331.0L438.3 333.3L438.6 335.0L439.0 335.9L439.4 336.0L439.8 335.2L440.1 333.7L440.5 331.5L440.9 328.8L441.3 325.6L441.6 322.0L442.0 318.2L442.4 314.2L442.8 310.2L443.1 306.2L443.5 302.4L443.9 298.8L444.3 295.5L444.6 292.7L445.0 290.4L445.4 288.8L445.8 287.9L446.1 287.8L446.5 288.4L446.9 289.6L447.3 291.4L447.6 293.7L448.0 296.3L448.4 299.3L448.8 302.6L449.1 306.0L449.5 309.6L449.9 313.2L450.3 316.8L450.6 320.3L451.0 323.5L451.4 326.6L451.8 329.3L452.1 331.6L452.5 333.4L452.9 334.7L453.3 335.4L453.6 335.6L454.0 335.3L454.4 334.5L454.8 333.3L455.1 331.7L455.5 329.9L455.9 327.7L456.3 325.3L456.6 322.8L457.0 320.1L457.4 317.3L457.8 314.4L458.1 311.6L458.5 308.8L458.9 306.1L459.3 303.5L459.6 301.1L460.0 298.9L460.4 297.0L460.8 295.4L461.1 294.2L461.5 293.3L461.9 292.9L462.3 293.0L462.6 293.7L463.0 294.7L463.4 296.2L463.8 298.0L464.1 300.2L464.5 302.6L464.9 305.1L465.3 307.9L465.6 310.7L466.0 313.5L466.4 316.4L466.8 319.1L467.1 321.8L467.5 324.2L467.9 326.4L468.3 328.4L468.6 330.0L469.0 331.2L469.4 332.0L469.8 332.3L470.1 332.1L470.5 331.2L470.9 329.9L471.3 328.0L471.6 325.8L472.0 323.3L472.4 320.4L472.8 317.4L473.1 314.3L473.5 311.1L473.9 308.0L474.3 304.9L474.6 302.0L475.0 299.2L475.4 296.8L475.8 294.8L476.1 293.2L476.5 292.0L476.9 291.5L477.3 291.6L477.6 292.3L478.0 293.8L478.4 295.9L478.8 298.5L479.1 301.4L479.5 304.5L479.9 307.8L480.3 311.1L480.6 314.2L481.0 317.1L481.4 319.7L481.8 321.8L482.1 323.3L482.5 324.1L482.9 324.1L483.3 323.4L483.6 322.3L484.0 320.7L484.4 319.0L484.8 317.3L485.1 315.7L485.5 314.3L485.9 313.2L486.3 312.3L486.6 311.5L487.0 310.9L487.4 310.4L487.8 310.1L488.1 309.8L488.5 309.6L488.9 309.5L489.3 309.4L489.6 309.4L490.0 309.5L490.4 309.6L490.8 309.7L491.1 309.9L491.5 310.2L491.9 310.5L492.3 310.8L492.6 311.2L493.0 311.5L493.4 311.9L493.8 312.2L494.1 312.6L494.5 312.8L494.9 313.1L495.3 313.3L495.6 313.4L496.0 313.5L496.4 313.5L496.8 313.4L497.1 313.2L497.5 312.9L497.9 312.6L498.3 312.3L498.6 312.0L499.0 311.7L499.4 311.4L499.8 311.1L500.1 310.8L500.5 310.7L500.9 310.6L501.3 310.6L501.6 310.6L502.0 310.8L502.4 311.1L502.8 311.4L503.1 311.7L503.5 312.1L503.9 312.5L504.3 312.9L504.6 313.3L505.0 313.6L505.4 313.8L505.8 314.0L506.1 314.1L506.5 314.0L506.9 313.9L507.3 313.7L507.6 313.3L508.0 313.0L508.4 312.6L508.8 312.1L509.1 311.7L509.5 311.2L509.9 310.8L510.3 310.4L510.6 310.1L511.0 309.9L511.4 309.8L511.8 309.7L512.1 309.8L512.5 310.0L512.9 310.2L513.3 310.5L513.6 310.8L514.0 311.2L514.4 311.5L514.8 311.9L515.1 312.2L515.5 312.5L515.9 312.8L516.3 313.0L516.6 313.2L517.0 313.2L517.4 313.2L517.8 313.1L518.1 313.0L518.5 312.9L518.9 312.7L519.3 312.5L519.6 312.2L520.0 312.0L520.4 311.7L520.8 311.5L521.1 311.3L521.5 311.1L521.9 311.0L522.3 310.8L522.6 310.8L523.0 310.7L523.4 310.8L523.8 310.9L524.1 311.0L524.5 311.1L524.9 311.3L525.3 311.5L525.6 311.7L526.0 311.9L526.4 312.1L526.8 312.2L527.1 312.4L527.5 312.5L527.9 312.6L528.3 312.7L528.6 312.7L529.0 312.7L529.4 312.7L529.8 312.6L530.1 312.5L530.5 312.4L530.9 312.3L531.3 312.2L531.6 312.1L532.0 311.9L532.4 311.7L532.8 311.6L533.1 311.4L533.5 311.2L533.9 311.1L534.3 310.9L534.6 310.8L535.0 310.6L535.4 310.5L535.8 310.4L536.1 310.2L536.5 310.1L536.9 310.0L537.3 310.0L537.6 309.9L538.0 309.8L538.4 309.8L538.8 309.8L539.1 309.8L539.5 309.8L539.9 309.8L540.3 309.8L540.6 309.9L541.0 310.0L541.4 310.1L541.8 310.2L542.1 310.4L542.5 310.5L542.9 310.7L543.3 310.9L543.6 311.1L544.0 311.3L544.4 311.5L544.8 311.7L545.1 311.9L545.5 312.1L545.9 312.3L546.3 312.5L546.6 312.6L547.0 312.8L547.4 312.9L547.8 313.1L548.1 313.2L548.5 313.2L548.9 313.3L549.3 313.3L549.6 313.3L550.0 313.3L550.4 313.2L550.8 313.1L551.1 313.0L551.5 312.9L551.9 312.8L552.3 312.6L552.6 312.5L553.0 312.3L553.4 312.1L553.8 312.0L554.1 311.8L554.5 311.6L554.9 311.4L555.3 311.2L555.6 311.0L556.0 310.8L556.4 310.6L556.8 310.4L557.1 310.3L557.5 310.1L557.9 310.0L558.3 309.9L558.6 309.8L559.0 309.7L559.4 309.6L559.8 309.6L560.1 309.5L560.5 309.5L560.9 309.6L561.3 309.6L561.6 309.7L562.0 309.9L562.4 310.1L562.8 310.3L563.1 310.5L563.5 310.7L563.9 311.0L564.3 311.2L564.6 311.5L565.0 311.8L565.4 312.0L565.8 312.2L566.1 312.4L566.5 312.6L566.9 312.7L567.3 312.8L567.6 312.9L568.0 312.9L568.4 312.8L568.8 312.7L569.1 312.6L569.5 312.4L569.9 312.3L570.3 312.1L570.6 311.8L571.0 311.6L571.4 311.4L571.8 311.2L572.1 311.0L572.5 310.8L572.9 310.7L573.3 310.5L573.6 310.4L574.0 310.4L574.4 310.4L574.8 310.4L575.1 310.5L575.5 310.6L575.9 310.8L576.3 311.0L576.6 311.2L577.0 311.4L577.4 311.7L577.8 311.9L578.1 312.2L578.5 312.4L578.9 312.6L579.3 312.8L579.6 313.0L580.0 313.1L580.4 313.2L580.8 313.3L581.1 313.3L581.5 313.2L581.9 313.1L582.3 313.0L582.6 312.7L583.0 312.5L583.4 312.2L583.8 311.9L584.1 311.6L584.5 311.3L584.9 311.0L585.3 310.7L585.6 310.4L586.0 310.1L586.4 309.8L586.8 309.6L587.1 309.5L587.5 309.4L587.9 309.3L588.3 309.4L588.6 309.4L589.0 309.6L589.4 309.7L589.8 309.9L590.1 310.2L590.5 310.4L590.9 310.7L591.3 311.0L591.6 311.3L592.0 311.6L592.4 311.9L592.8 312.2L593.1 312.4L593.5 312.7L593.9 312.9L594.3 313.0L594.6 313.2L595.0 313.3L595.4 313.3L595.8 313.3L596.1 313.2L596.5 313.1L596.9 312.9L597.3 312.8L597.6 312.6L598.0 312.4L598.4 312.1L598.8 311.9L599.1 311.7L599.5 311.5L599.9 311.3L600.3 311.2L600.6 311.0L601.0 310.9L601.4 310.9L601.8 310.9L602.1 310.9L602.5 311.0L602.9 311.1L603.3 311.2L603.6 311.4L604.0 311.6L604.4 311.8L604.8 312.0L605.1 312.2L605.5 312.4L605.9 312.6L606.3 312.8L606.6 313.0L607.0 313.1L607.4 313.3L607.8 313.4L608.1 313.5L608.5 313.6L608.9 313.7L609.3 313.7L609.6 313.8L610.0 313.8L610.4 313.8L610.8 313.8L611.1 313.8L611.5 313.8L611.9 313.8L612.3 313.8L612.6 313.7L613.0 313.7L613.4 313.6L613.8 313.6L614.1 313.5L614.5 313.4L614.9 313.3L615.3 313.2L615.6 313.1L616.0 313.1L616.4 312.9L616.8 312.8L617.1 312.7L617.5 312.6L617.9 312.5L618.3 312.4L618.6 312.3L619.0 312.2L619.4 312.1L619.8 312.0L620.1 311.9L620.5 311.8L620.9 311.7L621.3 311.6L621.6 311.5L622.0 311.4L622.4 311.4L622.8 311.3L623.1 311.2L623.5 311.2L623.9 311.1L624.3 311.1L624.6 311.1L625.0 311.0L625.4 311.0L625.8 311.0L626.1 311.1L626.5 311.1L626.9 311.1L627.3 311.2L627.6 311.2L628.0 311.3L628.4 311.4L628.8 311.4L629.1 311.5L629.5 311.6L629.9 311.7L630.3 311.8L630.6 311.9L631.0 311.9L631.4 312.0L631.8 312.1L632.1 312.1L632.5 312.2L632.9 312.2L633.3 312.3L633.6 312.3L634.0 312.3L634.4 312.2L634.8 312.2L635.1 312.2L635.5 312.1L635.9 312.1L636.3 312.0L636.6 311.9L637.0 311.8L637.4 311.8L637.8 311.7L638.1 311.6L638.5 311.5L638.9 311.4L639.3 311.3L639.6 311.2L640.0 311.1L640.4 311.1L640.8 311.0L641.1 311.0L641.5 310.9L641.9 310.9L642.3 310.9L642.6 310.8L643.0 310.9L643.4 310.9L643.8 310.9L644.1 311.0L644.5 311.0L644.9 311.1L645.3 311.2L645.6 311.3L646.0 311.4L646.4 311.5L646.8 311.6L647.1 311.7L647.5 311.8L647.9 311.8L648.3 311.9L648.6 312.0L649.0 312.0L649.4 312.1L649.8 312.1L650.1 312.1L650.5 312.0L650.9 312.0L651.3 311.9L651.6 311.9L652.0 311.8L652.4 311.7L652.8 311.6L653.1 311.5L653.5 311.3L653.9 311.2L654.3 311.1L654.6 310.9L655.0 310.8L655.4 310.7L655.8 310.6L656.1 310.5L656.5 310.4L656.9 310.3L657.3 310.2L657.6 310.1L658.0 310.1L658.4 310.0L658.8 310.0L659.1 310.0L659.5 310.1L659.9 310.1L660.3 310.2L660.6 310.3L661.0 310.4L661.4 310.6L661.8 310.7L662.1 310.9L662.5 311.0L662.9 311.2L663.3 311.4L663.6 311.6L664.0 311.8L664.4 312.0L664.8 312.1L665.1 312.3L665.5 312.5L665.9 312.6L666.3 312.7L666.6 312.9L667.0 313.0L667.4 313.0L667.8 313.1L668.1 313.1L668.5 313.1L668.9 313.1L669.3 313.0L669.6 313.0L670.0 312.9L670.4 312.7L670.8 312.6L671.1 312.4L671.5 312.3L671.9 312.1L672.3 311.8L672.6 311.6L673.0 311.3L673.4 311.1L673.8 310.8L674.1 310.5L674.5 310.2L674.9 309.9L675.3 309.6L675.6 309.4L676.0 309.2L676.4 309.0L676.8 308.8L677.1 308.7L677.5 308.6L677.9 308.5L678.3 308.5L678.6 308.6L679.0 308.8L679.4 308.9L679.8 309.2L680.1 309.5L680.5 309.8L680.9 310.2L681.3 310.6L681.6 311.0L682.0 311.5L682.4 312.0L682.8 312.5L683.1 313.0L683.5 313.6L683.9 314.1L684.3 314.7L684.6 315.3L685.0 315.8L685.4 316.4L685.8 317.0L685.8 317.1" fill="none" stroke="#000" stroke-width="1.5" stroke-linejoin="round" stroke-linecap="butt"/><path d="M84.3 337.9L84.4 336.4M84.4 335.1L84.5 333.6M84.6 332.3L84.7 330.7M84.8 329.4L84.9 327.9M84.9 326.6L85.0 325.0M85.1 323.7L85.2 322.2M85.3 320.9L85.4 319.4M85.4 319.4L85.5 317.9M85.6 316.6L85.7 315.1M85.9 313.8L86.0 312.2M86.1 310.9L86.3 309.4M86.4 308.1L86.5 307.1M86.5 307.1L86.6 305.6M86.8 304.3L87.0 302.7M87.2 301.5L87.4 299.9M87.5 298.6L87.6 298.3M87.6 298.3L87.8 296.8M88.0 295.5L88.3 294.0M88.5 292.7L88.6 291.7M88.6 291.7L89.7 290.7M89.7 290.7L90.1 292.2M90.4 293.5L90.7 295.0M90.8 295.7L91.1 297.2M91.3 298.5L91.5 300.1M91.7 301.3L91.9 302.8M91.9 302.8L92.2 304.3M92.4 305.6L92.7 307.1M92.9 308.4L93.0 309.5M93.0 309.5L93.3 311.0M93.6 312.3L93.9 313.8M94.1 314.9L94.6 316.4M94.9 317.6L95.2 318.7M95.2 318.7L95.9 320.1M96.3 321.0L97.4 321.0M97.4 321.0L98.1 319.6M98.5 318.8L99.0 317.3M99.4 316.1L99.6 315.5M99.6 315.5L100.1 314.0M100.5 312.7L100.7 312.0M100.7 312.0L101.3 310.6M101.8 309.3L101.8 309.3M101.8 309.3L102.6 307.9M102.9 307.4L104.0 306.4M104.0 306.4L105.1 306.1M105.1 306.1L106.2 306.4M106.2 306.4L107.3 307.4M107.3 307.4L108.2 308.6M108.4 308.8L109.2 310.2M109.5 310.6L110.3 312.0M110.6 312.5L111.4 313.8M111.7 314.2L112.8 315.2M112.8 315.2L113.9 315.3M113.9 315.3L115.0 314.6M115.0 314.6L116.1 313.6M116.1 313.6L117.2 312.6M117.2 312.6L118.3 311.9M118.3 311.9L119.4 311.5M119.4 311.5L120.5 311.3M120.5 311.3L121.6 311.2M121.6 311.2L122.6 311.2M122.6 311.2L123.7 311.1M123.7 311.1L124.8 310.9M124.8 310.9L125.9 310.6M125.9 310.6L127.0 309.9M127.0 309.9L128.1 308.7M128.1 308.7L129.1 307.5M129.2 307.3L130.3 306.5M130.3 306.5L131.4 307.6M131.4 307.6L132.0 309.0M132.5 310.1L133.0 311.6M133.5 312.8L133.6 313.2M133.6 313.2L134.2 314.7M134.6 315.9L134.7 316.1M134.7 316.1L135.4 317.5M135.8 318.4L136.8 319.6M136.9 319.8L138.0 320.1M138.0 320.1L139.1 319.1M139.1 319.1L139.9 317.8M140.2 317.2L140.8 315.8M141.3 314.7L141.8 313.2M142.3 312.0L142.4 311.8M142.4 311.8L142.9 310.4M143.4 309.2L143.5 308.9M143.5 308.9L144.1 307.5M144.6 306.4L145.4 305.1M145.7 304.5L146.8 303.6M146.8 303.6L147.9 303.9M147.9 303.9L148.9 305.1M149.0 305.2L149.7 306.6M150.1 307.3L150.7 308.8M151.2 309.9L151.7 311.3M152.2 312.5L152.3 312.6M152.3 312.6L152.9 314.1M153.4 315.2L154.1 316.6M154.5 317.3L155.4 318.6M155.6 318.7L156.6 319.1M156.6 319.1L157.7 318.3M157.7 318.3L158.6 317.0M158.8 316.7L159.5 315.3M159.9 314.5L160.6 313.1M161.0 312.1L161.7 310.7M162.1 309.8L162.9 308.4M163.2 307.9L164.3 306.7M164.3 306.6L165.4 306.3M165.4 306.3L166.5 306.8M166.5 306.8L167.6 307.9M167.6 307.9L168.6 309.0M168.7 309.1L169.8 310.2M169.8 310.3L170.9 311.2M170.9 311.2L172.0 311.8M172.0 311.8L173.1 312.0M173.1 312.0L174.2 312.1M174.2 312.1L175.3 312.1M175.3 312.1L176.4 312.1M176.4 312.1L177.5 312.0M177.5 312.0L178.6 312.0M178.6 312.0L179.7 312.0M179.7 312.0L180.8 312.1M180.8 312.1L181.9 312.1M181.9 312.1L183.0 312.1M183.0 312.1L184.1 312.1M184.1 312.1L185.2 312.0M185.2 312.0L186.3 311.9M186.3 311.9L187.4 311.6M187.4 311.6L188.5 311.3M188.5 311.3L189.6 311.0M189.6 311.0L190.6 310.5M190.6 310.5L191.7 310.0M191.7 310.0L192.8 309.5M192.8 309.5L193.9 309.0M193.9 309.0L195.0 308.8M195.0 308.8L196.1 309.1M196.1 309.1L197.2 310.1M197.2 310.1L198.1 311.3M198.3 311.6L199.1 312.9M199.4 313.3L200.3 314.6M200.5 315.0L201.6 316.1M201.6 316.2L202.7 316.6M202.7 316.6L203.8 316.0M203.8 316.0L204.8 314.9M204.9 314.8L205.7 313.4M206.0 313.0L206.7 311.6M207.1 310.9L207.8 309.5M208.2 308.8L209.0 307.5M209.3 307.0L210.3 305.8M210.4 305.7L211.5 305.2M211.5 305.2L212.6 305.6M212.6 305.6L213.5 306.9M213.7 307.2L214.3 308.6M214.8 309.6L215.3 311.1M215.8 312.3L215.9 312.6M215.9 312.6L216.4 314.0M216.8 315.3L217.0 315.7M217.0 315.7L217.5 317.2M218.0 318.4L218.1 318.7M218.1 318.7L218.7 320.1M219.2 321.1L220.1 322.4M220.3 322.7L221.4 323.0M221.4 323.0L222.4 321.9M222.5 321.8L223.0 320.4M223.5 319.2L223.6 319.1M223.6 319.1L224.0 317.6M224.4 316.4L224.6 315.4M224.6 315.4L225.0 313.9M225.4 312.6L225.7 311.1M225.7 311.1L226.1 309.6M226.5 308.3L226.8 306.8M226.8 306.8L227.3 305.3M227.6 304.1L227.9 303.1M227.9 303.1L228.5 301.6M229.0 300.4L229.0 300.3M229.0 300.3L230.1 299.1M230.1 299.0L231.2 299.6M231.2 299.6L232.0 301.0M232.3 301.7L232.8 303.1M233.3 304.4L233.4 304.8M233.4 304.8L233.9 306.3M234.2 307.5L234.5 308.5M234.5 308.5L234.9 310.0M235.3 311.2L235.6 312.3M235.6 312.3L236.1 313.8M236.5 315.0L236.7 315.7M236.7 315.7L237.3 317.1M237.8 318.3L238.8 319.5M238.9 319.6L240.0 319.3M240.0 319.3L240.9 318.0M241.1 317.7L241.7 316.2M242.2 315.1L242.7 313.6M243.1 312.4L243.3 312.0M243.3 312.0L243.8 310.5M244.2 309.3L244.4 308.8M244.4 308.8L244.9 307.4M245.4 306.1L245.5 305.9M245.5 305.9L246.2 304.5M246.6 303.7L247.7 302.6M247.7 302.6L248.8 302.9M248.8 302.9L249.6 304.2M249.9 304.7L250.4 306.2M250.9 307.4L251.0 307.5M251.0 307.5L251.5 309.0M251.9 310.2L252.1 310.7M252.1 310.7L252.6 312.2M253.0 313.4L253.2 313.9M253.2 313.9L253.8 315.3M254.3 316.4L255.2 317.6M255.4 317.7L256.5 317.7M256.5 317.7L257.5 316.5M257.5 316.5L258.3 315.2M258.6 314.7L259.4 313.3M259.7 312.6L260.5 311.3M260.8 310.7L261.8 309.5M261.9 309.3L263.0 308.9M263.0 308.9L264.1 309.3M264.1 309.3L265.2 310.3M265.2 310.3L266.2 311.5M266.3 311.6L267.4 312.7M267.4 312.8L268.5 313.7M268.5 313.7L269.6 313.9M269.6 313.9L270.7 313.3M270.7 313.3L271.8 312.3M271.8 312.3L272.9 311.2M272.9 311.1L274.0 310.0M274.0 310.0L275.1 309.2M275.1 309.2L276.2 309.1M276.2 309.1L277.3 309.6M277.3 309.6L278.4 310.5M278.4 310.5L279.5 311.6M279.5 311.7L280.6 312.8M280.6 312.8L281.7 313.8M281.7 313.8L282.8 314.3M282.8 314.3L283.9 314.1M283.9 314.1L285.0 313.3M285.0 313.3L286.0 312.2M286.1 312.2L287.1 311.0M287.2 310.9L288.2 309.8M288.3 309.7L289.4 308.9M289.4 308.9L290.5 308.6M290.5 308.6L291.5 309.0M291.5 309.0L292.6 309.8M292.6 309.8L293.7 310.8M293.7 310.8L294.8 311.8M294.8 311.8L295.9 312.3M295.9 312.3L297.0 312.1M297.0 312.1L298.1 311.2M298.1 311.2L299.1 310.1M299.2 309.9L300.2 308.7M300.3 308.6L301.4 307.5M301.4 307.5L302.5 306.9M302.5 306.9L303.6 307.3M303.6 307.3L304.6 308.5M304.7 308.6L305.5 310.0M305.8 310.6L306.5 311.9M306.9 312.7L307.7 314.1M308.0 314.7L308.9 315.9M309.1 316.1L310.2 316.6M310.2 316.6L311.3 315.9M311.3 315.9L312.2 314.6M312.4 314.2L313.1 312.8M313.5 312.1L314.2 310.7M314.6 309.8L315.3 308.5M315.7 307.9L316.7 306.7M316.8 306.6L317.9 306.5M317.9 306.5L318.9 307.7M319.0 307.8L319.7 309.2M320.1 310.0L320.7 311.4M321.2 312.6L321.2 312.6M321.2 312.6L321.8 314.1M322.3 315.1L323.1 316.4M323.4 316.8L324.5 317.2M324.5 317.2L325.4 315.9M325.5 315.7L326.1 314.3M326.6 313.1L326.6 312.9M326.6 312.9L327.1 311.4M327.5 310.2L327.7 309.3M327.7 309.3L328.2 307.8M328.5 306.6L328.8 305.6M328.8 305.6L329.3 304.1M329.8 302.9L329.9 302.4M329.9 302.4L330.7 301.0M331.0 300.3L332.1 300.1M332.1 300.1L332.8 301.5M333.2 302.3L333.6 303.8M333.9 305.1L334.3 306.6M334.3 306.8L334.6 308.3M334.9 309.6L335.1 311.1M335.4 312.4L335.4 312.5M335.4 312.5L335.7 314.1M335.9 315.4L336.2 316.9M336.4 318.2L336.5 318.6M336.5 318.6L336.8 320.2M337.1 321.4L337.4 323.0M337.6 324.0L338.1 325.5M338.4 326.8L338.7 327.8M338.7 327.8L339.8 328.8M339.8 328.8L340.4 327.3M340.9 326.1L340.9 326.1M340.9 326.1L341.2 324.6M341.4 323.3L341.7 321.8M341.9 320.5L342.0 320.1M342.0 320.1L342.2 318.6M342.4 317.3L342.6 315.8M342.8 314.5L343.0 312.9M343.1 312.1L343.3 310.6M343.5 309.3L343.6 307.7M343.8 306.5L344.0 304.9M344.2 303.6L344.2 303.4M344.2 303.4L344.4 301.9M344.6 300.6L344.8 299.1M345.0 297.8L345.2 296.2M345.3 295.5L345.6 293.9M345.8 292.7L346.1 291.1M346.3 289.8L346.4 289.5M346.4 289.5L347.0 288.1M347.5 287.1L348.1 288.5M348.6 289.4L348.8 290.9M349.0 292.2L349.2 293.7M349.4 295.0L349.7 296.6M349.7 296.7L349.8 298.2M350.0 299.5L350.1 301.0M350.3 302.3L350.4 303.9M350.6 305.2L350.7 306.7M350.8 307.0L350.9 308.5M351.1 309.8L351.2 311.4M351.3 312.7L351.5 314.2M351.6 315.5L351.8 317.0M351.9 318.2L352.0 319.7M352.2 321.0L352.4 322.6M352.5 323.9L352.7 325.4M352.8 326.7L353.0 328.2M353.0 328.2L353.2 329.7M353.4 331.0L353.7 332.5M353.9 333.8L354.1 334.8M354.1 334.8L355.2 335.9M355.2 335.9L355.5 334.3M355.7 333.1L356.0 331.5M356.3 330.3L356.4 328.8M356.6 327.5L356.7 325.9M356.9 324.6L357.0 323.1M357.2 321.8L357.3 320.3M357.4 320.2L357.5 318.6M357.6 317.3L357.8 315.8M357.9 314.5L358.0 313.0M358.1 311.7L358.3 310.1M358.4 308.8L358.5 308.1M358.5 308.1L358.6 306.5M358.7 305.2L358.9 303.7M359.0 302.4L359.1 300.9M359.3 299.6L359.4 298.0M359.5 296.7L359.5 296.6M359.5 296.6L359.8 295.0M359.9 293.7L360.1 292.2M360.3 290.9L360.5 289.4M360.6 288.3L361.3 286.9M361.7 285.9L362.1 287.4M362.4 288.7L362.7 290.2M362.8 290.7L363.0 292.3M363.1 293.5L363.3 295.1M363.5 296.4L363.6 297.9M363.8 299.2L363.9 300.7M363.9 300.7L364.1 302.2M364.2 303.5L364.3 305.1M364.4 306.4L364.6 307.9M364.7 309.2L364.8 310.7M364.9 312.0L365.0 313.0M365.0 313.0L365.2 314.5M365.3 315.8L365.4 317.4M365.6 318.6L365.7 320.2M365.8 321.5L366.0 323.0M366.1 324.3L366.1 324.8M366.1 324.8L366.3 326.4M366.5 327.6L366.7 329.2M366.8 330.5L367.0 332.0M367.2 333.3L367.2 333.4M367.2 333.4L367.8 334.8M368.3 336.0L368.7 334.4M368.9 333.2L369.3 331.7M369.4 330.9L369.6 329.4M369.7 328.1L369.9 326.6M370.0 325.3L370.2 323.7M370.3 322.4L370.5 320.9M370.5 320.6L370.6 319.1M370.8 317.8L370.9 316.3M371.0 315.0L371.1 313.4M371.3 312.1L371.4 310.6M371.5 309.3L371.6 308.1M371.6 308.1L371.8 306.5M371.9 305.2L372.0 303.7M372.1 302.4L372.3 300.9M372.4 299.6L372.5 298.0M372.7 296.7L372.7 296.3M372.7 296.3L372.9 294.8M373.1 293.5L373.3 291.9M373.5 290.7L373.7 289.1M373.8 288.3L374.8 287.2M374.9 287.1L375.2 288.6M375.4 289.9L375.6 291.4M375.9 292.7L376.0 293.6M376.0 293.6L376.1 295.1M376.3 296.4L376.4 298.0M376.5 299.3L376.7 300.8M376.8 302.1L377.0 303.6M377.1 304.9L377.1 304.9M377.1 304.9L377.2 306.5M377.3 307.8L377.5 309.3M377.6 310.6L377.7 312.2M377.8 313.5L377.9 315.0M378.1 316.3L378.2 317.8M378.2 317.9L378.3 319.5M378.5 320.7L378.6 322.3M378.7 323.6L378.9 325.1M379.0 326.4L379.2 328.0M379.3 329.2L379.5 330.8M379.8 332.0L380.0 333.6M380.2 334.9L380.4 335.7M380.4 335.7L381.4 334.5M381.5 334.5L381.7 333.0M381.9 331.7L382.1 330.1M382.3 328.9L382.5 327.3M382.6 326.9L382.7 325.3M382.9 324.0L383.0 322.5M383.1 321.2L383.3 319.6M383.4 318.3L383.5 316.8M383.7 315.5L383.7 315.5M383.7 315.5L383.8 313.9M383.9 312.6L384.1 311.1M384.2 309.8L384.3 308.2M384.4 306.9L384.6 305.4M384.7 304.1L384.8 303.1M384.8 303.1L384.9 301.5M385.1 300.3L385.2 298.7M385.4 297.4L385.5 295.9M385.7 294.6L385.8 293.0M385.9 292.5L386.1 290.9M386.4 289.7L386.6 288.1M386.9 286.9L387.0 286.4M387.0 286.4L388.1 287.3M388.1 287.3L388.3 288.8M388.5 290.1L388.7 291.6M388.9 292.9L389.1 294.4M389.2 294.7L389.3 296.2M389.4 297.5L389.6 299.1M389.7 300.4L389.9 301.9M390.0 303.2L390.1 304.7M390.3 306.0L390.4 307.5M390.5 308.8L390.6 310.3M390.8 311.6L390.9 313.2M391.0 314.5L391.1 316.0M391.3 317.3L391.4 318.4M391.4 318.4L391.5 319.9M391.6 321.2L391.8 322.8M391.9 324.1L392.1 325.6M392.2 326.9L392.4 328.5M392.4 329.3L392.7 330.8M392.9 332.1L393.2 333.7M393.4 334.9L393.5 336.0M393.5 336.0L394.6 336.0M394.6 336.0L394.9 334.4M395.1 333.2L395.4 331.6M395.6 330.3L395.7 329.6M395.7 329.6L395.9 328.0M396.0 326.7L396.2 325.2M396.3 323.9L396.5 322.4M396.6 321.1L396.8 319.5M396.8 319.2L397.0 317.6M397.1 316.3L397.2 314.8M397.4 313.5L397.5 311.9M397.6 310.7L397.8 309.1M397.9 307.8L397.9 307.1M397.9 307.1L398.1 305.6M398.2 304.3L398.4 302.7M398.5 301.4L398.6 299.9M398.8 298.6L398.9 297.1M399.0 295.8L399.2 294.3M399.4 293.0L399.6 291.4M399.8 290.2L400.0 288.6M400.1 287.6L400.7 286.2M401.2 285.0L401.2 284.9M401.2 284.9L401.7 286.4M402.0 287.7L402.3 288.6M402.3 288.6L402.5 290.2M402.7 291.5L402.9 293.0M403.1 294.3L403.3 295.8M403.4 297.0L403.6 298.5M403.7 299.8L403.9 301.4M404.0 302.7L404.1 304.2M404.3 305.5L404.4 307.0M404.5 307.9L404.7 309.4M404.8 310.7L404.9 312.2M405.1 313.5L405.2 315.1M405.3 316.4L405.5 317.9M405.6 319.2L405.6 319.2M405.6 319.2L405.8 320.8M405.9 322.1L406.1 323.6M406.2 324.9L406.4 326.4M406.6 327.7L406.7 329.0M406.7 329.0L407.0 330.5M407.2 331.8L407.5 333.3M407.7 334.6L407.8 335.1M407.8 335.1L408.9 335.4M408.9 335.4L409.2 333.9M409.4 332.6L409.7 331.1M410.0 329.8L410.0 329.7M410.0 329.7L410.2 328.1M410.3 326.9L410.5 325.3M410.6 324.0L410.8 322.5M411.0 321.2L411.1 320.0M411.1 320.0L411.2 318.4M411.4 317.1L411.5 315.6M411.6 314.3L411.8 312.8M411.9 311.5L412.1 309.9M412.2 308.6L412.2 308.6M412.2 308.6L412.3 307.0M412.5 305.7L412.6 304.2M412.8 302.9L412.9 301.3M413.1 300.1L413.2 298.5M413.3 297.7L413.5 296.2M413.7 294.9L413.9 293.4M414.1 292.1L414.3 290.6M414.4 289.8L415.0 288.4M415.4 287.2L415.5 287.1M415.5 287.1L415.9 288.6M416.2 289.8L416.6 291.0M416.6 291.0L416.8 292.5M416.9 293.8L417.1 295.4M417.3 296.7L417.5 298.2M417.6 299.5L417.7 299.9M417.7 299.9L417.8 301.5M417.9 302.8L418.1 304.3M418.2 305.6L418.4 307.2M418.5 308.5L418.6 310.0M418.8 311.3L418.8 311.4M418.8 311.4L418.9 313.0M419.0 314.3L419.2 315.8M419.3 317.1L419.5 318.6M419.6 319.9L419.7 321.5M419.9 322.8L419.9 322.9M419.9 322.9L420.1 324.5M420.2 325.8L420.4 327.3M420.6 328.6L420.7 330.1M420.9 331.4L421.0 332.0M421.0 332.0L421.4 333.5M421.7 334.7L422.1 336.0M422.1 336.0L422.6 334.6M423.1 333.4L423.2 333.1M423.2 333.1L423.4 331.6M423.5 330.3L423.7 328.8M423.9 327.5L424.1 325.9M424.2 324.7L424.3 324.5M424.3 324.5L424.4 323.0M424.5 321.7L424.7 320.1M424.8 318.8L424.9 317.3M425.1 316.0L425.2 314.5M425.3 313.2L425.4 312.9M425.4 312.9L425.5 311.4M425.6 310.1L425.8 308.6M425.9 307.3L426.0 305.7M426.1 304.4L426.3 302.9M426.4 301.6L426.4 301.2M426.4 301.2L426.6 299.6M426.8 298.3L427.0 296.8M427.1 295.5L427.3 294.0M427.5 292.7L427.5 292.0M427.5 292.0L428.0 290.5M428.3 289.2L428.6 288.1M428.6 288.1L429.1 289.6M429.5 290.8L429.7 291.8M429.7 291.8L429.9 293.3M430.1 294.6L430.2 296.1M430.4 297.4L430.6 299.0M430.7 300.2L430.8 301.4M430.8 301.4L431.0 303.0M431.1 304.3L431.2 305.8M431.3 307.1L431.5 308.6M431.6 309.9L431.7 311.5M431.8 312.8L431.9 313.8M431.9 313.8L432.1 315.4M432.2 316.7L432.3 318.2M432.5 319.5L432.6 321.1M432.7 322.3L432.9 323.9M433.0 325.2L433.0 325.8M433.0 325.8L433.2 327.3M433.4 328.6L433.6 330.1M433.8 331.4L434.0 332.9M434.1 333.9L435.0 335.3M435.2 335.7L435.6 334.2M435.9 332.9L436.3 331.4M436.3 331.3L436.5 329.8M436.7 328.5L436.9 327.0M437.0 325.7L437.2 324.1M437.4 322.8L437.4 322.7M437.4 322.7L437.6 321.2M437.7 319.9L437.9 318.4M438.0 317.1L438.2 315.5M438.3 314.2L438.4 312.7M438.5 312.0L438.7 310.5M438.8 309.2L439.0 307.7M439.1 306.4L439.3 304.8M439.4 303.5L439.5 302.0M439.6 301.3L439.8 299.8M440.0 298.5L440.2 297.0M440.3 295.7L440.5 294.1M440.7 292.8L440.7 292.7M440.7 292.7L441.1 291.2M441.4 289.9L441.8 288.4M441.8 288.2L442.8 289.4M442.9 289.4L443.2 290.9M443.4 292.2L443.7 293.7M444.0 295.0L444.0 295.3M444.0 295.3L444.2 296.8M444.4 298.1L444.5 299.6M444.7 300.9L444.9 302.5M445.1 303.7L445.1 304.0M445.1 304.0L445.3 305.6M445.4 306.9L445.6 308.4M445.7 309.7L445.9 311.2M446.0 312.5L446.2 314.0M446.2 314.0L446.4 315.5M446.5 316.8L446.7 318.4M446.8 319.7L447.0 321.2M447.2 322.5L447.3 323.5M447.3 323.5L447.5 325.0M447.7 326.3L447.9 327.8M448.1 329.1L448.4 330.6M448.4 330.7L448.9 332.2M449.3 333.4L449.5 334.0M449.5 334.0L450.5 332.8M450.6 332.7L450.9 331.2M451.2 329.9L451.5 328.4M451.7 327.8L451.9 326.2M452.1 325.0L452.3 323.4M452.5 322.1L452.8 320.6M452.8 320.6L453.0 319.0M453.1 317.7L453.4 316.2M453.5 314.9L453.7 313.4M453.9 312.3L454.1 310.8M454.3 309.5L454.5 308.0M454.6 306.7L454.9 305.2M455.0 304.4L455.2 302.9M455.4 301.6L455.7 300.1M455.9 298.8L456.1 298.1M456.1 298.1L456.5 296.6M456.9 295.4L457.2 294.6M457.2 294.6L458.3 294.9M458.3 294.9L458.7 296.4M459.1 297.6L459.4 298.4M459.4 298.4L459.6 299.9M459.9 301.2L460.2 302.7M460.4 304.0L460.4 304.0M460.4 304.0L460.7 305.6M460.9 306.8L461.2 308.4M461.4 309.7L461.5 310.7M461.5 310.7L461.8 312.2M462.0 313.5L462.3 315.0M462.5 316.3L462.6 317.4M462.6 317.4L462.9 318.9M463.2 320.2L463.5 321.7M463.7 323.0L463.7 323.0M463.7 323.0L464.2 324.5M464.6 325.8L464.8 326.6M464.8 326.6L465.9 327.0M465.9 327.0L466.5 325.6M466.9 324.3L467.0 324.1M467.0 324.1L467.3 322.6M467.6 321.3L467.9 319.8M468.1 318.8L468.4 317.3M468.6 316.0L468.9 314.5M469.1 313.2L469.2 312.2M469.2 312.2L469.5 310.7M469.7 309.4L469.9 307.9M470.1 306.6L470.3 305.5M470.3 305.5L470.6 304.0M470.8 302.7L471.1 301.2M471.4 299.9L471.4 299.7M471.4 299.7L471.8 298.2M472.2 296.9L472.5 295.9M472.5 295.9L473.6 295.2M473.6 295.2L474.1 296.7M474.5 297.9L474.7 298.4M474.7 298.4L475.0 299.9M475.2 301.2L475.5 302.7M475.7 304.0L475.8 304.5M475.8 304.5L476.0 306.1M476.2 307.4L476.4 308.9M476.6 310.2L476.9 311.7M476.9 312.0L477.1 313.5M477.3 314.8L477.6 316.4M477.8 317.6L478.0 319.2M478.0 319.2L478.3 320.7M478.6 322.0L478.9 323.5M479.1 324.6L479.9 325.9M480.2 326.5L480.8 325.1M481.3 324.0L481.6 322.5M481.8 321.2L482.2 319.7M482.4 318.5L482.6 317.0M482.8 315.7L483.1 314.2M483.3 312.9L483.5 311.9M483.5 311.9L483.8 310.4M484.0 309.1L484.3 307.6M484.5 306.3L484.6 306.0M484.6 306.0L485.1 304.5M485.4 303.3L485.7 302.6M485.7 302.6L486.8 303.0M486.8 303.0L487.3 304.4M487.7 305.6L487.9 306.0M487.9 306.0L488.3 307.5M488.6 308.8L489.0 310.0M489.0 310.0L489.5 311.5M489.9 312.7L490.1 313.1M490.1 313.1L491.2 314.0M491.2 314.0L492.3 313.0M492.3 313.0L493.0 311.7M493.4 311.0L494.0 309.6M494.4 308.8L495.2 307.4M495.5 306.7L496.4 305.4M496.6 305.0L497.7 303.9M497.7 303.9L498.8 303.5M498.8 303.5L499.9 304.0M499.9 304.0L500.8 305.3M501.0 305.6L501.6 307.1M502.1 308.3L502.1 308.3M502.1 308.3L502.7 309.7M503.1 311.0L503.2 311.3M503.2 311.3L503.8 312.7M504.3 313.9L505.2 315.1M505.4 315.4L506.5 315.3M506.5 315.3L507.4 314.1M507.6 313.8L508.4 312.5M508.7 311.8L509.6 310.5M509.8 310.2L510.9 309.5M510.9 309.5L512.0 310.0M512.0 310.0L513.1 311.0M513.1 311.0L514.2 312.1M514.2 312.1L515.3 312.9M515.3 312.9L516.4 313.1M516.4 313.1L517.5 312.8M517.5 312.8L518.6 312.1M518.6 312.1L519.7 311.4M519.7 311.4L520.8 310.7M520.8 310.7L521.9 310.4M521.9 310.4L523.0 310.3M523.0 310.3L524.1 310.6M524.1 310.6L525.2 311.1M525.2 311.1L526.3 311.6M526.3 311.6L527.3 312.1M527.3 312.1L528.4 312.6M528.4 312.6L529.5 312.8M529.5 312.8L530.6 313.0M530.6 313.0L531.7 312.9M531.7 312.9L532.8 312.7M532.8 312.7L533.9 312.3M533.9 312.3L535.0 311.7M535.0 311.7L536.1 311.0M536.1 311.0L537.2 310.3M537.2 310.3L538.3 309.8M538.3 309.8L539.4 309.6M539.4 309.6L540.5 309.8M540.5 309.8L541.6 310.4M541.6 310.4L542.7 311.2M542.7 311.2L543.8 312.1M543.8 312.1L544.9 312.8M544.9 312.8L546.0 313.3M546.0 313.3L547.1 313.2M547.1 313.2L548.2 312.7M548.2 312.7L549.3 311.9M549.3 311.9L550.4 311.1M550.4 311.1L551.5 310.7M551.5 310.7L552.6 310.9M552.6 310.9L553.7 311.6M553.7 311.6L554.8 312.5M554.8 312.5L555.9 313.0M555.9 313.0L557.0 312.9M557.0 312.9L558.1 312.1M558.1 312.1L559.2 311.1M559.2 311.1L560.3 310.1M560.3 310.1L561.3 309.7M561.3 309.7L562.4 309.9M562.4 309.9L563.5 310.7M563.5 310.7L564.6 311.7M564.6 311.7L565.7 312.6M565.7 312.6L566.8 313.1M566.8 313.1L567.9 313.0M567.9 313.0L569.0 312.5M569.0 312.5L570.1 311.8M570.1 311.8L571.2 311.0M571.2 311.0L572.3 310.4M572.3 310.4L573.4 310.1M573.4 310.1L574.5 310.2M574.5 310.2L575.6 310.8M575.6 310.8L576.7 311.6M576.7 311.6L577.8 312.5M577.8 312.5L578.9 313.2M578.9 313.2L580.0 313.5M580.0 313.5L581.1 313.3M581.1 313.3L582.2 312.6M582.2 312.6L583.3 311.6M583.3 311.6L584.4 310.6M584.4 310.6L585.5 309.7M585.5 309.7L586.6 309.2M586.6 309.2L587.7 309.2M587.7 309.2L588.8 309.7M588.8 309.7L589.9 310.6M589.9 310.6L591.0 311.5M591.0 311.5L592.1 312.5M592.1 312.5L593.2 313.2M593.2 313.2L594.3 313.5M594.3 313.5L595.3 313.3M595.3 313.3L596.4 312.8M596.4 312.8L597.5 312.1M597.5 312.1L598.6 311.3M598.6 311.3L599.7 310.8M599.7 310.8L600.8 310.5M600.8 310.5L601.9 310.8M601.9 310.8L603.0 311.3M603.0 311.3L604.1 312.0M604.1 312.0L605.2 312.7M605.2 312.7L606.3 313.3M606.3 313.3L607.4 313.8M607.4 313.8L608.5 314.1M608.5 314.1L609.6 314.3M609.6 314.3L610.7 314.4M610.7 314.4L611.8 314.3M611.8 314.3L612.9 314.2M612.9 314.2L614.0 314.0M614.0 314.0L615.1 313.7M615.1 313.7L616.2 313.4M616.2 313.4L617.3 313.0M617.3 313.0L618.4 312.6M618.4 312.6L619.5 312.2M619.5 312.2L620.6 311.8M620.6 311.8L621.7 311.5M621.7 311.5L622.8 311.2M622.8 311.2L623.9 311.0M623.9 311.0L625.0 310.8M625.0 310.8L626.1 310.8M626.1 310.8L627.2 311.0M627.2 311.0L628.3 311.2M628.3 311.2L629.3 311.5M629.3 311.5L630.4 311.9M630.4 311.9L631.5 312.2M631.5 312.2L632.6 312.4M632.6 312.4L633.7 312.5M633.7 312.5L634.8 312.4M634.8 312.4L635.9 312.2M635.9 312.2L637.0 311.9M637.0 311.9L638.1 311.6M638.1 311.6L639.2 311.3M639.2 311.3L640.3 311.0M640.3 311.0L641.4 310.7M641.4 310.7L642.5 310.6M642.5 310.6L643.6 310.7M643.6 310.7L644.7 310.9M644.7 310.9L645.8 311.3M645.8 311.3L646.9 311.6M646.9 311.6L648.0 312.0M648.0 312.0L649.1 312.2M649.1 312.2L650.2 312.3M650.2 312.3L651.3 312.1M651.3 312.1L652.4 311.8M652.4 311.8L653.5 311.5M653.5 311.5L654.6 311.0M654.6 311.0L655.7 310.6M655.7 310.6L656.8 310.2M656.8 310.2L657.9 309.9M657.9 309.9L659.0 309.8M659.0 309.8L660.1 310.0M660.1 310.0L661.2 310.3M661.2 310.3L662.3 310.8M662.3 310.8L663.3 311.4M663.3 311.4L664.4 312.0M664.4 312.0L665.5 312.6M665.5 312.6L666.6 313.0M666.6 313.0L667.7 313.3M667.7 313.3L668.8 313.3M668.8 313.3L669.9 313.0M669.9 313.0L671.0 312.6M671.0 312.6L672.1 312.0M672.1 312.0L673.2 311.1M673.2 311.1L674.3 310.2M674.3 310.2L675.4 309.4M675.4 309.4L676.5 308.7M676.5 308.7L677.6 308.3M677.6 308.3L678.7 308.5M678.7 308.5L679.8 309.1M679.8 309.1L680.9 310.1M680.9 310.1L681.9 311.3M682.0 311.4L682.9 312.7M683.1 313.0L683.9 314.3M684.2 314.6L685.0 315.9" fill="none" stroke="#000" stroke-width="2.3" stroke-linejoin="round" stroke-linecap="butt"/></g></g>
<rect x="67.5" y="280.5" width="481.0" height="62.0" fill="none" stroke="#666" stroke-width="1"/>
<text transform="translate(63.20,287.80) scale(0.775,1)" font-size="17.2" text-anchor="end" fill="#222" stroke="#222" stroke-width="0.18">20</text>
<path d="M67.5 311.5h5M548.5 311.5h-5" stroke="#666" stroke-width="1" fill="none"/>
<text transform="translate(63.20,318.50) scale(0.775,1)" font-size="17.2" text-anchor="end" fill="#222" stroke="#222" stroke-width="0.18">0</text>
<text transform="translate(63.20,349.90) scale(0.775,1)" font-size="17.2" text-anchor="end" fill="#222" stroke="#222" stroke-width="0.18">-20</text>
<path d="M110.50 342.5v-6.3M110.50 280.5v6.3" stroke="#666" stroke-width="1" fill="none"/>
<text transform="translate(110.40,365.50) scale(0.775,1)" font-size="17.2" text-anchor="middle" fill="#222" stroke="#222" stroke-width="0.18">50</text>
<path d="M154.50 342.5v-6.3M154.50 280.5v6.3" stroke="#666" stroke-width="1" fill="none"/>
<text transform="translate(154.40,365.50) scale(0.775,1)" font-size="17.2" text-anchor="middle" fill="#222" stroke="#222" stroke-width="0.18">100</text>
<path d="M198.50 342.5v-6.3M198.50 280.5v6.3" stroke="#666" stroke-width="1" fill="none"/>
<text transform="translate(198.40,365.50) scale(0.775,1)" font-size="17.2" text-anchor="middle" fill="#222" stroke="#222" stroke-width="0.18">150</text>
<path d="M242.50 342.5v-6.3M242.50 280.5v6.3" stroke="#666" stroke-width="1" fill="none"/>
<text transform="translate(242.40,365.50) scale(0.775,1)" font-size="17.2" text-anchor="middle" fill="#222" stroke="#222" stroke-width="0.18">200</text>
<path d="M285.50 342.5v-6.3M285.50 280.5v6.3" stroke="#666" stroke-width="1" fill="none"/>
<text transform="translate(285.40,365.50) scale(0.775,1)" font-size="17.2" text-anchor="middle" fill="#222" stroke="#222" stroke-width="0.18">250</text>
<path d="M329.50 342.5v-6.3M329.50 280.5v6.3" stroke="#666" stroke-width="1" fill="none"/>
<text transform="translate(329.40,365.50) scale(0.775,1)" font-size="17.2" text-anchor="middle" fill="#222" stroke="#222" stroke-width="0.18">300</text>
<path d="M373.50 342.5v-6.3M373.50 280.5v6.3" stroke="#666" stroke-width="1" fill="none"/>
<text transform="translate(373.40,365.50) scale(0.775,1)" font-size="17.2" text-anchor="middle" fill="#222" stroke="#222" stroke-width="0.18">350</text>
<path d="M417.50 342.5v-6.3M417.50 280.5v6.3" stroke="#666" stroke-width="1" fill="none"/>
<text transform="translate(417.40,365.50) scale(0.775,1)" font-size="17.2" text-anchor="middle" fill="#222" stroke="#222" stroke-width="0.18">400</text>
<path d="M461.50 342.5v-6.3M461.50 280.5v6.3" stroke="#666" stroke-width="1" fill="none"/>
<text transform="translate(461.40,365.50) scale(0.775,1)" font-size="17.2" text-anchor="middle" fill="#222" stroke="#222" stroke-width="0.18">450</text>
<path d="M505.50 342.5v-6.3M505.50 280.5v6.3" stroke="#666" stroke-width="1" fill="none"/>
<text transform="translate(505.40,365.50) scale(0.775,1)" font-size="17.2" text-anchor="middle" fill="#222" stroke="#222" stroke-width="0.18">500</text>
<text transform="translate(301.2,383.8) scale(0.80,1)" font-size="17.9" text-anchor="middle" fill="#222" stroke="#222" stroke-width="0.18">displacement (km)</text>
<text transform="translate(9.90,61.00) scale(0.8,1) rotate(-90)" font-size="18.4" text-anchor="middle" fill="#222" stroke="#222" stroke-width="0.18">input</text>
<text transform="translate(28.80,63.30) scale(0.8,1) rotate(-90)" font-size="18.2" text-anchor="middle" fill="#222" stroke="#222" stroke-width="0.18">(km)</text>
<text transform="translate(17.5,115.8) scale(0.85,1) rotate(-90)" font-size="18.4" text-anchor="middle" fill="#222" stroke="#222" stroke-width="0.18">u<tspan font-size="13.2" dy="7.0" dx="0.3">1</tspan></text>
<text transform="translate(17.5,173.6) scale(0.85,1) rotate(-90)" font-size="18.4" text-anchor="middle" fill="#222" stroke="#222" stroke-width="0.18">u<tspan font-size="14.6" dy="5.8">2</tspan></text>
<text transform="translate(17.5,241.3) scale(0.85,1) rotate(-90)" font-size="18.4" text-anchor="middle" fill="#222" stroke="#222" stroke-width="0.18">u<tspan font-size="14.6" dy="5.8">3</tspan></text>
<text transform="translate(17.5,309.0) scale(0.85,1) rotate(-90)" font-size="18.4" text-anchor="middle" fill="#222" stroke="#222" stroke-width="0.18">u<tspan font-size="14.6" dy="5.8">4</tspan></text>
</svg>
</body></html>
